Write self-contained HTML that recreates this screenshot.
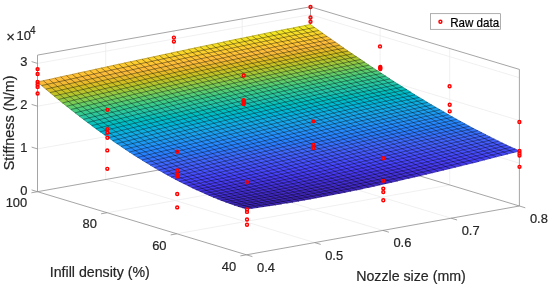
<!DOCTYPE html><html><head><meta charset="utf-8"><title>Stiffness surface</title><style>html,body{margin:0;padding:0;background:#fff}svg{display:block}text{font-family:"Liberation Sans",sans-serif;fill:#262626;stroke:#262626;stroke-width:0.2px}</style></head><body>
<svg width="550" height="287" viewBox="0 0 550 287">
<rect width="550" height="287" fill="#fff"/>
<path d="M107.2 212.7L380.1 163.9M176.8 233.8L449.7 185M105.7 179.5L314.7 242.6M173.9 167.3L382.9 230.4M242.2 155.1L451.2 218.2M105.7 179.5L105.7 42.9M173.9 167.3L173.9 30.7M242.2 155.1L242.2 18.5M37.5 148.9L310.4 100.1M37.5 106.2L310.4 57.4M37.5 63.4L310.4 14.6M380.1 163.9L380.1 27.3M449.7 185L449.7 48.4M310.4 100.1L519.4 163.2M310.4 57.4L519.4 120.5M310.4 14.6L519.4 77.7" fill="none" stroke="#ececec" stroke-width="0.8"/>
<path d="M37.5 191.7L310.4 142.9M310.4 142.9L519.4 206M310.4 142.9L310.5 6.8M37.5 55.1L310.5 6.8M310.5 6.8L519.4 69.4M519.4 206L519.4 69.4M37.5 191.7L37.5 55.1M37.5 191.7L246.5 254.8M246.5 254.8L519.4 206M37.5 191.7L31.6 189.9M37.5 148.9L31.6 147.1M37.5 106.2L31.6 104.4M37.5 63.4L31.6 61.6M37.5 191.7L31.4 192.8M107.2 212.7L101.1 213.8M176.8 233.8L170.7 234.9M246.5 254.8L240.4 255.9M246.5 254.8L252.4 256.6M314.7 242.6L320.7 244.4M382.9 230.4L388.9 232.2M451.2 218.2L457.1 220M519.4 206L525.3 207.8" fill="none" stroke="#8e8e8e" stroke-width="0.8"/>
<defs><g id="sf"><path d="M304.6 25.6l5.8 -1.1l4.2 3l-5.8 1.1z" color="#f5ea22"/><path d="M298.8 26.8l5.8 -1.1l4.2 3l-5.8 1.1z" color="#f5e923"/><path d="M293 27.9l5.8 -1.1l4.2 3l-5.8 1.1z" color="#f5e923"/><path d="M287.2 29.1l5.8 -1.1l4.2 3l-5.8 1.2z" color="#f5e823"/><path d="M281.4 30.2l5.8 -1.2l4.2 3l-5.8 1.2z" color="#f5e824"/><path d="M275.6 31.4l5.8 -1.2l4.2 3l-5.8 1.2z" color="#f5e724"/><path d="M269.8 32.5l5.8 -1.2l4.2 3l-5.8 1.2z" color="#f5e624"/><path d="M263.9 33.7l5.8 -1.2l4.2 3l-5.8 1.2z" color="#f5e624"/><path d="M258.1 34.9l5.8 -1.2l4.2 3l-5.8 1.2z" color="#f5e525"/><path d="M252.3 36.1l5.8 -1.2l4.2 3l-5.8 1.2z" color="#f5e425"/><path d="M246.5 37.3l5.8 -1.2l4.2 3l-5.8 1.2z" color="#f5e325"/><path d="M240.7 38.5l5.8 -1.2l4.2 3l-5.8 1.2z" color="#f5e226"/><path d="M234.9 39.6l5.8 -1.2l4.2 3l-5.8 1.2z" color="#f6e226"/><path d="M229.1 40.8l5.8 -1.2l4.2 3l-5.8 1.2z" color="#f6e126"/><path d="M223.3 42l5.8 -1.2l4.2 3.1l-5.8 1.2z" color="#f6e027"/><path d="M217.5 43.3l5.8 -1.2l4.2 3.1l-5.8 1.2z" color="#f6df27"/><path d="M211.7 44.5l5.8 -1.2l4.2 3.1l-5.8 1.2z" color="#f7de27"/><path d="M205.9 45.7l5.8 -1.2l4.2 3.1l-5.8 1.2z" color="#f7dd28"/><path d="M200.1 46.9l5.8 -1.2l4.2 3.1l-5.8 1.2z" color="#f7dc28"/><path d="M194.3 48.1l5.8 -1.2l4.2 3.1l-5.8 1.2z" color="#f8db29"/><path d="M188.5 49.3l5.8 -1.2l4.2 3.1l-5.8 1.2z" color="#f8da29"/><path d="M182.7 50.6l5.8 -1.2l4.2 3.1l-5.8 1.2z" color="#f9d82a"/><path d="M176.9 51.8l5.8 -1.2l4.2 3.1l-5.8 1.2z" color="#f9d72a"/><path d="M171 53l5.8 -1.2l4.2 3.2l-5.8 1.2z" color="#fad62b"/><path d="M165.2 54.3l5.8 -1.2l4.2 3.2l-5.8 1.3z" color="#fad52b"/><path d="M159.4 55.5l5.8 -1.2l4.2 3.2l-5.8 1.3z" color="#fbd42c"/><path d="M153.6 56.8l5.8 -1.2l4.2 3.2l-5.8 1.3z" color="#fcd32c"/><path d="M147.8 58l5.8 -1.2l4.2 3.2l-5.8 1.3z" color="#fcd22d"/><path d="M142 59.3l5.8 -1.2l4.2 3.2l-5.8 1.3z" color="#fdd02d"/><path d="M136.2 60.5l5.8 -1.3l4.2 3.2l-5.8 1.3z" color="#fdcf2e"/><path d="M130.4 61.8l5.8 -1.3l4.2 3.3l-5.8 1.3z" color="#fdce2e"/><path d="M124.6 63l5.8 -1.3l4.2 3.3l-5.8 1.3z" color="#fecd2f"/><path d="M118.8 64.3l5.8 -1.3l4.2 3.3l-5.8 1.3z" color="#fecc30"/><path d="M113 65.5l5.8 -1.3l4.2 3.3l-5.8 1.3z" color="#feca30"/><path d="M107.2 66.8l5.8 -1.3l4.2 3.3l-5.8 1.3z" color="#ffc931"/><path d="M101.4 68.1l5.8 -1.3l4.2 3.3l-5.8 1.3z" color="#ffc832"/><path d="M95.6 69.3l5.8 -1.3l4.2 3.3l-5.8 1.3z" color="#ffc733"/><path d="M89.8 70.6l5.8 -1.3l4.2 3.4l-5.8 1.3z" color="#ffc534"/><path d="M84 71.9l5.8 -1.3l4.2 3.4l-5.8 1.3z" color="#ffc434"/><path d="M78.1 73.1l5.8 -1.3l4.2 3.4l-5.8 1.3z" color="#ffc335"/><path d="M72.3 74.4l5.8 -1.3l4.2 3.4l-5.8 1.3z" color="#ffc236"/><path d="M66.5 75.7l5.8 -1.3l4.2 3.4l-5.8 1.3z" color="#ffc137"/><path d="M60.7 76.9l5.8 -1.3l4.2 3.5l-5.8 1.3z" color="#ffbf38"/><path d="M54.9 78.2l5.8 -1.3l4.2 3.5l-5.8 1.3z" color="#ffbe39"/><path d="M49.1 79.5l5.8 -1.3l4.2 3.5l-5.8 1.3z" color="#ffbd39"/><path d="M43.3 80.7l5.8 -1.3l4.2 3.5l-5.8 1.3z" color="#febc39"/><path d="M37.5 82l5.8 -1.3l4.2 3.5l-5.8 1.3z" color="#fcbc39"/><path d="M308.8 28.6l5.8 -1.1l4.2 3l-5.8 1.1z" color="#f6e126"/><path d="M303 29.8l5.8 -1.1l4.2 3l-5.8 1.1z" color="#f6e026"/><path d="M297.2 30.9l5.8 -1.1l4.2 3l-5.8 1.1z" color="#f6e027"/><path d="M291.4 32.1l5.8 -1.2l4.2 3l-5.8 1.2z" color="#f6df27"/><path d="M285.5 33.2l5.8 -1.2l4.2 3l-5.8 1.2z" color="#f7de27"/><path d="M279.7 34.4l5.8 -1.2l4.2 3l-5.8 1.2z" color="#f7de27"/><path d="M273.9 35.6l5.8 -1.2l4.2 3l-5.8 1.2z" color="#f7dd28"/><path d="M268.1 36.7l5.8 -1.2l4.2 3l-5.8 1.2z" color="#f7dc28"/><path d="M262.3 37.9l5.8 -1.2l4.2 3l-5.8 1.2z" color="#f8db28"/><path d="M256.5 39.1l5.8 -1.2l4.2 3l-5.8 1.2z" color="#f8db29"/><path d="M250.7 40.3l5.8 -1.2l4.2 3l-5.8 1.2z" color="#f8da29"/><path d="M244.9 41.5l5.8 -1.2l4.2 3l-5.8 1.2z" color="#f9d929"/><path d="M239.1 42.7l5.8 -1.2l4.2 3l-5.8 1.2z" color="#f9d82a"/><path d="M233.3 43.9l5.8 -1.2l4.2 3l-5.8 1.2z" color="#fad72a"/><path d="M227.5 45.1l5.8 -1.2l4.2 3l-5.8 1.2z" color="#fad62b"/><path d="M221.7 46.3l5.8 -1.2l4.2 3.1l-5.8 1.2z" color="#fbd52b"/><path d="M215.9 47.5l5.8 -1.2l4.2 3.1l-5.8 1.2z" color="#fbd42c"/><path d="M210.1 48.8l5.8 -1.2l4.2 3.1l-5.8 1.2z" color="#fbd32c"/><path d="M204.3 50l5.8 -1.2l4.2 3.1l-5.8 1.2z" color="#fcd22c"/><path d="M198.5 51.2l5.8 -1.2l4.2 3.1l-5.8 1.2z" color="#fcd12d"/><path d="M192.6 52.5l5.8 -1.2l4.2 3.1l-5.8 1.2z" color="#fdd02d"/><path d="M186.8 53.7l5.8 -1.2l4.2 3.1l-5.8 1.3z" color="#fdcf2e"/><path d="M181 55l5.8 -1.2l4.2 3.1l-5.8 1.3z" color="#fecd2f"/><path d="M175.2 56.2l5.8 -1.2l4.2 3.1l-5.8 1.3z" color="#fecc2f"/><path d="M169.4 57.5l5.8 -1.3l4.2 3.2l-5.8 1.3z" color="#fecb30"/><path d="M163.6 58.7l5.8 -1.3l4.2 3.2l-5.8 1.3z" color="#ffca31"/><path d="M157.8 60l5.8 -1.3l4.2 3.2l-5.8 1.3z" color="#ffc931"/><path d="M152 61.2l5.8 -1.3l4.2 3.2l-5.8 1.3z" color="#ffc732"/><path d="M146.2 62.5l5.8 -1.3l4.2 3.2l-5.8 1.3z" color="#ffc633"/><path d="M140.4 63.8l5.8 -1.3l4.2 3.2l-5.8 1.3z" color="#ffc534"/><path d="M134.6 65l5.8 -1.3l4.2 3.2l-5.8 1.3z" color="#ffc435"/><path d="M128.8 66.3l5.8 -1.3l4.2 3.2l-5.8 1.3z" color="#ffc336"/><path d="M123 67.6l5.8 -1.3l4.2 3.3l-5.8 1.3z" color="#ffc136"/><path d="M117.2 68.9l5.8 -1.3l4.2 3.3l-5.8 1.3z" color="#ffc037"/><path d="M111.4 70.1l5.8 -1.3l4.2 3.3l-5.8 1.3z" color="#ffbf38"/><path d="M105.6 71.4l5.8 -1.3l4.2 3.3l-5.8 1.3z" color="#ffbe39"/><path d="M99.7 72.7l5.8 -1.3l4.2 3.3l-5.8 1.3z" color="#febd39"/><path d="M93.9 74l5.8 -1.3l4.2 3.3l-5.8 1.3z" color="#fdbc39"/><path d="M88.1 75.3l5.8 -1.3l4.2 3.4l-5.8 1.3z" color="#fcbb3a"/><path d="M82.3 76.5l5.8 -1.3l4.2 3.4l-5.8 1.3z" color="#fbbb3a"/><path d="M76.5 77.8l5.8 -1.3l4.2 3.4l-5.8 1.3z" color="#f9ba39"/><path d="M70.7 79.1l5.8 -1.3l4.2 3.4l-5.8 1.3z" color="#f7ba37"/><path d="M64.9 80.4l5.8 -1.3l4.2 3.4l-5.8 1.3z" color="#f5ba36"/><path d="M59.1 81.7l5.8 -1.3l4.2 3.5l-5.8 1.3z" color="#f3ba34"/><path d="M53.3 83l5.8 -1.3l4.2 3.5l-5.8 1.3z" color="#f1ba32"/><path d="M47.5 84.3l5.8 -1.3l4.2 3.5l-5.8 1.3z" color="#efba30"/><path d="M41.7 85.6l5.8 -1.3l4.2 3.5l-5.8 1.3z" color="#edba2e"/><path d="M313 31.6l5.8 -1.1l4.2 3l-5.8 1.1z" color="#f9d82a"/><path d="M307.1 32.8l5.8 -1.1l4.2 3l-5.8 1.1z" color="#fad72a"/><path d="M301.3 33.9l5.8 -1.1l4.2 3l-5.8 1.1z" color="#fad72a"/><path d="M295.5 35.1l5.8 -1.2l4.2 3l-5.8 1.2z" color="#fad62b"/><path d="M289.7 36.2l5.8 -1.2l4.2 3l-5.8 1.2z" color="#fad52b"/><path d="M283.9 37.4l5.8 -1.2l4.2 3l-5.8 1.2z" color="#fbd42b"/><path d="M278.1 38.6l5.8 -1.2l4.2 3l-5.8 1.2z" color="#fbd42c"/><path d="M272.3 39.7l5.8 -1.2l4.2 3l-5.8 1.2z" color="#fbd32c"/><path d="M266.5 40.9l5.8 -1.2l4.2 3l-5.8 1.2z" color="#fcd22c"/><path d="M260.7 42.1l5.8 -1.2l4.2 3l-5.8 1.2z" color="#fcd12d"/><path d="M254.9 43.3l5.8 -1.2l4.2 3l-5.8 1.2z" color="#fdd02d"/><path d="M249.1 44.5l5.8 -1.2l4.2 3l-5.8 1.2z" color="#fdcf2d"/><path d="M243.3 45.7l5.8 -1.2l4.2 3l-5.8 1.2z" color="#fdcf2e"/><path d="M237.5 46.9l5.8 -1.2l4.2 3l-5.8 1.2z" color="#fece2e"/><path d="M231.7 48.2l5.8 -1.2l4.2 3l-5.8 1.2z" color="#fecd2f"/><path d="M225.9 49.4l5.8 -1.2l4.2 3l-5.8 1.2z" color="#fecc30"/><path d="M220.1 50.6l5.8 -1.2l4.2 3.1l-5.8 1.2z" color="#fecb30"/><path d="M214.2 51.9l5.8 -1.2l4.2 3.1l-5.8 1.2z" color="#ffc931"/><path d="M208.4 53.1l5.8 -1.2l4.2 3.1l-5.8 1.2z" color="#ffc831"/><path d="M202.6 54.3l5.8 -1.2l4.2 3.1l-5.8 1.3z" color="#ffc732"/><path d="M196.8 55.6l5.8 -1.2l4.2 3.1l-5.8 1.3z" color="#ffc633"/><path d="M191 56.8l5.8 -1.3l4.2 3.1l-5.8 1.3z" color="#ffc534"/><path d="M185.2 58.1l5.8 -1.3l4.2 3.1l-5.8 1.3z" color="#ffc435"/><path d="M179.4 59.4l5.8 -1.3l4.2 3.1l-5.8 1.3z" color="#ffc335"/><path d="M173.6 60.6l5.8 -1.3l4.2 3.1l-5.8 1.3z" color="#ffc236"/><path d="M167.8 61.9l5.8 -1.3l4.2 3.1l-5.8 1.3z" color="#ffc037"/><path d="M162 63.2l5.8 -1.3l4.2 3.2l-5.8 1.3z" color="#ffbf38"/><path d="M156.2 64.4l5.8 -1.3l4.2 3.2l-5.8 1.3z" color="#ffbe39"/><path d="M150.4 65.7l5.8 -1.3l4.2 3.2l-5.8 1.3z" color="#ffbd39"/><path d="M144.6 67l5.8 -1.3l4.2 3.2l-5.8 1.3z" color="#fdbc39"/><path d="M138.8 68.3l5.8 -1.3l4.2 3.2l-5.8 1.3z" color="#fcbc39"/><path d="M133 69.6l5.8 -1.3l4.2 3.2l-5.8 1.3z" color="#fbbb3a"/><path d="M127.1 70.9l5.8 -1.3l4.2 3.2l-5.8 1.3z" color="#faba3a"/><path d="M121.3 72.1l5.8 -1.3l4.2 3.3l-5.8 1.3z" color="#f8ba38"/><path d="M115.5 73.4l5.8 -1.3l4.2 3.3l-5.8 1.3z" color="#f6ba36"/><path d="M109.7 74.7l5.8 -1.3l4.2 3.3l-5.8 1.3z" color="#f4ba34"/><path d="M103.9 76l5.8 -1.3l4.2 3.3l-5.8 1.3z" color="#f2ba33"/><path d="M98.1 77.3l5.8 -1.3l4.2 3.3l-5.8 1.3z" color="#f0ba31"/><path d="M92.3 78.6l5.8 -1.3l4.2 3.3l-5.8 1.3z" color="#eeba2f"/><path d="M86.5 79.9l5.8 -1.3l4.2 3.4l-5.8 1.3z" color="#ecba2c"/><path d="M80.7 81.2l5.8 -1.3l4.2 3.4l-5.8 1.3z" color="#e9bb2a"/><path d="M74.9 82.5l5.8 -1.3l4.2 3.4l-5.8 1.3z" color="#e7bb29"/><path d="M69.1 83.9l5.8 -1.3l4.2 3.4l-5.8 1.3z" color="#e5bc27"/><path d="M63.3 85.2l5.8 -1.3l4.2 3.4l-5.8 1.3z" color="#e2bc26"/><path d="M57.5 86.5l5.8 -1.3l4.2 3.4l-5.8 1.3z" color="#e0bd25"/><path d="M51.7 87.8l5.8 -1.3l4.2 3.5l-5.8 1.3z" color="#ddbd24"/><path d="M45.9 89.1l5.8 -1.3l4.2 3.5l-5.8 1.3z" color="#dabe23"/><path d="M317.1 34.6l5.8 -1.1l4.2 3l-5.8 1.1z" color="#fdcf2e"/><path d="M311.3 35.7l5.8 -1.1l4.2 3l-5.8 1.1z" color="#fdce2e"/><path d="M305.5 36.9l5.8 -1.1l4.2 3l-5.8 1.2z" color="#fecd2f"/><path d="M299.7 38l5.8 -1.2l4.2 3l-5.8 1.2z" color="#fecd2f"/><path d="M293.9 39.2l5.8 -1.2l4.2 3l-5.8 1.2z" color="#fecc2f"/><path d="M288.1 40.4l5.8 -1.2l4.2 3l-5.8 1.2z" color="#fecb30"/><path d="M282.3 41.6l5.8 -1.2l4.2 3l-5.8 1.2z" color="#fecb30"/><path d="M276.5 42.7l5.8 -1.2l4.2 3l-5.8 1.2z" color="#ffca31"/><path d="M270.7 43.9l5.8 -1.2l4.2 3l-5.8 1.2z" color="#ffc931"/><path d="M264.9 45.1l5.8 -1.2l4.2 3l-5.8 1.2z" color="#ffc832"/><path d="M259.1 46.3l5.8 -1.2l4.2 3l-5.8 1.2z" color="#ffc732"/><path d="M253.3 47.5l5.8 -1.2l4.2 3l-5.8 1.2z" color="#ffc633"/><path d="M247.5 48.8l5.8 -1.2l4.2 3l-5.8 1.2z" color="#ffc633"/><path d="M241.7 50l5.8 -1.2l4.2 3l-5.8 1.2z" color="#ffc534"/><path d="M235.8 51.2l5.8 -1.2l4.2 3l-5.8 1.2z" color="#ffc435"/><path d="M230 52.4l5.8 -1.2l4.2 3l-5.8 1.2z" color="#ffc336"/><path d="M224.2 53.7l5.8 -1.2l4.2 3l-5.8 1.2z" color="#ffc236"/><path d="M218.4 54.9l5.8 -1.2l4.2 3l-5.8 1.3z" color="#ffc137"/><path d="M212.6 56.2l5.8 -1.2l4.2 3.1l-5.8 1.3z" color="#ffbf38"/><path d="M206.8 57.4l5.8 -1.3l4.2 3.1l-5.8 1.3z" color="#ffbe39"/><path d="M201 58.7l5.8 -1.3l4.2 3.1l-5.8 1.3z" color="#ffbd39"/><path d="M195.2 60l5.8 -1.3l4.2 3.1l-5.8 1.3z" color="#febd39"/><path d="M189.4 61.2l5.8 -1.3l4.2 3.1l-5.8 1.3z" color="#fdbc39"/><path d="M183.6 62.5l5.8 -1.3l4.2 3.1l-5.8 1.3z" color="#fcbb3a"/><path d="M177.8 63.8l5.8 -1.3l4.2 3.1l-5.8 1.3z" color="#fabb3a"/><path d="M172 65.1l5.8 -1.3l4.2 3.1l-5.8 1.3z" color="#f9ba39"/><path d="M166.2 66.3l5.8 -1.3l4.2 3.1l-5.8 1.3z" color="#f7ba37"/><path d="M160.4 67.6l5.8 -1.3l4.2 3.2l-5.8 1.3z" color="#f5ba36"/><path d="M154.6 68.9l5.8 -1.3l4.2 3.2l-5.8 1.3z" color="#f3ba34"/><path d="M148.7 70.2l5.8 -1.3l4.2 3.2l-5.8 1.3z" color="#f1ba32"/><path d="M142.9 71.5l5.8 -1.3l4.2 3.2l-5.8 1.3z" color="#efba30"/><path d="M137.1 72.8l5.8 -1.3l4.2 3.2l-5.8 1.3z" color="#edba2e"/><path d="M131.3 74.1l5.8 -1.3l4.2 3.2l-5.8 1.3z" color="#ebbb2c"/><path d="M125.5 75.4l5.8 -1.3l4.2 3.2l-5.8 1.3z" color="#e9bb2a"/><path d="M119.7 76.7l5.8 -1.3l4.2 3.3l-5.8 1.3z" color="#e7bb28"/><path d="M113.9 78l5.8 -1.3l4.2 3.3l-5.8 1.3z" color="#e4bc27"/><path d="M108.1 79.4l5.8 -1.3l4.2 3.3l-5.8 1.3z" color="#e2bc26"/><path d="M102.3 80.7l5.8 -1.3l4.2 3.3l-5.8 1.3z" color="#dfbd25"/><path d="M96.5 82l5.8 -1.3l4.2 3.3l-5.8 1.3z" color="#dcbd24"/><path d="M90.7 83.3l5.8 -1.3l4.2 3.3l-5.8 1.3z" color="#dabe23"/><path d="M84.9 84.6l5.8 -1.3l4.2 3.3l-5.8 1.3z" color="#d7be23"/><path d="M79.1 86l5.8 -1.3l4.2 3.4l-5.8 1.3z" color="#d4bf22"/><path d="M73.3 87.3l5.8 -1.3l4.2 3.4l-5.8 1.3z" color="#d1c022"/><path d="M67.5 88.6l5.8 -1.3l4.2 3.4l-5.8 1.3z" color="#cec023"/><path d="M61.7 89.9l5.8 -1.3l4.2 3.4l-5.8 1.3z" color="#cbc123"/><path d="M55.8 91.2l5.8 -1.3l4.2 3.4l-5.8 1.3z" color="#c8c224"/><path d="M50 92.6l5.8 -1.3l4.2 3.4l-5.8 1.3z" color="#c5c225"/><path d="M321.3 37.5l5.8 -1.1l4.2 2.9l-5.8 1.1z" color="#ffc633"/><path d="M315.5 38.7l5.8 -1.1l4.2 2.9l-5.8 1.1z" color="#ffc534"/><path d="M309.7 39.8l5.8 -1.2l4.2 3l-5.8 1.2z" color="#ffc534"/><path d="M303.9 41l5.8 -1.2l4.2 3l-5.8 1.2z" color="#ffc434"/><path d="M298.1 42.2l5.8 -1.2l4.2 3l-5.8 1.2z" color="#ffc435"/><path d="M292.3 43.3l5.8 -1.2l4.2 3l-5.8 1.2z" color="#ffc335"/><path d="M286.5 44.5l5.8 -1.2l4.2 3l-5.8 1.2z" color="#ffc236"/><path d="M280.7 45.7l5.8 -1.2l4.2 3l-5.8 1.2z" color="#ffc136"/><path d="M274.9 46.9l5.8 -1.2l4.2 3l-5.8 1.2z" color="#ffc137"/><path d="M269.1 48.1l5.8 -1.2l4.2 3l-5.8 1.2z" color="#ffc038"/><path d="M263.2 49.3l5.8 -1.2l4.2 3l-5.8 1.2z" color="#ffbf38"/><path d="M257.4 50.6l5.8 -1.2l4.2 3l-5.8 1.2z" color="#ffbe39"/><path d="M251.6 51.8l5.8 -1.2l4.2 3l-5.8 1.2z" color="#ffbd39"/><path d="M245.8 53l5.8 -1.2l4.2 3l-5.8 1.2z" color="#febd39"/><path d="M240 54.2l5.8 -1.2l4.2 3l-5.8 1.2z" color="#fdbc39"/><path d="M234.2 55.5l5.8 -1.2l4.2 3l-5.8 1.3z" color="#fcbb3a"/><path d="M228.4 56.7l5.8 -1.2l4.2 3l-5.8 1.3z" color="#fbbb3a"/><path d="M222.6 58l5.8 -1.3l4.2 3l-5.8 1.3z" color="#faba3a"/><path d="M216.8 59.2l5.8 -1.3l4.2 3l-5.8 1.3z" color="#f8ba38"/><path d="M211 60.5l5.8 -1.3l4.2 3.1l-5.8 1.3z" color="#f7ba37"/><path d="M205.2 61.8l5.8 -1.3l4.2 3.1l-5.8 1.3z" color="#f5ba35"/><path d="M199.4 63.1l5.8 -1.3l4.2 3.1l-5.8 1.3z" color="#f3ba34"/><path d="M193.6 64.3l5.8 -1.3l4.2 3.1l-5.8 1.3z" color="#f1ba32"/><path d="M187.8 65.6l5.8 -1.3l4.2 3.1l-5.8 1.3z" color="#efba30"/><path d="M182 66.9l5.8 -1.3l4.2 3.1l-5.8 1.3z" color="#edba2e"/><path d="M176.2 68.2l5.8 -1.3l4.2 3.1l-5.8 1.3z" color="#ebbb2c"/><path d="M170.3 69.5l5.8 -1.3l4.2 3.1l-5.8 1.3z" color="#e9bb2a"/><path d="M164.5 70.8l5.8 -1.3l4.2 3.1l-5.8 1.3z" color="#e7bb28"/><path d="M158.7 72.1l5.8 -1.3l4.2 3.2l-5.8 1.3z" color="#e5bc27"/><path d="M152.9 73.4l5.8 -1.3l4.2 3.2l-5.8 1.3z" color="#e2bc26"/><path d="M147.1 74.7l5.8 -1.3l4.2 3.2l-5.8 1.3z" color="#e0bd25"/><path d="M141.3 76l5.8 -1.3l4.2 3.2l-5.8 1.3z" color="#ddbd24"/><path d="M135.5 77.4l5.8 -1.3l4.2 3.2l-5.8 1.3z" color="#dabe23"/><path d="M129.7 78.7l5.8 -1.3l4.2 3.2l-5.8 1.3z" color="#d7be23"/><path d="M123.9 80l5.8 -1.3l4.2 3.2l-5.8 1.3z" color="#d5bf22"/><path d="M118.1 81.3l5.8 -1.3l4.2 3.2l-5.8 1.3z" color="#d2c022"/><path d="M112.3 82.7l5.8 -1.3l4.2 3.3l-5.8 1.3z" color="#cfc023"/><path d="M106.5 84l5.8 -1.3l4.2 3.3l-5.8 1.3z" color="#ccc123"/><path d="M100.7 85.3l5.8 -1.3l4.2 3.3l-5.8 1.3z" color="#c8c224"/><path d="M94.9 86.7l5.8 -1.3l4.2 3.3l-5.8 1.3z" color="#c5c225"/><path d="M89.1 88l5.8 -1.3l4.2 3.3l-5.8 1.4z" color="#c2c327"/><path d="M83.3 89.3l5.8 -1.3l4.2 3.3l-5.8 1.4z" color="#bec428"/><path d="M77.4 90.7l5.8 -1.3l4.2 3.3l-5.8 1.4z" color="#bbc42a"/><path d="M71.6 92l5.8 -1.3l4.2 3.4l-5.8 1.4z" color="#b7c52c"/><path d="M65.8 93.4l5.8 -1.3l4.2 3.4l-5.8 1.4z" color="#b4c62e"/><path d="M60 94.7l5.8 -1.3l4.2 3.4l-5.8 1.4z" color="#b0c630"/><path d="M54.2 96l5.8 -1.3l4.2 3.4l-5.8 1.4z" color="#acc733"/><path d="M325.5 40.5l5.8 -1.1l4.2 2.9l-5.8 1.1z" color="#ffbe39"/><path d="M319.7 41.6l5.8 -1.1l4.2 2.9l-5.8 1.1z" color="#ffbd39"/><path d="M313.9 42.8l5.8 -1.2l4.2 2.9l-5.8 1.2z" color="#ffbd39"/><path d="M308.1 44l5.8 -1.2l4.2 2.9l-5.8 1.2z" color="#febd39"/><path d="M302.3 45.1l5.8 -1.2l4.2 2.9l-5.8 1.2z" color="#fdbc39"/><path d="M296.5 46.3l5.8 -1.2l4.2 2.9l-5.8 1.2z" color="#fdbc39"/><path d="M290.7 47.5l5.8 -1.2l4.2 3l-5.8 1.2z" color="#fcbb3a"/><path d="M284.8 48.7l5.8 -1.2l4.2 3l-5.8 1.2z" color="#fbbb3a"/><path d="M279 49.9l5.8 -1.2l4.2 3l-5.8 1.2z" color="#faba3a"/><path d="M273.2 51.1l5.8 -1.2l4.2 3l-5.8 1.2z" color="#f9ba39"/><path d="M267.4 52.3l5.8 -1.2l4.2 3l-5.8 1.2z" color="#f8ba38"/><path d="M261.6 53.5l5.8 -1.2l4.2 3l-5.8 1.2z" color="#f7ba37"/><path d="M255.8 54.8l5.8 -1.2l4.2 3l-5.8 1.2z" color="#f5ba36"/><path d="M250 56l5.8 -1.2l4.2 3l-5.8 1.2z" color="#f4ba34"/><path d="M244.2 57.3l5.8 -1.2l4.2 3l-5.8 1.3z" color="#f2ba33"/><path d="M238.4 58.5l5.8 -1.3l4.2 3l-5.8 1.3z" color="#f1ba31"/><path d="M232.6 59.8l5.8 -1.3l4.2 3l-5.8 1.3z" color="#efba30"/><path d="M226.8 61l5.8 -1.3l4.2 3l-5.8 1.3z" color="#edba2e"/><path d="M221 62.3l5.8 -1.3l4.2 3l-5.8 1.3z" color="#ebbb2c"/><path d="M215.2 63.6l5.8 -1.3l4.2 3l-5.8 1.3z" color="#e9bb2a"/><path d="M209.4 64.9l5.8 -1.3l4.2 3.1l-5.8 1.3z" color="#e7bb29"/><path d="M203.6 66.1l5.8 -1.3l4.2 3.1l-5.8 1.3z" color="#e5bb28"/><path d="M197.8 67.4l5.8 -1.3l4.2 3.1l-5.8 1.3z" color="#e3bc26"/><path d="M191.9 68.7l5.8 -1.3l4.2 3.1l-5.8 1.3z" color="#e0bc25"/><path d="M186.1 70l5.8 -1.3l4.2 3.1l-5.8 1.3z" color="#debd24"/><path d="M180.3 71.3l5.8 -1.3l4.2 3.1l-5.8 1.3z" color="#dbbd24"/><path d="M174.5 72.6l5.8 -1.3l4.2 3.1l-5.8 1.3z" color="#d9be23"/><path d="M168.7 74l5.8 -1.3l4.2 3.1l-5.8 1.3z" color="#d6bf23"/><path d="M162.9 75.3l5.8 -1.3l4.2 3.1l-5.8 1.3z" color="#d3bf22"/><path d="M157.1 76.6l5.8 -1.3l4.2 3.2l-5.8 1.3z" color="#d0c022"/><path d="M151.3 77.9l5.8 -1.3l4.2 3.2l-5.8 1.3z" color="#cdc023"/><path d="M145.5 79.2l5.8 -1.3l4.2 3.2l-5.8 1.3z" color="#cac124"/><path d="M139.7 80.6l5.8 -1.3l4.2 3.2l-5.8 1.3z" color="#c7c224"/><path d="M133.9 81.9l5.8 -1.3l4.2 3.2l-5.8 1.3z" color="#c4c326"/><path d="M128.1 83.3l5.8 -1.3l4.2 3.2l-5.8 1.4z" color="#c0c327"/><path d="M122.3 84.6l5.8 -1.3l4.2 3.2l-5.8 1.4z" color="#bdc429"/><path d="M116.5 85.9l5.8 -1.3l4.2 3.2l-5.8 1.4z" color="#bac52b"/><path d="M110.7 87.3l5.8 -1.3l4.2 3.3l-5.8 1.4z" color="#b6c52d"/><path d="M104.9 88.6l5.8 -1.3l4.2 3.3l-5.8 1.4z" color="#b2c62f"/><path d="M99 90l5.8 -1.3l4.2 3.3l-5.8 1.4z" color="#aec731"/><path d="M93.2 91.3l5.8 -1.4l4.2 3.3l-5.8 1.4z" color="#abc734"/><path d="M87.4 92.7l5.8 -1.4l4.2 3.3l-5.8 1.4z" color="#a7c836"/><path d="M81.6 94l5.8 -1.4l4.2 3.3l-5.8 1.4z" color="#a3c939"/><path d="M75.8 95.4l5.8 -1.4l4.2 3.3l-5.8 1.4z" color="#9fc93c"/><path d="M70 96.7l5.8 -1.4l4.2 3.3l-5.8 1.4z" color="#9bca3f"/><path d="M64.2 98.1l5.8 -1.4l4.2 3.4l-5.8 1.4z" color="#96ca42"/><path d="M58.4 99.5l5.8 -1.4l4.2 3.4l-5.8 1.4z" color="#92cb45"/><path d="M329.7 43.4l5.8 -1.1l4.2 2.9l-5.8 1.1z" color="#f7ba37"/><path d="M323.9 44.6l5.8 -1.1l4.2 2.9l-5.8 1.2z" color="#f6ba36"/><path d="M318.1 45.7l5.8 -1.2l4.2 2.9l-5.8 1.2z" color="#f5ba35"/><path d="M312.3 46.9l5.8 -1.2l4.2 2.9l-5.8 1.2z" color="#f4ba35"/><path d="M306.4 48.1l5.8 -1.2l4.2 2.9l-5.8 1.2z" color="#f3ba34"/><path d="M300.6 49.3l5.8 -1.2l4.2 2.9l-5.8 1.2z" color="#f2ba33"/><path d="M294.8 50.5l5.8 -1.2l4.2 2.9l-5.8 1.2z" color="#f1ba32"/><path d="M289 51.7l5.8 -1.2l4.2 2.9l-5.8 1.2z" color="#f0ba30"/><path d="M283.2 52.9l5.8 -1.2l4.2 2.9l-5.8 1.2z" color="#eeba2f"/><path d="M277.4 54.1l5.8 -1.2l4.2 3l-5.8 1.2z" color="#edba2e"/><path d="M271.6 55.3l5.8 -1.2l4.2 3l-5.8 1.2z" color="#ebba2c"/><path d="M265.8 56.5l5.8 -1.2l4.2 3l-5.8 1.2z" color="#eabb2b"/><path d="M260 57.8l5.8 -1.2l4.2 3l-5.8 1.2z" color="#e8bb29"/><path d="M254.2 59l5.8 -1.2l4.2 3l-5.8 1.3z" color="#e6bb28"/><path d="M248.4 60.3l5.8 -1.3l4.2 3l-5.8 1.3z" color="#e5bc27"/><path d="M242.6 61.5l5.8 -1.3l4.2 3l-5.8 1.3z" color="#e3bc26"/><path d="M236.8 62.8l5.8 -1.3l4.2 3l-5.8 1.3z" color="#e0bc25"/><path d="M231 64.1l5.8 -1.3l4.2 3l-5.8 1.3z" color="#debd24"/><path d="M225.2 65.3l5.8 -1.3l4.2 3l-5.8 1.3z" color="#dcbd24"/><path d="M219.4 66.6l5.8 -1.3l4.2 3l-5.8 1.3z" color="#dabe23"/><path d="M213.5 67.9l5.8 -1.3l4.2 3l-5.8 1.3z" color="#d7be23"/><path d="M207.7 69.2l5.8 -1.3l4.2 3l-5.8 1.3z" color="#d5bf22"/><path d="M201.9 70.5l5.8 -1.3l4.2 3.1l-5.8 1.3z" color="#d2bf22"/><path d="M196.1 71.8l5.8 -1.3l4.2 3.1l-5.8 1.3z" color="#cfc023"/><path d="M190.3 73.1l5.8 -1.3l4.2 3.1l-5.8 1.3z" color="#ccc123"/><path d="M184.5 74.5l5.8 -1.3l4.2 3.1l-5.8 1.3z" color="#c9c124"/><path d="M178.7 75.8l5.8 -1.3l4.2 3.1l-5.8 1.3z" color="#c6c224"/><path d="M172.9 77.1l5.8 -1.3l4.2 3.1l-5.8 1.3z" color="#c3c326"/><path d="M167.1 78.4l5.8 -1.3l4.2 3.1l-5.8 1.3z" color="#c0c328"/><path d="M161.3 79.8l5.8 -1.3l4.2 3.1l-5.8 1.3z" color="#bdc429"/><path d="M155.5 81.1l5.8 -1.3l4.2 3.1l-5.8 1.3z" color="#b9c52b"/><path d="M149.7 82.4l5.8 -1.3l4.2 3.2l-5.8 1.4z" color="#b6c52d"/><path d="M143.9 83.8l5.8 -1.3l4.2 3.2l-5.8 1.4z" color="#b2c62f"/><path d="M138.1 85.1l5.8 -1.3l4.2 3.2l-5.8 1.4z" color="#aec731"/><path d="M132.3 86.5l5.8 -1.4l4.2 3.2l-5.8 1.4z" color="#aac734"/><path d="M126.5 87.8l5.8 -1.4l4.2 3.2l-5.8 1.4z" color="#a7c836"/><path d="M120.6 89.2l5.8 -1.4l4.2 3.2l-5.8 1.4z" color="#a2c939"/><path d="M114.8 90.5l5.8 -1.4l4.2 3.2l-5.8 1.4z" color="#9ec93c"/><path d="M109 91.9l5.8 -1.4l4.2 3.2l-5.8 1.4z" color="#9aca3f"/><path d="M103.2 93.3l5.8 -1.4l4.2 3.3l-5.8 1.4z" color="#96ca42"/><path d="M97.4 94.6l5.8 -1.4l4.2 3.3l-5.8 1.4z" color="#92cb45"/><path d="M91.6 96l5.8 -1.4l4.2 3.3l-5.8 1.4z" color="#8ecc49"/><path d="M85.8 97.4l5.8 -1.4l4.2 3.3l-5.8 1.4z" color="#89cc4c"/><path d="M80 98.7l5.8 -1.4l4.2 3.3l-5.8 1.4z" color="#85cc4f"/><path d="M74.2 100.1l5.8 -1.4l4.2 3.3l-5.8 1.4z" color="#80cd52"/><path d="M68.4 101.5l5.8 -1.4l4.2 3.3l-5.8 1.4z" color="#7ccd56"/><path d="M62.6 102.9l5.8 -1.4l4.2 3.3l-5.8 1.4z" color="#77cd59"/><path d="M333.9 46.4l5.8 -1.1l4.2 2.9l-5.8 1.1z" color="#ebbb2c"/><path d="M328 47.5l5.8 -1.2l4.2 2.9l-5.8 1.2z" color="#eabb2b"/><path d="M322.2 48.7l5.8 -1.2l4.2 2.9l-5.8 1.2z" color="#e9bb2a"/><path d="M316.4 49.8l5.8 -1.2l4.2 2.9l-5.8 1.2z" color="#e8bb29"/><path d="M310.6 51l5.8 -1.2l4.2 2.9l-5.8 1.2z" color="#e6bb28"/><path d="M304.8 52.2l5.8 -1.2l4.2 2.9l-5.8 1.2z" color="#e5bb28"/><path d="M299 53.4l5.8 -1.2l4.2 2.9l-5.8 1.2z" color="#e4bc27"/><path d="M293.2 54.6l5.8 -1.2l4.2 2.9l-5.8 1.2z" color="#e2bc26"/><path d="M287.4 55.8l5.8 -1.2l4.2 2.9l-5.8 1.2z" color="#e1bc25"/><path d="M281.6 57l5.8 -1.2l4.2 2.9l-5.8 1.2z" color="#dfbd25"/><path d="M275.8 58.3l5.8 -1.2l4.2 2.9l-5.8 1.2z" color="#ddbd24"/><path d="M270 59.5l5.8 -1.2l4.2 3l-5.8 1.2z" color="#dbbd24"/><path d="M264.2 60.8l5.8 -1.2l4.2 3l-5.8 1.3z" color="#d9be23"/><path d="M258.4 62l5.8 -1.3l4.2 3l-5.8 1.3z" color="#d7be23"/><path d="M252.6 63.3l5.8 -1.3l4.2 3l-5.8 1.3z" color="#d5bf22"/><path d="M246.8 64.5l5.8 -1.3l4.2 3l-5.8 1.3z" color="#d3bf22"/><path d="M241 65.8l5.8 -1.3l4.2 3l-5.8 1.3z" color="#d0c022"/><path d="M235.1 67.1l5.8 -1.3l4.2 3l-5.8 1.3z" color="#cec023"/><path d="M229.3 68.4l5.8 -1.3l4.2 3l-5.8 1.3z" color="#cbc123"/><path d="M223.5 69.7l5.8 -1.3l4.2 3l-5.8 1.3z" color="#c8c224"/><path d="M217.7 71l5.8 -1.3l4.2 3l-5.8 1.3z" color="#c6c225"/><path d="M211.9 72.3l5.8 -1.3l4.2 3l-5.8 1.3z" color="#c3c326"/><path d="M206.1 73.6l5.8 -1.3l4.2 3l-5.8 1.3z" color="#bfc328"/><path d="M200.3 74.9l5.8 -1.3l4.2 3.1l-5.8 1.3z" color="#bcc429"/><path d="M194.5 76.2l5.8 -1.3l4.2 3.1l-5.8 1.3z" color="#b9c52b"/><path d="M188.7 77.5l5.8 -1.3l4.2 3.1l-5.8 1.3z" color="#b6c52d"/><path d="M182.9 78.9l5.8 -1.3l4.2 3.1l-5.8 1.3z" color="#b2c62f"/><path d="M177.1 80.2l5.8 -1.3l4.2 3.1l-5.8 1.3z" color="#afc731"/><path d="M171.3 81.6l5.8 -1.3l4.2 3.1l-5.8 1.4z" color="#abc733"/><path d="M165.5 82.9l5.8 -1.3l4.2 3.1l-5.8 1.4z" color="#a7c836"/><path d="M159.7 84.3l5.8 -1.3l4.2 3.1l-5.8 1.4z" color="#a3c939"/><path d="M153.9 85.6l5.8 -1.4l4.2 3.1l-5.8 1.4z" color="#9fc93b"/><path d="M148 87l5.8 -1.4l4.2 3.1l-5.8 1.4z" color="#9bca3e"/><path d="M142.2 88.3l5.8 -1.4l4.2 3.2l-5.8 1.4z" color="#97ca41"/><path d="M136.4 89.7l5.8 -1.4l4.2 3.2l-5.8 1.4z" color="#93cb45"/><path d="M130.6 91l5.8 -1.4l4.2 3.2l-5.8 1.4z" color="#8fcb48"/><path d="M124.8 92.4l5.8 -1.4l4.2 3.2l-5.8 1.4z" color="#8acc4b"/><path d="M119 93.8l5.8 -1.4l4.2 3.2l-5.8 1.4z" color="#86cc4e"/><path d="M113.2 95.2l5.8 -1.4l4.2 3.2l-5.8 1.4z" color="#82cd52"/><path d="M107.4 96.5l5.8 -1.4l4.2 3.2l-5.8 1.4z" color="#7dcd55"/><path d="M101.6 97.9l5.8 -1.4l4.2 3.2l-5.8 1.4z" color="#78cd58"/><path d="M95.8 99.3l5.8 -1.4l4.2 3.3l-5.8 1.4z" color="#74ce5c"/><path d="M90 100.7l5.8 -1.4l4.2 3.3l-5.8 1.4z" color="#6fce5f"/><path d="M84.2 102.1l5.8 -1.4l4.2 3.3l-5.8 1.4z" color="#6bce62"/><path d="M78.4 103.4l5.8 -1.4l4.2 3.3l-5.8 1.4z" color="#66ce66"/><path d="M72.6 104.8l5.8 -1.4l4.2 3.3l-5.8 1.4z" color="#62ce6a"/><path d="M66.8 106.2l5.8 -1.4l4.2 3.3l-5.8 1.4z" color="#5ece6d"/><path d="M338 49.3l5.8 -1.1l4.2 2.9l-5.8 1.1z" color="#ddbd24"/><path d="M332.2 50.4l5.8 -1.2l4.2 2.9l-5.8 1.2z" color="#dcbd24"/><path d="M326.4 51.6l5.8 -1.2l4.2 2.9l-5.8 1.2z" color="#dabe23"/><path d="M320.6 52.8l5.8 -1.2l4.2 2.9l-5.8 1.2z" color="#d9be23"/><path d="M314.8 53.9l5.8 -1.2l4.2 2.9l-5.8 1.2z" color="#d8be23"/><path d="M309 55.1l5.8 -1.2l4.2 2.9l-5.8 1.2z" color="#d6bf23"/><path d="M303.2 56.3l5.8 -1.2l4.2 2.9l-5.8 1.2z" color="#d5bf22"/><path d="M297.4 57.5l5.8 -1.2l4.2 2.9l-5.8 1.2z" color="#d3bf22"/><path d="M291.6 58.8l5.8 -1.2l4.2 2.9l-5.8 1.2z" color="#d1c022"/><path d="M285.8 60l5.8 -1.2l4.2 2.9l-5.8 1.2z" color="#cfc023"/><path d="M280 61.2l5.8 -1.2l4.2 2.9l-5.8 1.2z" color="#cdc123"/><path d="M274.2 62.5l5.8 -1.2l4.2 2.9l-5.8 1.3z" color="#cbc124"/><path d="M268.4 63.7l5.8 -1.3l4.2 2.9l-5.8 1.3z" color="#c9c224"/><path d="M262.6 65l5.8 -1.3l4.2 3l-5.8 1.3z" color="#c6c225"/><path d="M256.7 66.2l5.8 -1.3l4.2 3l-5.8 1.3z" color="#c4c326"/><path d="M250.9 67.5l5.8 -1.3l4.2 3l-5.8 1.3z" color="#c1c327"/><path d="M245.1 68.8l5.8 -1.3l4.2 3l-5.8 1.3z" color="#bec428"/><path d="M239.3 70.1l5.8 -1.3l4.2 3l-5.8 1.3z" color="#bbc42a"/><path d="M233.5 71.4l5.8 -1.3l4.2 3l-5.8 1.3z" color="#b8c52b"/><path d="M227.7 72.7l5.8 -1.3l4.2 3l-5.8 1.3z" color="#b5c52d"/><path d="M221.9 74l5.8 -1.3l4.2 3l-5.8 1.3z" color="#b2c62f"/><path d="M216.1 75.3l5.8 -1.3l4.2 3l-5.8 1.3z" color="#afc731"/><path d="M210.3 76.6l5.8 -1.3l4.2 3l-5.8 1.3z" color="#abc733"/><path d="M204.5 78l5.8 -1.3l4.2 3l-5.8 1.3z" color="#a8c836"/><path d="M198.7 79.3l5.8 -1.3l4.2 3l-5.8 1.3z" color="#a4c838"/><path d="M192.9 80.6l5.8 -1.3l4.2 3.1l-5.8 1.3z" color="#a0c93b"/><path d="M187.1 82l5.8 -1.3l4.2 3.1l-5.8 1.4z" color="#9dca3d"/><path d="M181.3 83.3l5.8 -1.3l4.2 3.1l-5.8 1.4z" color="#99ca40"/><path d="M175.5 84.7l5.8 -1.4l4.2 3.1l-5.8 1.4z" color="#95cb43"/><path d="M169.6 86l5.8 -1.4l4.2 3.1l-5.8 1.4z" color="#91cb46"/><path d="M163.8 87.4l5.8 -1.4l4.2 3.1l-5.8 1.4z" color="#8ccc4a"/><path d="M158 88.7l5.8 -1.4l4.2 3.1l-5.8 1.4z" color="#88cc4d"/><path d="M152.2 90.1l5.8 -1.4l4.2 3.1l-5.8 1.4z" color="#84cc50"/><path d="M146.4 91.5l5.8 -1.4l4.2 3.1l-5.8 1.4z" color="#7fcd53"/><path d="M140.6 92.9l5.8 -1.4l4.2 3.1l-5.8 1.4z" color="#7bcd57"/><path d="M134.8 94.2l5.8 -1.4l4.2 3.2l-5.8 1.4z" color="#76ce5a"/><path d="M129 95.6l5.8 -1.4l4.2 3.2l-5.8 1.4z" color="#72ce5d"/><path d="M123.2 97l5.8 -1.4l4.2 3.2l-5.8 1.4z" color="#6dce61"/><path d="M117.4 98.4l5.8 -1.4l4.2 3.2l-5.8 1.4z" color="#69ce64"/><path d="M111.6 99.8l5.8 -1.4l4.2 3.2l-5.8 1.4z" color="#64ce68"/><path d="M105.8 101.2l5.8 -1.4l4.2 3.2l-5.8 1.4z" color="#60ce6b"/><path d="M100 102.6l5.8 -1.4l4.2 3.2l-5.8 1.4z" color="#5cce6f"/><path d="M94.2 103.9l5.8 -1.4l4.2 3.2l-5.8 1.4z" color="#57ce72"/><path d="M88.4 105.3l5.8 -1.4l4.2 3.2l-5.8 1.4z" color="#53ce76"/><path d="M82.6 106.7l5.8 -1.4l4.2 3.3l-5.8 1.4z" color="#4fce79"/><path d="M76.7 108.1l5.8 -1.4l4.2 3.3l-5.8 1.4z" color="#4bce7d"/><path d="M70.9 109.5l5.8 -1.4l4.2 3.3l-5.8 1.4z" color="#47cd80"/><path d="M342.2 52.2l5.8 -1.1l4.2 2.9l-5.8 1.1z" color="#cdc123"/><path d="M336.4 53.3l5.8 -1.2l4.2 2.9l-5.8 1.2z" color="#ccc123"/><path d="M330.6 54.5l5.8 -1.2l4.2 2.9l-5.8 1.2z" color="#cac124"/><path d="M324.8 55.7l5.8 -1.2l4.2 2.9l-5.8 1.2z" color="#c9c124"/><path d="M319 56.8l5.8 -1.2l4.2 2.9l-5.8 1.2z" color="#c7c224"/><path d="M313.2 58l5.8 -1.2l4.2 2.9l-5.8 1.2z" color="#c6c225"/><path d="M307.4 59.2l5.8 -1.2l4.2 2.9l-5.8 1.2z" color="#c4c326"/><path d="M301.6 60.5l5.8 -1.2l4.2 2.9l-5.8 1.2z" color="#c2c327"/><path d="M295.8 61.7l5.8 -1.2l4.2 2.9l-5.8 1.2z" color="#c0c328"/><path d="M290 62.9l5.8 -1.2l4.2 2.9l-5.8 1.2z" color="#bec429"/><path d="M284.1 64.2l5.8 -1.2l4.2 2.9l-5.8 1.2z" color="#bbc42a"/><path d="M278.3 65.4l5.8 -1.3l4.2 2.9l-5.8 1.3z" color="#b9c52b"/><path d="M272.5 66.7l5.8 -1.3l4.2 2.9l-5.8 1.3z" color="#b6c52d"/><path d="M266.7 67.9l5.8 -1.3l4.2 2.9l-5.8 1.3z" color="#b3c62e"/><path d="M260.9 69.2l5.8 -1.3l4.2 2.9l-5.8 1.3z" color="#b1c630"/><path d="M255.1 70.5l5.8 -1.3l4.2 3l-5.8 1.3z" color="#aec732"/><path d="M249.3 71.8l5.8 -1.3l4.2 3l-5.8 1.3z" color="#abc733"/><path d="M243.5 73.1l5.8 -1.3l4.2 3l-5.8 1.3z" color="#a8c836"/><path d="M237.7 74.4l5.8 -1.3l4.2 3l-5.8 1.3z" color="#a4c838"/><path d="M231.9 75.7l5.8 -1.3l4.2 3l-5.8 1.3z" color="#a1c93a"/><path d="M226.1 77l5.8 -1.3l4.2 3l-5.8 1.3z" color="#9dca3d"/><path d="M220.3 78.3l5.8 -1.3l4.2 3l-5.8 1.3z" color="#9aca3f"/><path d="M214.5 79.7l5.8 -1.3l4.2 3l-5.8 1.3z" color="#96ca42"/><path d="M208.7 81l5.8 -1.3l4.2 3l-5.8 1.3z" color="#92cb45"/><path d="M202.9 82.3l5.8 -1.3l4.2 3l-5.8 1.4z" color="#8ecb48"/><path d="M197.1 83.7l5.8 -1.3l4.2 3l-5.8 1.4z" color="#8acc4b"/><path d="M191.2 85l5.8 -1.4l4.2 3l-5.8 1.4z" color="#86cc4e"/><path d="M185.4 86.4l5.8 -1.4l4.2 3.1l-5.8 1.4z" color="#82cd51"/><path d="M179.6 87.8l5.8 -1.4l4.2 3.1l-5.8 1.4z" color="#7ecd55"/><path d="M173.8 89.1l5.8 -1.4l4.2 3.1l-5.8 1.4z" color="#79cd58"/><path d="M168 90.5l5.8 -1.4l4.2 3.1l-5.8 1.4z" color="#75ce5b"/><path d="M162.2 91.9l5.8 -1.4l4.2 3.1l-5.8 1.4z" color="#70ce5e"/><path d="M156.4 93.3l5.8 -1.4l4.2 3.1l-5.8 1.4z" color="#6cce62"/><path d="M150.6 94.6l5.8 -1.4l4.2 3.1l-5.8 1.4z" color="#67ce65"/><path d="M144.8 96l5.8 -1.4l4.2 3.1l-5.8 1.4z" color="#63ce69"/><path d="M139 97.4l5.8 -1.4l4.2 3.1l-5.8 1.4z" color="#5fce6c"/><path d="M133.2 98.8l5.8 -1.4l4.2 3.1l-5.8 1.4z" color="#5ace70"/><path d="M127.4 100.2l5.8 -1.4l4.2 3.2l-5.8 1.4z" color="#56ce73"/><path d="M121.6 101.6l5.8 -1.4l4.2 3.2l-5.8 1.4z" color="#52ce77"/><path d="M115.8 103l5.8 -1.4l4.2 3.2l-5.8 1.4z" color="#4ece7a"/><path d="M110 104.4l5.8 -1.4l4.2 3.2l-5.8 1.4z" color="#4ace7e"/><path d="M104.2 105.8l5.8 -1.4l4.2 3.2l-5.8 1.4z" color="#46cd81"/><path d="M98.3 107.2l5.8 -1.4l4.2 3.2l-5.8 1.4z" color="#42cd84"/><path d="M92.5 108.6l5.8 -1.4l4.2 3.2l-5.8 1.4z" color="#3ecd88"/><path d="M86.7 110l5.8 -1.4l4.2 3.2l-5.8 1.4z" color="#3acc8b"/><path d="M80.9 111.4l5.8 -1.4l4.2 3.2l-5.8 1.4z" color="#37cc8e"/><path d="M75.1 112.8l5.8 -1.4l4.2 3.2l-5.8 1.4z" color="#34cb91"/><path d="M346.4 55l5.8 -1.1l4.2 2.9l-5.8 1.2z" color="#bcc42a"/><path d="M340.6 56.2l5.8 -1.2l4.2 2.9l-5.8 1.2z" color="#bbc42a"/><path d="M334.8 57.4l5.8 -1.2l4.2 2.9l-5.8 1.2z" color="#b9c52b"/><path d="M329 58.5l5.8 -1.2l4.2 2.9l-5.8 1.2z" color="#b8c52c"/><path d="M323.2 59.7l5.8 -1.2l4.2 2.9l-5.8 1.2z" color="#b6c52d"/><path d="M317.4 60.9l5.8 -1.2l4.2 2.9l-5.8 1.2z" color="#b4c62e"/><path d="M311.6 62.1l5.8 -1.2l4.2 2.9l-5.8 1.2z" color="#b2c62f"/><path d="M305.7 63.4l5.8 -1.2l4.2 2.9l-5.8 1.2z" color="#b0c731"/><path d="M299.9 64.6l5.8 -1.2l4.2 2.9l-5.8 1.2z" color="#adc732"/><path d="M294.1 65.8l5.8 -1.2l4.2 2.9l-5.8 1.2z" color="#abc733"/><path d="M288.3 67.1l5.8 -1.2l4.2 2.9l-5.8 1.3z" color="#a8c835"/><path d="M282.5 68.3l5.8 -1.3l4.2 2.9l-5.8 1.3z" color="#a5c837"/><path d="M276.7 69.6l5.8 -1.3l4.2 2.9l-5.8 1.3z" color="#a3c939"/><path d="M270.9 70.9l5.8 -1.3l4.2 2.9l-5.8 1.3z" color="#a0c93b"/><path d="M265.1 72.2l5.8 -1.3l4.2 2.9l-5.8 1.3z" color="#9dca3d"/><path d="M259.3 73.5l5.8 -1.3l4.2 2.9l-5.8 1.3z" color="#99ca40"/><path d="M253.5 74.8l5.8 -1.3l4.2 2.9l-5.8 1.3z" color="#96ca42"/><path d="M247.7 76.1l5.8 -1.3l4.2 3l-5.8 1.3z" color="#93cb45"/><path d="M241.9 77.4l5.8 -1.3l4.2 3l-5.8 1.3z" color="#8fcb47"/><path d="M236.1 78.7l5.8 -1.3l4.2 3l-5.8 1.3z" color="#8bcc4a"/><path d="M230.3 80l5.8 -1.3l4.2 3l-5.8 1.3z" color="#88cc4d"/><path d="M224.5 81.4l5.8 -1.3l4.2 3l-5.8 1.3z" color="#84cc50"/><path d="M218.7 82.7l5.8 -1.3l4.2 3l-5.8 1.3z" color="#80cd53"/><path d="M212.8 84l5.8 -1.3l4.2 3l-5.8 1.4z" color="#7ccd56"/><path d="M207 85.4l5.8 -1.4l4.2 3l-5.8 1.4z" color="#78cd59"/><path d="M201.2 86.7l5.8 -1.4l4.2 3l-5.8 1.4z" color="#73ce5c"/><path d="M195.4 88.1l5.8 -1.4l4.2 3l-5.8 1.4z" color="#6fce5f"/><path d="M189.6 89.5l5.8 -1.4l4.2 3l-5.8 1.4z" color="#6bce62"/><path d="M183.8 90.8l5.8 -1.4l4.2 3l-5.8 1.4z" color="#67ce66"/><path d="M178 92.2l5.8 -1.4l4.2 3.1l-5.8 1.4z" color="#62ce69"/><path d="M172.2 93.6l5.8 -1.4l4.2 3.1l-5.8 1.4z" color="#5ece6d"/><path d="M166.4 95l5.8 -1.4l4.2 3.1l-5.8 1.4z" color="#5ace70"/><path d="M160.6 96.4l5.8 -1.4l4.2 3.1l-5.8 1.4z" color="#56ce74"/><path d="M154.8 97.8l5.8 -1.4l4.2 3.1l-5.8 1.4z" color="#52ce77"/><path d="M149 99.1l5.8 -1.4l4.2 3.1l-5.8 1.4z" color="#4ece7b"/><path d="M143.2 100.5l5.8 -1.4l4.2 3.1l-5.8 1.4z" color="#4ace7e"/><path d="M137.4 101.9l5.8 -1.4l4.2 3.1l-5.8 1.4z" color="#45cd81"/><path d="M131.6 103.4l5.8 -1.4l4.2 3.1l-5.8 1.4z" color="#42cd84"/><path d="M125.8 104.8l5.8 -1.4l4.2 3.1l-5.8 1.4z" color="#3ecd88"/><path d="M119.9 106.2l5.8 -1.4l4.2 3.1l-5.8 1.4z" color="#3acc8b"/><path d="M114.1 107.6l5.8 -1.4l4.2 3.2l-5.8 1.4z" color="#37cc8e"/><path d="M108.3 109l5.8 -1.4l4.2 3.2l-5.8 1.4z" color="#34cb91"/><path d="M102.5 110.4l5.8 -1.4l4.2 3.2l-5.8 1.4z" color="#32cb94"/><path d="M96.7 111.8l5.8 -1.4l4.2 3.2l-5.8 1.4z" color="#2fca97"/><path d="M90.9 113.2l5.8 -1.4l4.2 3.2l-5.8 1.4z" color="#2dc99a"/><path d="M85.1 114.6l5.8 -1.4l4.2 3.2l-5.8 1.4z" color="#2bc99d"/><path d="M79.3 116.1l5.8 -1.4l4.2 3.2l-5.8 1.4z" color="#29c8a0"/><path d="M350.6 57.9l5.8 -1.2l4.2 2.8l-5.8 1.2z" color="#aac834"/><path d="M344.8 59.1l5.8 -1.2l4.2 2.8l-5.8 1.2z" color="#a8c835"/><path d="M339 60.2l5.8 -1.2l4.2 2.8l-5.8 1.2z" color="#a7c836"/><path d="M333.2 61.4l5.8 -1.2l4.2 2.9l-5.8 1.2z" color="#a5c838"/><path d="M327.3 62.6l5.8 -1.2l4.2 2.9l-5.8 1.2z" color="#a3c939"/><path d="M321.5 63.8l5.8 -1.2l4.2 2.9l-5.8 1.2z" color="#a1c93a"/><path d="M315.7 65l5.8 -1.2l4.2 2.9l-5.8 1.2z" color="#9ec93c"/><path d="M309.9 66.3l5.8 -1.2l4.2 2.9l-5.8 1.2z" color="#9cca3e"/><path d="M304.1 67.5l5.8 -1.2l4.2 2.9l-5.8 1.2z" color="#9aca3f"/><path d="M298.3 68.7l5.8 -1.2l4.2 2.9l-5.8 1.3z" color="#97ca41"/><path d="M292.5 70l5.8 -1.3l4.2 2.9l-5.8 1.3z" color="#94cb44"/><path d="M286.7 71.3l5.8 -1.3l4.2 2.9l-5.8 1.3z" color="#91cb46"/><path d="M280.9 72.5l5.8 -1.3l4.2 2.9l-5.8 1.3z" color="#8ecb48"/><path d="M275.1 73.8l5.8 -1.3l4.2 2.9l-5.8 1.3z" color="#8bcc4a"/><path d="M269.3 75.1l5.8 -1.3l4.2 2.9l-5.8 1.3z" color="#88cc4d"/><path d="M263.5 76.4l5.8 -1.3l4.2 2.9l-5.8 1.3z" color="#84cc4f"/><path d="M257.7 77.7l5.8 -1.3l4.2 2.9l-5.8 1.3z" color="#81cd52"/><path d="M251.9 79l5.8 -1.3l4.2 2.9l-5.8 1.3z" color="#7dcd55"/><path d="M246.1 80.3l5.8 -1.3l4.2 2.9l-5.8 1.3z" color="#79cd58"/><path d="M240.3 81.7l5.8 -1.3l4.2 3l-5.8 1.3z" color="#76ce5a"/><path d="M234.4 83l5.8 -1.3l4.2 3l-5.8 1.3z" color="#72ce5d"/><path d="M228.6 84.3l5.8 -1.3l4.2 3l-5.8 1.3z" color="#6dce60"/><path d="M222.8 85.7l5.8 -1.3l4.2 3l-5.8 1.4z" color="#6ace63"/><path d="M217 87l5.8 -1.4l4.2 3l-5.8 1.4z" color="#66ce67"/><path d="M211.2 88.4l5.8 -1.4l4.2 3l-5.8 1.4z" color="#62ce6a"/><path d="M205.4 89.8l5.8 -1.4l4.2 3l-5.8 1.4z" color="#5ece6d"/><path d="M199.6 91.1l5.8 -1.4l4.2 3l-5.8 1.4z" color="#5ace70"/><path d="M193.8 92.5l5.8 -1.4l4.2 3l-5.8 1.4z" color="#56ce74"/><path d="M188 93.9l5.8 -1.4l4.2 3l-5.8 1.4z" color="#52ce77"/><path d="M182.2 95.3l5.8 -1.4l4.2 3l-5.8 1.4z" color="#4ece7a"/><path d="M176.4 96.7l5.8 -1.4l4.2 3l-5.8 1.4z" color="#4ace7e"/><path d="M170.6 98.1l5.8 -1.4l4.2 3l-5.8 1.4z" color="#46cd81"/><path d="M164.8 99.5l5.8 -1.4l4.2 3.1l-5.8 1.4z" color="#42cd84"/><path d="M159 100.9l5.8 -1.4l4.2 3.1l-5.8 1.4z" color="#3ecd87"/><path d="M153.2 102.3l5.8 -1.4l4.2 3.1l-5.8 1.4z" color="#3bcc8b"/><path d="M147.4 103.7l5.8 -1.4l4.2 3.1l-5.8 1.4z" color="#37cc8e"/><path d="M141.5 105.1l5.8 -1.4l4.2 3.1l-5.8 1.4z" color="#35cb91"/><path d="M135.7 106.5l5.8 -1.4l4.2 3.1l-5.8 1.4z" color="#32cb94"/><path d="M129.9 107.9l5.8 -1.4l4.2 3.1l-5.8 1.4z" color="#2fca97"/><path d="M124.1 109.3l5.8 -1.4l4.2 3.1l-5.8 1.4z" color="#2dc99a"/><path d="M118.3 110.7l5.8 -1.4l4.2 3.1l-5.8 1.4z" color="#2bc99d"/><path d="M112.5 112.2l5.8 -1.4l4.2 3.1l-5.8 1.4z" color="#29c8a0"/><path d="M106.7 113.6l5.8 -1.4l4.2 3.1l-5.8 1.4z" color="#27c7a2"/><path d="M100.9 115l5.8 -1.4l4.2 3.1l-5.8 1.4z" color="#25c7a5"/><path d="M95.1 116.4l5.8 -1.4l4.2 3.2l-5.8 1.4z" color="#23c6a8"/><path d="M89.3 117.8l5.8 -1.4l4.2 3.2l-5.8 1.4z" color="#20c5ab"/><path d="M83.5 119.3l5.8 -1.4l4.2 3.2l-5.8 1.4z" color="#1ec4ad"/><path d="M354.8 60.7l5.8 -1.2l4.2 2.8l-5.8 1.2z" color="#97ca42"/><path d="M348.9 61.9l5.8 -1.2l4.2 2.8l-5.8 1.2z" color="#95cb43"/><path d="M343.1 63.1l5.8 -1.2l4.2 2.8l-5.8 1.2z" color="#93cb44"/><path d="M337.3 64.3l5.8 -1.2l4.2 2.8l-5.8 1.2z" color="#91cb46"/><path d="M331.5 65.5l5.8 -1.2l4.2 2.8l-5.8 1.2z" color="#8fcb47"/><path d="M325.7 66.7l5.8 -1.2l4.2 2.8l-5.8 1.2z" color="#8dcc49"/><path d="M319.9 67.9l5.8 -1.2l4.2 2.9l-5.8 1.2z" color="#8bcc4b"/><path d="M314.1 69.1l5.8 -1.2l4.2 2.9l-5.8 1.2z" color="#88cc4d"/><path d="M308.3 70.4l5.8 -1.2l4.2 2.9l-5.8 1.2z" color="#85cc4f"/><path d="M302.5 71.6l5.8 -1.3l4.2 2.9l-5.8 1.3z" color="#83cd51"/><path d="M296.7 72.9l5.8 -1.3l4.2 2.9l-5.8 1.3z" color="#80cd53"/><path d="M290.9 74.2l5.8 -1.3l4.2 2.9l-5.8 1.3z" color="#7dcd55"/><path d="M285.1 75.4l5.8 -1.3l4.2 2.9l-5.8 1.3z" color="#79cd58"/><path d="M279.3 76.7l5.8 -1.3l4.2 2.9l-5.8 1.3z" color="#76ce5a"/><path d="M273.5 78l5.8 -1.3l4.2 2.9l-5.8 1.3z" color="#72ce5d"/><path d="M267.7 79.3l5.8 -1.3l4.2 2.9l-5.8 1.3z" color="#6fce5f"/><path d="M261.9 80.6l5.8 -1.3l4.2 2.9l-5.8 1.3z" color="#6bce62"/><path d="M256 82l5.8 -1.3l4.2 2.9l-5.8 1.3z" color="#68ce65"/><path d="M250.2 83.3l5.8 -1.3l4.2 2.9l-5.8 1.3z" color="#64ce68"/><path d="M244.4 84.6l5.8 -1.3l4.2 2.9l-5.8 1.3z" color="#60ce6b"/><path d="M238.6 86l5.8 -1.3l4.2 2.9l-5.8 1.3z" color="#5dce6e"/><path d="M232.8 87.3l5.8 -1.3l4.2 2.9l-5.8 1.4z" color="#59ce71"/><path d="M227 88.7l5.8 -1.4l4.2 3l-5.8 1.4z" color="#55ce74"/><path d="M221.2 90l5.8 -1.4l4.2 3l-5.8 1.4z" color="#52ce77"/><path d="M215.4 91.4l5.8 -1.4l4.2 3l-5.8 1.4z" color="#4ece7a"/><path d="M209.6 92.8l5.8 -1.4l4.2 3l-5.8 1.4z" color="#4ace7d"/><path d="M203.8 94.2l5.8 -1.4l4.2 3l-5.8 1.4z" color="#46cd81"/><path d="M198 95.5l5.8 -1.4l4.2 3l-5.8 1.4z" color="#42cd84"/><path d="M192.2 96.9l5.8 -1.4l4.2 3l-5.8 1.4z" color="#3fcd87"/><path d="M186.4 98.3l5.8 -1.4l4.2 3l-5.8 1.4z" color="#3bcc8a"/><path d="M180.6 99.7l5.8 -1.4l4.2 3l-5.8 1.4z" color="#38cc8d"/><path d="M174.8 101.1l5.8 -1.4l4.2 3l-5.8 1.4z" color="#35cb90"/><path d="M168.9 102.5l5.8 -1.4l4.2 3l-5.8 1.4z" color="#33cb93"/><path d="M163.1 103.9l5.8 -1.4l4.2 3l-5.8 1.4z" color="#30ca96"/><path d="M157.3 105.3l5.8 -1.4l4.2 3l-5.8 1.4z" color="#2eca99"/><path d="M151.5 106.8l5.8 -1.4l4.2 3.1l-5.8 1.4z" color="#2cc99c"/><path d="M145.7 108.2l5.8 -1.4l4.2 3.1l-5.8 1.4z" color="#2ac89f"/><path d="M139.9 109.6l5.8 -1.4l4.2 3.1l-5.8 1.4z" color="#28c7a2"/><path d="M134.1 111l5.8 -1.4l4.2 3.1l-5.8 1.4z" color="#26c7a4"/><path d="M128.3 112.4l5.8 -1.4l4.2 3.1l-5.8 1.4z" color="#24c6a7"/><path d="M122.5 113.9l5.8 -1.4l4.2 3.1l-5.8 1.4z" color="#21c5aa"/><path d="M116.7 115.3l5.8 -1.4l4.2 3.1l-5.8 1.4z" color="#1fc5ac"/><path d="M110.9 116.7l5.8 -1.4l4.2 3.1l-5.8 1.4z" color="#1cc4af"/><path d="M105.1 118.2l5.8 -1.4l4.2 3.1l-5.8 1.4z" color="#18c3b2"/><path d="M99.3 119.6l5.8 -1.4l4.2 3.1l-5.8 1.4z" color="#14c3b4"/><path d="M93.5 121l5.8 -1.4l4.2 3.1l-5.8 1.4z" color="#10c2b7"/><path d="M87.7 122.4l5.8 -1.4l4.2 3.1l-5.8 1.4z" color="#0bc1ba"/><path d="M358.9 63.6l5.8 -1.2l4.2 2.8l-5.8 1.2z" color="#83cd50"/><path d="M353.1 64.7l5.8 -1.2l4.2 2.8l-5.8 1.2z" color="#81cd52"/><path d="M347.3 65.9l5.8 -1.2l4.2 2.8l-5.8 1.2z" color="#80cd53"/><path d="M341.5 67.1l5.8 -1.2l4.2 2.8l-5.8 1.2z" color="#7dcd55"/><path d="M335.7 68.3l5.8 -1.2l4.2 2.8l-5.8 1.2z" color="#7bcd56"/><path d="M329.9 69.5l5.8 -1.2l4.2 2.8l-5.8 1.2z" color="#79cd58"/><path d="M324.1 70.8l5.8 -1.2l4.2 2.8l-5.8 1.2z" color="#76ce5a"/><path d="M318.3 72l5.8 -1.2l4.2 2.8l-5.8 1.2z" color="#73ce5c"/><path d="M312.5 73.2l5.8 -1.2l4.2 2.8l-5.8 1.3z" color="#71ce5e"/><path d="M306.7 74.5l5.8 -1.3l4.2 2.9l-5.8 1.3z" color="#6ece60"/><path d="M300.9 75.8l5.8 -1.3l4.2 2.9l-5.8 1.3z" color="#6bce62"/><path d="M295.1 77.1l5.8 -1.3l4.2 2.9l-5.8 1.3z" color="#68ce65"/><path d="M289.3 78.3l5.8 -1.3l4.2 2.9l-5.8 1.3z" color="#65ce67"/><path d="M283.5 79.6l5.8 -1.3l4.2 2.9l-5.8 1.3z" color="#61ce6a"/><path d="M277.6 80.9l5.8 -1.3l4.2 2.9l-5.8 1.3z" color="#5ece6d"/><path d="M271.8 82.2l5.8 -1.3l4.2 2.9l-5.8 1.3z" color="#5bce6f"/><path d="M266 83.6l5.8 -1.3l4.2 2.9l-5.8 1.3z" color="#58ce72"/><path d="M260.2 84.9l5.8 -1.3l4.2 2.9l-5.8 1.3z" color="#54ce75"/><path d="M254.4 86.2l5.8 -1.3l4.2 2.9l-5.8 1.3z" color="#51ce78"/><path d="M248.6 87.6l5.8 -1.3l4.2 2.9l-5.8 1.3z" color="#4dce7b"/><path d="M242.8 88.9l5.8 -1.3l4.2 2.9l-5.8 1.4z" color="#4ace7e"/><path d="M237 90.3l5.8 -1.4l4.2 2.9l-5.8 1.4z" color="#46cd81"/><path d="M231.2 91.6l5.8 -1.4l4.2 2.9l-5.8 1.4z" color="#43cd83"/><path d="M225.4 93l5.8 -1.4l4.2 2.9l-5.8 1.4z" color="#3fcd86"/><path d="M219.6 94.4l5.8 -1.4l4.2 3l-5.8 1.4z" color="#3ccc89"/><path d="M213.8 95.8l5.8 -1.4l4.2 3l-5.8 1.4z" color="#38cc8c"/><path d="M208 97.1l5.8 -1.4l4.2 3l-5.8 1.4z" color="#36cb8f"/><path d="M202.2 98.5l5.8 -1.4l4.2 3l-5.8 1.4z" color="#33cb92"/><path d="M196.4 99.9l5.8 -1.4l4.2 3l-5.8 1.4z" color="#31ca95"/><path d="M190.5 101.3l5.8 -1.4l4.2 3l-5.8 1.4z" color="#2fca98"/><path d="M184.7 102.7l5.8 -1.4l4.2 3l-5.8 1.4z" color="#2dc99b"/><path d="M178.9 104.1l5.8 -1.4l4.2 3l-5.8 1.4z" color="#2bc89e"/><path d="M173.1 105.6l5.8 -1.4l4.2 3l-5.8 1.4z" color="#29c8a0"/><path d="M167.3 107l5.8 -1.4l4.2 3l-5.8 1.4z" color="#27c7a3"/><path d="M161.5 108.4l5.8 -1.4l4.2 3l-5.8 1.4z" color="#25c6a6"/><path d="M155.7 109.8l5.8 -1.4l4.2 3l-5.8 1.4z" color="#23c6a8"/><path d="M149.9 111.2l5.8 -1.4l4.2 3l-5.8 1.4z" color="#20c5ab"/><path d="M144.1 112.7l5.8 -1.4l4.2 3l-5.8 1.4z" color="#1dc4ae"/><path d="M138.3 114.1l5.8 -1.4l4.2 3l-5.8 1.4z" color="#1ac4b0"/><path d="M132.5 115.5l5.8 -1.4l4.2 3.1l-5.8 1.4z" color="#16c3b3"/><path d="M126.7 117l5.8 -1.4l4.2 3.1l-5.8 1.4z" color="#12c2b6"/><path d="M120.9 118.4l5.8 -1.4l4.2 3.1l-5.8 1.4z" color="#0dc2b8"/><path d="M115.1 119.8l5.8 -1.4l4.2 3.1l-5.8 1.4z" color="#08c1bb"/><path d="M109.3 121.3l5.8 -1.4l4.2 3.1l-5.8 1.4z" color="#04c0be"/><path d="M103.5 122.7l5.8 -1.4l4.2 3.1l-5.8 1.4z" color="#00c0c0"/><path d="M97.6 124.1l5.8 -1.4l4.2 3.1l-5.8 1.4z" color="#00bfc3"/><path d="M91.8 125.6l5.8 -1.4l4.2 3.1l-5.8 1.4z" color="#00bec5"/><path d="M363.1 66.4l5.8 -1.2l4.2 2.8l-5.8 1.2z" color="#6fce5f"/><path d="M357.3 67.6l5.8 -1.2l4.2 2.8l-5.8 1.2z" color="#6dce60"/><path d="M351.5 68.7l5.8 -1.2l4.2 2.8l-5.8 1.2z" color="#6bce62"/><path d="M345.7 69.9l5.8 -1.2l4.2 2.8l-5.8 1.2z" color="#69ce64"/><path d="M339.9 71.2l5.8 -1.2l4.2 2.8l-5.8 1.2z" color="#67ce65"/><path d="M334.1 72.4l5.8 -1.2l4.2 2.8l-5.8 1.2z" color="#65ce67"/><path d="M328.3 73.6l5.8 -1.2l4.2 2.8l-5.8 1.2z" color="#62ce69"/><path d="M322.5 74.8l5.8 -1.2l4.2 2.8l-5.8 1.2z" color="#60ce6b"/><path d="M316.7 76.1l5.8 -1.3l4.2 2.8l-5.8 1.3z" color="#5dce6d"/><path d="M310.9 77.4l5.8 -1.3l4.2 2.8l-5.8 1.3z" color="#5bce70"/><path d="M305 78.6l5.8 -1.3l4.2 2.8l-5.8 1.3z" color="#58ce72"/><path d="M299.2 79.9l5.8 -1.3l4.2 2.8l-5.8 1.3z" color="#55ce74"/><path d="M293.4 81.2l5.8 -1.3l4.2 2.9l-5.8 1.3z" color="#52ce77"/><path d="M287.6 82.5l5.8 -1.3l4.2 2.9l-5.8 1.3z" color="#4fce79"/><path d="M281.8 83.8l5.8 -1.3l4.2 2.9l-5.8 1.3z" color="#4cce7c"/><path d="M276 85.1l5.8 -1.3l4.2 2.9l-5.8 1.3z" color="#49cd7f"/><path d="M270.2 86.5l5.8 -1.3l4.2 2.9l-5.8 1.3z" color="#45cd81"/><path d="M264.4 87.8l5.8 -1.3l4.2 2.9l-5.8 1.3z" color="#42cd84"/><path d="M258.6 89.1l5.8 -1.3l4.2 2.9l-5.8 1.3z" color="#3fcd87"/><path d="M252.8 90.5l5.8 -1.3l4.2 2.9l-5.8 1.4z" color="#3ccc89"/><path d="M247 91.8l5.8 -1.4l4.2 2.9l-5.8 1.4z" color="#39cc8c"/><path d="M241.2 93.2l5.8 -1.4l4.2 2.9l-5.8 1.4z" color="#36cc8f"/><path d="M235.4 94.6l5.8 -1.4l4.2 2.9l-5.8 1.4z" color="#34cb92"/><path d="M229.6 96l5.8 -1.4l4.2 2.9l-5.8 1.4z" color="#32cb94"/><path d="M223.8 97.3l5.8 -1.4l4.2 2.9l-5.8 1.4z" color="#2fca97"/><path d="M218 98.7l5.8 -1.4l4.2 2.9l-5.8 1.4z" color="#2dc99a"/><path d="M212.1 100.1l5.8 -1.4l4.2 2.9l-5.8 1.4z" color="#2cc99c"/><path d="M206.3 101.5l5.8 -1.4l4.2 3l-5.8 1.4z" color="#2ac89f"/><path d="M200.5 102.9l5.8 -1.4l4.2 3l-5.8 1.4z" color="#28c7a2"/><path d="M194.7 104.3l5.8 -1.4l4.2 3l-5.8 1.4z" color="#26c7a4"/><path d="M188.9 105.7l5.8 -1.4l4.2 3l-5.8 1.4z" color="#24c6a7"/><path d="M183.1 107.2l5.8 -1.4l4.2 3l-5.8 1.4z" color="#21c5aa"/><path d="M177.3 108.6l5.8 -1.4l4.2 3l-5.8 1.4z" color="#1fc5ac"/><path d="M171.5 110l5.8 -1.4l4.2 3l-5.8 1.4z" color="#1cc4af"/><path d="M165.7 111.4l5.8 -1.4l4.2 3l-5.8 1.4z" color="#18c3b2"/><path d="M159.9 112.8l5.8 -1.4l4.2 3l-5.8 1.4z" color="#14c3b4"/><path d="M154.1 114.3l5.8 -1.4l4.2 3l-5.8 1.4z" color="#10c2b7"/><path d="M148.3 115.7l5.8 -1.4l4.2 3l-5.8 1.4z" color="#0bc1b9"/><path d="M142.5 117.1l5.8 -1.4l4.2 3l-5.8 1.4z" color="#07c1bc"/><path d="M136.7 118.6l5.8 -1.4l4.2 3l-5.8 1.4z" color="#02c0bf"/><path d="M130.9 120l5.8 -1.4l4.2 3l-5.8 1.4z" color="#00bfc1"/><path d="M125.1 121.5l5.8 -1.4l4.2 3l-5.8 1.4z" color="#00bec4"/><path d="M119.2 122.9l5.8 -1.4l4.2 3l-5.8 1.4z" color="#00bec7"/><path d="M113.4 124.3l5.8 -1.4l4.2 3l-5.8 1.4z" color="#00bdc9"/><path d="M107.6 125.8l5.8 -1.4l4.2 3l-5.8 1.4z" color="#00bccc"/><path d="M101.8 127.2l5.8 -1.4l4.2 3l-5.8 1.4z" color="#00bbce"/><path d="M96 128.7l5.8 -1.4l4.2 3.1l-5.8 1.4z" color="#00bad0"/><path d="M367.3 69.2l5.8 -1.2l4.2 2.8l-5.8 1.2z" color="#5dce6e"/><path d="M361.5 70.4l5.8 -1.2l4.2 2.8l-5.8 1.2z" color="#5bce6f"/><path d="M355.7 71.5l5.8 -1.2l4.2 2.8l-5.8 1.2z" color="#59ce71"/><path d="M349.9 72.7l5.8 -1.2l4.2 2.8l-5.8 1.2z" color="#57ce73"/><path d="M344.1 74l5.8 -1.2l4.2 2.8l-5.8 1.2z" color="#55ce74"/><path d="M338.3 75.2l5.8 -1.2l4.2 2.8l-5.8 1.2z" color="#53ce76"/><path d="M332.5 76.4l5.8 -1.2l4.2 2.8l-5.8 1.2z" color="#51ce78"/><path d="M326.6 77.7l5.8 -1.2l4.2 2.8l-5.8 1.3z" color="#4ece7a"/><path d="M320.8 78.9l5.8 -1.3l4.2 2.8l-5.8 1.3z" color="#4cce7c"/><path d="M315 80.2l5.8 -1.3l4.2 2.8l-5.8 1.3z" color="#49cd7e"/><path d="M309.2 81.5l5.8 -1.3l4.2 2.8l-5.8 1.3z" color="#46cd81"/><path d="M303.4 82.8l5.8 -1.3l4.2 2.8l-5.8 1.3z" color="#43cd83"/><path d="M297.6 84.1l5.8 -1.3l4.2 2.8l-5.8 1.3z" color="#41cd85"/><path d="M291.8 85.4l5.8 -1.3l4.2 2.8l-5.8 1.3z" color="#3ecd88"/><path d="M286 86.7l5.8 -1.3l4.2 2.8l-5.8 1.3z" color="#3bcc8a"/><path d="M280.2 88l5.8 -1.3l4.2 2.9l-5.8 1.3z" color="#38cc8c"/><path d="M274.4 89.4l5.8 -1.3l4.2 2.9l-5.8 1.3z" color="#36cc8f"/><path d="M268.6 90.7l5.8 -1.3l4.2 2.9l-5.8 1.3z" color="#34cb91"/><path d="M262.8 92l5.8 -1.3l4.2 2.9l-5.8 1.4z" color="#32cb94"/><path d="M257 93.4l5.8 -1.4l4.2 2.9l-5.8 1.4z" color="#30ca97"/><path d="M251.2 94.8l5.8 -1.4l4.2 2.9l-5.8 1.4z" color="#2eca99"/><path d="M245.4 96.1l5.8 -1.4l4.2 2.9l-5.8 1.4z" color="#2cc99c"/><path d="M239.6 97.5l5.8 -1.4l4.2 2.9l-5.8 1.4z" color="#2ac89e"/><path d="M233.7 98.9l5.8 -1.4l4.2 2.9l-5.8 1.4z" color="#29c8a1"/><path d="M227.9 100.3l5.8 -1.4l4.2 2.9l-5.8 1.4z" color="#27c7a3"/><path d="M222.1 101.7l5.8 -1.4l4.2 2.9l-5.8 1.4z" color="#25c6a6"/><path d="M216.3 103.1l5.8 -1.4l4.2 2.9l-5.8 1.4z" color="#23c6a8"/><path d="M210.5 104.5l5.8 -1.4l4.2 2.9l-5.8 1.4z" color="#20c5ab"/><path d="M204.7 105.9l5.8 -1.4l4.2 2.9l-5.8 1.4z" color="#1ec4ad"/><path d="M198.9 107.3l5.8 -1.4l4.2 2.9l-5.8 1.4z" color="#1bc4b0"/><path d="M193.1 108.7l5.8 -1.4l4.2 2.9l-5.8 1.4z" color="#17c3b2"/><path d="M187.3 110.1l5.8 -1.4l4.2 3l-5.8 1.4z" color="#13c3b5"/><path d="M181.5 111.6l5.8 -1.4l4.2 3l-5.8 1.4z" color="#0fc2b8"/><path d="M175.7 113l5.8 -1.4l4.2 3l-5.8 1.4z" color="#0ac1ba"/><path d="M169.9 114.4l5.8 -1.4l4.2 3l-5.8 1.4z" color="#05c1bd"/><path d="M164.1 115.9l5.8 -1.4l4.2 3l-5.8 1.4z" color="#00c0bf"/><path d="M158.3 117.3l5.8 -1.4l4.2 3l-5.8 1.4z" color="#00bfc2"/><path d="M152.5 118.7l5.8 -1.4l4.2 3l-5.8 1.4z" color="#00bec5"/><path d="M146.7 120.2l5.8 -1.4l4.2 3l-5.8 1.4z" color="#00bdc7"/><path d="M140.8 121.6l5.8 -1.4l4.2 3l-5.8 1.4z" color="#00bcca"/><path d="M135 123.1l5.8 -1.4l4.2 3l-5.8 1.4z" color="#00bccc"/><path d="M129.2 124.5l5.8 -1.4l4.2 3l-5.8 1.4z" color="#00bbcf"/><path d="M123.4 125.9l5.8 -1.4l4.2 3l-5.8 1.4z" color="#00b9d1"/><path d="M117.6 127.4l5.8 -1.4l4.2 3l-5.8 1.4z" color="#00b8d3"/><path d="M111.8 128.8l5.8 -1.4l4.2 3l-5.8 1.4z" color="#00b7d6"/><path d="M106 130.3l5.8 -1.4l4.2 3l-5.8 1.4z" color="#00b6d8"/><path d="M100.2 131.7l5.8 -1.4l4.2 3l-5.8 1.4z" color="#04b5da"/><path d="M371.5 71.9l5.8 -1.2l4.2 2.8l-5.8 1.2z" color="#4cce7c"/><path d="M365.7 73.1l5.8 -1.2l4.2 2.8l-5.8 1.2z" color="#4ace7e"/><path d="M359.9 74.3l5.8 -1.2l4.2 2.8l-5.8 1.2z" color="#48cd7f"/><path d="M354.1 75.5l5.8 -1.2l4.2 2.8l-5.8 1.2z" color="#46cd81"/><path d="M348.2 76.8l5.8 -1.2l4.2 2.8l-5.8 1.2z" color="#44cd82"/><path d="M342.4 78l5.8 -1.2l4.2 2.8l-5.8 1.2z" color="#42cd84"/><path d="M336.6 79.2l5.8 -1.2l4.2 2.8l-5.8 1.2z" color="#40cd86"/><path d="M330.8 80.5l5.8 -1.3l4.2 2.8l-5.8 1.3z" color="#3ecd88"/><path d="M325 81.8l5.8 -1.3l4.2 2.8l-5.8 1.3z" color="#3bcc8a"/><path d="M319.2 83l5.8 -1.3l4.2 2.8l-5.8 1.3z" color="#39cc8c"/><path d="M313.4 84.3l5.8 -1.3l4.2 2.8l-5.8 1.3z" color="#37cc8e"/><path d="M307.6 85.6l5.8 -1.3l4.2 2.8l-5.8 1.3z" color="#35cb90"/><path d="M301.8 86.9l5.8 -1.3l4.2 2.8l-5.8 1.3z" color="#33cb92"/><path d="M296 88.2l5.8 -1.3l4.2 2.8l-5.8 1.3z" color="#31ca95"/><path d="M290.2 89.6l5.8 -1.3l4.2 2.8l-5.8 1.3z" color="#2fca97"/><path d="M284.4 90.9l5.8 -1.3l4.2 2.8l-5.8 1.3z" color="#2eca99"/><path d="M278.6 92.2l5.8 -1.3l4.2 2.8l-5.8 1.3z" color="#2cc99b"/><path d="M272.8 93.6l5.8 -1.3l4.2 2.8l-5.8 1.4z" color="#2bc89e"/><path d="M267 94.9l5.8 -1.4l4.2 2.9l-5.8 1.4z" color="#29c8a0"/><path d="M261.2 96.3l5.8 -1.4l4.2 2.9l-5.8 1.4z" color="#27c7a2"/><path d="M255.3 97.7l5.8 -1.4l4.2 2.9l-5.8 1.4z" color="#26c7a5"/><path d="M249.5 99l5.8 -1.4l4.2 2.9l-5.8 1.4z" color="#24c6a7"/><path d="M243.7 100.4l5.8 -1.4l4.2 2.9l-5.8 1.4z" color="#22c5aa"/><path d="M237.9 101.8l5.8 -1.4l4.2 2.9l-5.8 1.4z" color="#1fc5ac"/><path d="M232.1 103.2l5.8 -1.4l4.2 2.9l-5.8 1.4z" color="#1cc4ae"/><path d="M226.3 104.6l5.8 -1.4l4.2 2.9l-5.8 1.4z" color="#19c4b1"/><path d="M220.5 106l5.8 -1.4l4.2 2.9l-5.8 1.4z" color="#15c3b3"/><path d="M214.7 107.4l5.8 -1.4l4.2 2.9l-5.8 1.4z" color="#12c2b6"/><path d="M208.9 108.8l5.8 -1.4l4.2 2.9l-5.8 1.4z" color="#0dc2b8"/><path d="M203.1 110.2l5.8 -1.4l4.2 2.9l-5.8 1.4z" color="#09c1bb"/><path d="M197.3 111.7l5.8 -1.4l4.2 2.9l-5.8 1.4z" color="#04c0bd"/><path d="M191.5 113.1l5.8 -1.4l4.2 2.9l-5.8 1.4z" color="#00c0c0"/><path d="M185.7 114.5l5.8 -1.4l4.2 2.9l-5.8 1.4z" color="#00bfc3"/><path d="M179.9 116l5.8 -1.4l4.2 2.9l-5.8 1.4z" color="#00bec5"/><path d="M174.1 117.4l5.8 -1.4l4.2 2.9l-5.8 1.4z" color="#00bdc8"/><path d="M168.3 118.8l5.8 -1.4l4.2 2.9l-5.8 1.4z" color="#00bcca"/><path d="M162.4 120.3l5.8 -1.4l4.2 2.9l-5.8 1.4z" color="#00bbcd"/><path d="M156.6 121.7l5.8 -1.4l4.2 3l-5.8 1.4z" color="#00bacf"/><path d="M150.8 123.2l5.8 -1.4l4.2 3l-5.8 1.4z" color="#00b9d1"/><path d="M145 124.6l5.8 -1.4l4.2 3l-5.8 1.4z" color="#00b8d4"/><path d="M139.2 126.1l5.8 -1.4l4.2 3l-5.8 1.5z" color="#00b7d6"/><path d="M133.4 127.5l5.8 -1.4l4.2 3l-5.8 1.5z" color="#01b6d8"/><path d="M127.6 129l5.8 -1.4l4.2 3l-5.8 1.5z" color="#05b5db"/><path d="M121.8 130.4l5.8 -1.4l4.2 3l-5.8 1.5z" color="#08b3dd"/><path d="M116 131.8l5.8 -1.4l4.2 3l-5.8 1.5z" color="#0ab2df"/><path d="M110.2 133.3l5.8 -1.4l4.2 3l-5.8 1.4z" color="#0db0e1"/><path d="M104.4 134.7l5.8 -1.4l4.2 3l-5.8 1.4z" color="#0eafe3"/><path d="M375.7 74.7l5.8 -1.2l4.2 2.7l-5.8 1.2z" color="#3ccc89"/><path d="M369.8 75.9l5.8 -1.2l4.2 2.7l-5.8 1.2z" color="#3bcc8b"/><path d="M364 77.1l5.8 -1.2l4.2 2.7l-5.8 1.2z" color="#39cc8c"/><path d="M358.2 78.3l5.8 -1.2l4.2 2.8l-5.8 1.2z" color="#37cc8d"/><path d="M352.4 79.5l5.8 -1.2l4.2 2.8l-5.8 1.2z" color="#36cc8f"/><path d="M346.6 80.8l5.8 -1.2l4.2 2.8l-5.8 1.2z" color="#35cb91"/><path d="M340.8 82l5.8 -1.2l4.2 2.8l-5.8 1.3z" color="#33cb92"/><path d="M335 83.3l5.8 -1.3l4.2 2.8l-5.8 1.3z" color="#32cb94"/><path d="M329.2 84.6l5.8 -1.3l4.2 2.8l-5.8 1.3z" color="#30ca96"/><path d="M323.4 85.8l5.8 -1.3l4.2 2.8l-5.8 1.3z" color="#2fca98"/><path d="M317.6 87.1l5.8 -1.3l4.2 2.8l-5.8 1.3z" color="#2dc99a"/><path d="M311.8 88.4l5.8 -1.3l4.2 2.8l-5.8 1.3z" color="#2cc99c"/><path d="M306 89.7l5.8 -1.3l4.2 2.8l-5.8 1.3z" color="#2ac89e"/><path d="M300.2 91.1l5.8 -1.3l4.2 2.8l-5.8 1.3z" color="#29c8a0"/><path d="M294.4 92.4l5.8 -1.3l4.2 2.8l-5.8 1.3z" color="#27c7a2"/><path d="M288.6 93.7l5.8 -1.3l4.2 2.8l-5.8 1.3z" color="#26c7a4"/><path d="M282.8 95.1l5.8 -1.3l4.2 2.8l-5.8 1.4z" color="#24c6a7"/><path d="M276.9 96.4l5.8 -1.4l4.2 2.8l-5.8 1.4z" color="#22c6a9"/><path d="M271.1 97.8l5.8 -1.4l4.2 2.8l-5.8 1.4z" color="#20c5ab"/><path d="M265.3 99.2l5.8 -1.4l4.2 2.8l-5.8 1.4z" color="#1ec4ad"/><path d="M259.5 100.5l5.8 -1.4l4.2 2.8l-5.8 1.4z" color="#1bc4b0"/><path d="M253.7 101.9l5.8 -1.4l4.2 2.9l-5.8 1.4z" color="#18c3b2"/><path d="M247.9 103.3l5.8 -1.4l4.2 2.9l-5.8 1.4z" color="#14c3b4"/><path d="M242.1 104.7l5.8 -1.4l4.2 2.9l-5.8 1.4z" color="#10c2b7"/><path d="M236.3 106.1l5.8 -1.4l4.2 2.9l-5.8 1.4z" color="#0cc2b9"/><path d="M230.5 107.5l5.8 -1.4l4.2 2.9l-5.8 1.4z" color="#08c1bc"/><path d="M224.7 108.9l5.8 -1.4l4.2 2.9l-5.8 1.4z" color="#03c0be"/><path d="M218.9 110.3l5.8 -1.4l4.2 2.9l-5.8 1.4z" color="#00c0c0"/><path d="M213.1 111.7l5.8 -1.4l4.2 2.9l-5.8 1.4z" color="#00bfc3"/><path d="M207.3 113.2l5.8 -1.4l4.2 2.9l-5.8 1.4z" color="#00bec5"/><path d="M201.5 114.6l5.8 -1.4l4.2 2.9l-5.8 1.4z" color="#00bdc8"/><path d="M195.7 116l5.8 -1.4l4.2 2.9l-5.8 1.4z" color="#00bcca"/><path d="M189.8 117.5l5.8 -1.4l4.2 2.9l-5.8 1.4z" color="#00bbcd"/><path d="M184 118.9l5.8 -1.4l4.2 2.9l-5.8 1.4z" color="#00bacf"/><path d="M178.2 120.3l5.8 -1.4l4.2 2.9l-5.8 1.4z" color="#00b9d2"/><path d="M172.4 121.8l5.8 -1.4l4.2 2.9l-5.8 1.4z" color="#00b8d4"/><path d="M166.6 123.2l5.8 -1.4l4.2 2.9l-5.8 1.4z" color="#00b7d6"/><path d="M160.8 124.7l5.8 -1.4l4.2 2.9l-5.8 1.4z" color="#01b6d8"/><path d="M155 126.1l5.8 -1.4l4.2 2.9l-5.8 1.5z" color="#05b5db"/><path d="M149.2 127.6l5.8 -1.4l4.2 2.9l-5.8 1.5z" color="#08b3dd"/><path d="M143.4 129l5.8 -1.5l4.2 2.9l-5.8 1.5z" color="#0ab2df"/><path d="M137.6 130.5l5.8 -1.5l4.2 2.9l-5.8 1.5z" color="#0db0e1"/><path d="M131.8 131.9l5.8 -1.5l4.2 2.9l-5.8 1.5z" color="#0fafe3"/><path d="M126 133.4l5.8 -1.5l4.2 2.9l-5.8 1.5z" color="#10aee4"/><path d="M120.2 134.8l5.8 -1.5l4.2 2.9l-5.8 1.5z" color="#12ace6"/><path d="M114.4 136.3l5.8 -1.4l4.2 2.9l-5.8 1.4z" color="#13aae8"/><path d="M108.6 137.7l5.8 -1.4l4.2 2.9l-5.8 1.4z" color="#14a9e9"/><path d="M379.8 77.4l5.8 -1.2l4.2 2.7l-5.8 1.2z" color="#31ca95"/><path d="M374 78.6l5.8 -1.2l4.2 2.7l-5.8 1.2z" color="#30ca96"/><path d="M368.2 79.9l5.8 -1.2l4.2 2.7l-5.8 1.2z" color="#2fca98"/><path d="M362.4 81.1l5.8 -1.2l4.2 2.7l-5.8 1.2z" color="#2ec999"/><path d="M356.6 82.3l5.8 -1.2l4.2 2.7l-5.8 1.2z" color="#2dc99b"/><path d="M350.8 83.5l5.8 -1.2l4.2 2.7l-5.8 1.2z" color="#2cc99c"/><path d="M345 84.8l5.8 -1.3l4.2 2.7l-5.8 1.3z" color="#2bc89e"/><path d="M339.2 86.1l5.8 -1.3l4.2 2.8l-5.8 1.3z" color="#29c8a0"/><path d="M333.4 87.3l5.8 -1.3l4.2 2.8l-5.8 1.3z" color="#28c8a1"/><path d="M327.6 88.6l5.8 -1.3l4.2 2.8l-5.8 1.3z" color="#27c7a3"/><path d="M321.8 89.9l5.8 -1.3l4.2 2.8l-5.8 1.3z" color="#25c7a5"/><path d="M316 91.2l5.8 -1.3l4.2 2.8l-5.8 1.3z" color="#24c6a7"/><path d="M310.2 92.6l5.8 -1.3l4.2 2.8l-5.8 1.3z" color="#22c6a9"/><path d="M304.4 93.9l5.8 -1.3l4.2 2.8l-5.8 1.3z" color="#20c5ab"/><path d="M298.5 95.2l5.8 -1.3l4.2 2.8l-5.8 1.3z" color="#1ec5ad"/><path d="M292.7 96.6l5.8 -1.3l4.2 2.8l-5.8 1.3z" color="#1cc4af"/><path d="M286.9 97.9l5.8 -1.4l4.2 2.8l-5.8 1.4z" color="#19c4b1"/><path d="M281.1 99.3l5.8 -1.4l4.2 2.8l-5.8 1.4z" color="#15c3b3"/><path d="M275.3 100.6l5.8 -1.4l4.2 2.8l-5.8 1.4z" color="#12c2b5"/><path d="M269.5 102l5.8 -1.4l4.2 2.8l-5.8 1.4z" color="#0fc2b8"/><path d="M263.7 103.4l5.8 -1.4l4.2 2.8l-5.8 1.4z" color="#0ac1ba"/><path d="M257.9 104.8l5.8 -1.4l4.2 2.8l-5.8 1.4z" color="#06c1bc"/><path d="M252.1 106.2l5.8 -1.4l4.2 2.8l-5.8 1.4z" color="#02c0bf"/><path d="M246.3 107.6l5.8 -1.4l4.2 2.8l-5.8 1.4z" color="#00bfc1"/><path d="M240.5 109l5.8 -1.4l4.2 2.8l-5.8 1.4z" color="#00bfc3"/><path d="M234.7 110.4l5.8 -1.4l4.2 2.9l-5.8 1.4z" color="#00bec6"/><path d="M228.9 111.8l5.8 -1.4l4.2 2.9l-5.8 1.4z" color="#00bdc8"/><path d="M223.1 113.2l5.8 -1.4l4.2 2.9l-5.8 1.4z" color="#00bccb"/><path d="M217.3 114.6l5.8 -1.4l4.2 2.9l-5.8 1.4z" color="#00bbcd"/><path d="M211.4 116.1l5.8 -1.4l4.2 2.9l-5.8 1.4z" color="#00bacf"/><path d="M205.6 117.5l5.8 -1.4l4.2 2.9l-5.8 1.4z" color="#00b9d2"/><path d="M199.8 118.9l5.8 -1.4l4.2 2.9l-5.8 1.4z" color="#00b8d4"/><path d="M194 120.4l5.8 -1.4l4.2 2.9l-5.8 1.4z" color="#00b7d6"/><path d="M188.2 121.8l5.8 -1.4l4.2 2.9l-5.8 1.4z" color="#01b6d8"/><path d="M182.4 123.3l5.8 -1.4l4.2 2.9l-5.8 1.4z" color="#05b5db"/><path d="M176.6 124.7l5.8 -1.4l4.2 2.9l-5.8 1.4z" color="#08b3dd"/><path d="M170.8 126.1l5.8 -1.4l4.2 2.9l-5.8 1.4z" color="#0ab2df"/><path d="M165 127.6l5.8 -1.4l4.2 2.9l-5.8 1.5z" color="#0cb1e1"/><path d="M159.2 129l5.8 -1.5l4.2 2.9l-5.8 1.5z" color="#0eafe3"/><path d="M153.4 130.5l5.8 -1.5l4.2 2.9l-5.8 1.5z" color="#10aee4"/><path d="M147.6 131.9l5.8 -1.5l4.2 2.9l-5.8 1.5z" color="#11ace6"/><path d="M141.8 133.4l5.8 -1.5l4.2 2.9l-5.8 1.5z" color="#13abe8"/><path d="M136 134.9l5.8 -1.5l4.2 2.9l-5.8 1.5z" color="#14a9e9"/><path d="M130.2 136.3l5.8 -1.5l4.2 2.9l-5.8 1.5z" color="#15a7ea"/><path d="M124.4 137.8l5.8 -1.5l4.2 2.9l-5.8 1.5z" color="#17a6eb"/><path d="M118.5 139.2l5.8 -1.4l4.2 2.9l-5.8 1.4z" color="#18a4ec"/><path d="M112.7 140.7l5.8 -1.4l4.2 2.9l-5.8 1.4z" color="#19a2ed"/><path d="M384 80.2l5.8 -1.2l4.2 2.7l-5.8 1.2z" color="#29c8a0"/><path d="M378.2 81.4l5.8 -1.2l4.2 2.7l-5.8 1.2z" color="#28c8a1"/><path d="M372.4 82.6l5.8 -1.2l4.2 2.7l-5.8 1.2z" color="#27c7a2"/><path d="M366.6 83.8l5.8 -1.2l4.2 2.7l-5.8 1.2z" color="#26c7a4"/><path d="M360.8 85l5.8 -1.2l4.2 2.7l-5.8 1.2z" color="#25c7a5"/><path d="M355 86.3l5.8 -1.2l4.2 2.7l-5.8 1.3z" color="#24c6a7"/><path d="M349.2 87.6l5.8 -1.3l4.2 2.7l-5.8 1.3z" color="#23c6a8"/><path d="M343.4 88.8l5.8 -1.3l4.2 2.7l-5.8 1.3z" color="#21c5aa"/><path d="M337.6 90.1l5.8 -1.3l4.2 2.7l-5.8 1.3z" color="#1fc5ac"/><path d="M331.8 91.4l5.8 -1.3l4.2 2.7l-5.8 1.3z" color="#1dc4ad"/><path d="M325.9 92.7l5.8 -1.3l4.2 2.8l-5.8 1.3z" color="#1cc4af"/><path d="M320.1 94l5.8 -1.3l4.2 2.8l-5.8 1.3z" color="#19c4b1"/><path d="M314.3 95.3l5.8 -1.3l4.2 2.8l-5.8 1.3z" color="#16c3b3"/><path d="M308.5 96.7l5.8 -1.3l4.2 2.8l-5.8 1.3z" color="#13c3b5"/><path d="M302.7 98l5.8 -1.3l4.2 2.8l-5.8 1.3z" color="#10c2b7"/><path d="M296.9 99.4l5.8 -1.3l4.2 2.8l-5.8 1.4z" color="#0cc2b9"/><path d="M291.1 100.7l5.8 -1.4l4.2 2.8l-5.8 1.4z" color="#08c1bb"/><path d="M285.3 102.1l5.8 -1.4l4.2 2.8l-5.8 1.4z" color="#04c0bd"/><path d="M279.5 103.5l5.8 -1.4l4.2 2.8l-5.8 1.4z" color="#00c0c0"/><path d="M273.7 104.8l5.8 -1.4l4.2 2.8l-5.8 1.4z" color="#00bfc2"/><path d="M267.9 106.2l5.8 -1.4l4.2 2.8l-5.8 1.4z" color="#00bec4"/><path d="M262.1 107.6l5.8 -1.4l4.2 2.8l-5.8 1.4z" color="#00bec6"/><path d="M256.3 109l5.8 -1.4l4.2 2.8l-5.8 1.4z" color="#00bdc9"/><path d="M250.5 110.4l5.8 -1.4l4.2 2.8l-5.8 1.4z" color="#00bccb"/><path d="M244.7 111.8l5.8 -1.4l4.2 2.8l-5.8 1.4z" color="#00bbcd"/><path d="M238.9 113.2l5.8 -1.4l4.2 2.8l-5.8 1.4z" color="#00bacf"/><path d="M233 114.6l5.8 -1.4l4.2 2.8l-5.8 1.4z" color="#00b9d2"/><path d="M227.2 116.1l5.8 -1.4l4.2 2.8l-5.8 1.4z" color="#00b8d4"/><path d="M221.4 117.5l5.8 -1.4l4.2 2.8l-5.8 1.4z" color="#00b7d6"/><path d="M215.6 118.9l5.8 -1.4l4.2 2.8l-5.8 1.4z" color="#01b6d8"/><path d="M209.8 120.4l5.8 -1.4l4.2 2.8l-5.8 1.4z" color="#04b5da"/><path d="M204 121.8l5.8 -1.4l4.2 2.8l-5.8 1.4z" color="#07b3dd"/><path d="M198.2 123.2l5.8 -1.4l4.2 2.8l-5.8 1.4z" color="#0ab2df"/><path d="M192.4 124.7l5.8 -1.4l4.2 2.9l-5.8 1.4z" color="#0cb1e1"/><path d="M186.6 126.1l5.8 -1.4l4.2 2.9l-5.8 1.4z" color="#0eafe2"/><path d="M180.8 127.6l5.8 -1.4l4.2 2.9l-5.8 1.4z" color="#10aee4"/><path d="M175 129l5.8 -1.4l4.2 2.9l-5.8 1.5z" color="#11ace6"/><path d="M169.2 130.5l5.8 -1.5l4.2 2.9l-5.8 1.5z" color="#13abe7"/><path d="M163.4 131.9l5.8 -1.5l4.2 2.9l-5.8 1.5z" color="#14a9e9"/><path d="M157.6 133.4l5.8 -1.5l4.2 2.9l-5.8 1.5z" color="#15a8ea"/><path d="M151.8 134.8l5.8 -1.5l4.2 2.9l-5.8 1.5z" color="#16a6eb"/><path d="M146 136.3l5.8 -1.5l4.2 2.9l-5.8 1.5z" color="#18a4ec"/><path d="M140.1 137.7l5.8 -1.5l4.2 2.9l-5.8 1.5z" color="#19a3ed"/><path d="M134.3 139.2l5.8 -1.5l4.2 2.9l-5.8 1.4z" color="#1aa1ee"/><path d="M128.5 140.6l5.8 -1.5l4.2 2.9l-5.8 1.4z" color="#1b9fef"/><path d="M122.7 142.1l5.8 -1.4l4.2 2.9l-5.8 1.4z" color="#1b9ef1"/><path d="M116.9 143.5l5.8 -1.4l4.2 2.8l-5.8 1.4z" color="#1c9cf2"/><path d="M388.2 82.9l5.8 -1.2l4.2 2.7l-5.8 1.2z" color="#21c5aa"/><path d="M382.4 84.1l5.8 -1.2l4.2 2.7l-5.8 1.2z" color="#20c5ab"/><path d="M376.6 85.3l5.8 -1.2l4.2 2.7l-5.8 1.2z" color="#1fc5ac"/><path d="M370.8 86.5l5.8 -1.2l4.2 2.7l-5.8 1.2z" color="#1dc4ae"/><path d="M365 87.8l5.8 -1.2l4.2 2.7l-5.8 1.2z" color="#1cc4af"/><path d="M359.2 89l5.8 -1.3l4.2 2.7l-5.8 1.3z" color="#1ac4b1"/><path d="M353.4 90.3l5.8 -1.3l4.2 2.7l-5.8 1.3z" color="#17c3b2"/><path d="M347.5 91.6l5.8 -1.3l4.2 2.7l-5.8 1.3z" color="#15c3b4"/><path d="M341.7 92.9l5.8 -1.3l4.2 2.7l-5.8 1.3z" color="#12c2b5"/><path d="M335.9 94.2l5.8 -1.3l4.2 2.7l-5.8 1.3z" color="#0fc2b7"/><path d="M330.1 95.5l5.8 -1.3l4.2 2.7l-5.8 1.3z" color="#0cc2b9"/><path d="M324.3 96.8l5.8 -1.3l4.2 2.7l-5.8 1.3z" color="#09c1bb"/><path d="M318.5 98.1l5.8 -1.3l4.2 2.7l-5.8 1.3z" color="#05c1bd"/><path d="M312.7 99.4l5.8 -1.3l4.2 2.8l-5.8 1.3z" color="#01c0bf"/><path d="M306.9 100.8l5.8 -1.3l4.2 2.8l-5.8 1.4z" color="#00bfc1"/><path d="M301.1 102.1l5.8 -1.4l4.2 2.8l-5.8 1.4z" color="#00bfc3"/><path d="M295.3 103.5l5.8 -1.4l4.2 2.8l-5.8 1.4z" color="#00bec5"/><path d="M289.5 104.9l5.8 -1.4l4.2 2.8l-5.8 1.4z" color="#00bdc7"/><path d="M283.7 106.3l5.8 -1.4l4.2 2.8l-5.8 1.4z" color="#00bdc9"/><path d="M277.9 107.6l5.8 -1.4l4.2 2.8l-5.8 1.4z" color="#00bccb"/><path d="M272.1 109l5.8 -1.4l4.2 2.8l-5.8 1.4z" color="#00bbce"/><path d="M266.3 110.4l5.8 -1.4l4.2 2.8l-5.8 1.4z" color="#00bad0"/><path d="M260.5 111.8l5.8 -1.4l4.2 2.8l-5.8 1.4z" color="#00b9d2"/><path d="M254.6 113.2l5.8 -1.4l4.2 2.8l-5.8 1.4z" color="#00b8d4"/><path d="M248.8 114.6l5.8 -1.4l4.2 2.8l-5.8 1.4z" color="#00b7d6"/><path d="M243 116.1l5.8 -1.4l4.2 2.8l-5.8 1.4z" color="#01b6d8"/><path d="M237.2 117.5l5.8 -1.4l4.2 2.8l-5.8 1.4z" color="#04b5da"/><path d="M231.4 118.9l5.8 -1.4l4.2 2.8l-5.8 1.4z" color="#07b4dc"/><path d="M225.6 120.3l5.8 -1.4l4.2 2.8l-5.8 1.4z" color="#0ab2de"/><path d="M219.8 121.8l5.8 -1.4l4.2 2.8l-5.8 1.4z" color="#0cb1e0"/><path d="M214 123.2l5.8 -1.4l4.2 2.8l-5.8 1.4z" color="#0eafe2"/><path d="M208.2 124.7l5.8 -1.4l4.2 2.8l-5.8 1.4z" color="#0faee4"/><path d="M202.4 126.1l5.8 -1.4l4.2 2.8l-5.8 1.4z" color="#11ade6"/><path d="M196.6 127.5l5.8 -1.4l4.2 2.8l-5.8 1.4z" color="#12abe7"/><path d="M190.8 129l5.8 -1.4l4.2 2.8l-5.8 1.4z" color="#14aae8"/><path d="M185 130.4l5.8 -1.4l4.2 2.8l-5.8 1.4z" color="#15a8ea"/><path d="M179.2 131.9l5.8 -1.5l4.2 2.8l-5.8 1.5z" color="#16a6eb"/><path d="M173.4 133.3l5.8 -1.5l4.2 2.8l-5.8 1.5z" color="#17a5ec"/><path d="M167.6 134.8l5.8 -1.5l4.2 2.8l-5.8 1.5z" color="#19a3ed"/><path d="M161.7 136.2l5.8 -1.5l4.2 2.8l-5.8 1.5z" color="#1aa1ee"/><path d="M155.9 137.7l5.8 -1.5l4.2 2.8l-5.8 1.5z" color="#1aa0ef"/><path d="M150.1 139.1l5.8 -1.5l4.2 2.8l-5.8 1.4z" color="#1b9ef0"/><path d="M144.3 140.6l5.8 -1.5l4.2 2.8l-5.8 1.4z" color="#1c9cf2"/><path d="M138.5 142l5.8 -1.4l4.2 2.8l-5.8 1.4z" color="#1d9bf3"/><path d="M132.7 143.5l5.8 -1.4l4.2 2.8l-5.8 1.4z" color="#1e99f5"/><path d="M126.9 144.9l5.8 -1.4l4.2 2.8l-5.8 1.4z" color="#1f97f6"/><path d="M121.1 146.4l5.8 -1.4l4.2 2.8l-5.8 1.4z" color="#2095f8"/><path d="M392.4 85.5l5.8 -1.2l4.2 2.7l-5.8 1.2z" color="#16c3b3"/><path d="M386.6 86.8l5.8 -1.2l4.2 2.7l-5.8 1.2z" color="#14c3b4"/><path d="M380.8 88l5.8 -1.2l4.2 2.7l-5.8 1.2z" color="#12c2b6"/><path d="M375 89.2l5.8 -1.2l4.2 2.7l-5.8 1.2z" color="#10c2b7"/><path d="M369.1 90.5l5.8 -1.2l4.2 2.7l-5.8 1.3z" color="#0dc2b8"/><path d="M363.3 91.7l5.8 -1.3l4.2 2.7l-5.8 1.3z" color="#0ac1ba"/><path d="M357.5 93l5.8 -1.3l4.2 2.7l-5.8 1.3z" color="#07c1bc"/><path d="M351.7 94.3l5.8 -1.3l4.2 2.7l-5.8 1.3z" color="#04c0bd"/><path d="M345.9 95.6l5.8 -1.3l4.2 2.7l-5.8 1.3z" color="#01c0bf"/><path d="M340.1 96.9l5.8 -1.3l4.2 2.7l-5.8 1.3z" color="#00bfc1"/><path d="M334.3 98.2l5.8 -1.3l4.2 2.7l-5.8 1.3z" color="#00bfc2"/><path d="M328.5 99.5l5.8 -1.3l4.2 2.7l-5.8 1.3z" color="#00bec4"/><path d="M322.7 100.9l5.8 -1.3l4.2 2.7l-5.8 1.3z" color="#00bec6"/><path d="M316.9 102.2l5.8 -1.3l4.2 2.7l-5.8 1.3z" color="#00bdc8"/><path d="M311.1 103.6l5.8 -1.4l4.2 2.7l-5.8 1.4z" color="#00bcca"/><path d="M305.3 104.9l5.8 -1.4l4.2 2.7l-5.8 1.4z" color="#00bccc"/><path d="M299.5 106.3l5.8 -1.4l4.2 2.7l-5.8 1.4z" color="#00bbce"/><path d="M293.7 107.7l5.8 -1.4l4.2 2.8l-5.8 1.4z" color="#00bad0"/><path d="M287.9 109l5.8 -1.4l4.2 2.8l-5.8 1.4z" color="#00b9d2"/><path d="M282.1 110.4l5.8 -1.4l4.2 2.8l-5.8 1.4z" color="#00b8d4"/><path d="M276.2 111.8l5.8 -1.4l4.2 2.8l-5.8 1.4z" color="#00b7d6"/><path d="M270.4 113.2l5.8 -1.4l4.2 2.8l-5.8 1.4z" color="#01b6d8"/><path d="M264.6 114.6l5.8 -1.4l4.2 2.8l-5.8 1.4z" color="#04b5da"/><path d="M258.8 116l5.8 -1.4l4.2 2.8l-5.8 1.4z" color="#07b4dc"/><path d="M253 117.4l5.8 -1.4l4.2 2.8l-5.8 1.4z" color="#09b2de"/><path d="M247.2 118.9l5.8 -1.4l4.2 2.8l-5.8 1.4z" color="#0cb1e0"/><path d="M241.4 120.3l5.8 -1.4l4.2 2.8l-5.8 1.4z" color="#0eb0e2"/><path d="M235.6 121.7l5.8 -1.4l4.2 2.8l-5.8 1.4z" color="#0faee4"/><path d="M229.8 123.2l5.8 -1.4l4.2 2.8l-5.8 1.4z" color="#11ade5"/><path d="M224 124.6l5.8 -1.4l4.2 2.8l-5.8 1.4z" color="#12abe7"/><path d="M218.2 126l5.8 -1.4l4.2 2.8l-5.8 1.4z" color="#13aae8"/><path d="M212.4 127.5l5.8 -1.4l4.2 2.8l-5.8 1.4z" color="#15a8e9"/><path d="M206.6 128.9l5.8 -1.4l4.2 2.8l-5.8 1.4z" color="#16a7eb"/><path d="M200.8 130.4l5.8 -1.4l4.2 2.8l-5.8 1.4z" color="#17a5ec"/><path d="M195 131.8l5.8 -1.4l4.2 2.8l-5.8 1.4z" color="#18a3ed"/><path d="M189.2 133.3l5.8 -1.4l4.2 2.8l-5.8 1.4z" color="#19a2ee"/><path d="M183.3 134.7l5.8 -1.5l4.2 2.8l-5.8 1.4z" color="#1aa0ef"/><path d="M177.5 136.2l5.8 -1.5l4.2 2.8l-5.8 1.4z" color="#1b9ef0"/><path d="M171.7 137.6l5.8 -1.5l4.2 2.8l-5.8 1.4z" color="#1c9df1"/><path d="M165.9 139.1l5.8 -1.5l4.2 2.8l-5.8 1.4z" color="#1d9bf3"/><path d="M160.1 140.5l5.8 -1.5l4.2 2.8l-5.8 1.4z" color="#1d99f4"/><path d="M154.3 142l5.8 -1.4l4.2 2.8l-5.8 1.4z" color="#1e98f6"/><path d="M148.5 143.4l5.8 -1.4l4.2 2.8l-5.8 1.4z" color="#2096f7"/><path d="M142.7 144.9l5.8 -1.4l4.2 2.8l-5.8 1.4z" color="#2194f9"/><path d="M136.9 146.3l5.8 -1.4l4.2 2.8l-5.8 1.4z" color="#2292fa"/><path d="M131.1 147.8l5.8 -1.4l4.2 2.8l-5.8 1.4z" color="#2390fc"/><path d="M125.3 149.2l5.8 -1.4l4.2 2.8l-5.8 1.4z" color="#248ffe"/><path d="M396.6 88.2l5.8 -1.2l4.2 2.6l-5.8 1.2z" color="#06c1bc"/><path d="M390.7 89.4l5.8 -1.2l4.2 2.6l-5.8 1.2z" color="#04c0be"/><path d="M384.9 90.7l5.8 -1.2l4.2 2.6l-5.8 1.2z" color="#01c0bf"/><path d="M379.1 91.9l5.8 -1.2l4.2 2.7l-5.8 1.3z" color="#00c0c0"/><path d="M373.3 93.2l5.8 -1.3l4.2 2.7l-5.8 1.3z" color="#00bfc2"/><path d="M367.5 94.4l5.8 -1.3l4.2 2.7l-5.8 1.3z" color="#00bfc3"/><path d="M361.7 95.7l5.8 -1.3l4.2 2.7l-5.8 1.3z" color="#00bec5"/><path d="M355.9 97l5.8 -1.3l4.2 2.7l-5.8 1.3z" color="#00bec6"/><path d="M350.1 98.3l5.8 -1.3l4.2 2.7l-5.8 1.3z" color="#00bdc8"/><path d="M344.3 99.6l5.8 -1.3l4.2 2.7l-5.8 1.3z" color="#00bcca"/><path d="M338.5 100.9l5.8 -1.3l4.2 2.7l-5.8 1.3z" color="#00bccb"/><path d="M332.7 102.3l5.8 -1.3l4.2 2.7l-5.8 1.3z" color="#00bbcd"/><path d="M326.9 103.6l5.8 -1.3l4.2 2.7l-5.8 1.3z" color="#00bacf"/><path d="M321.1 104.9l5.8 -1.3l4.2 2.7l-5.8 1.4z" color="#00bad1"/><path d="M315.3 106.3l5.8 -1.4l4.2 2.7l-5.8 1.4z" color="#00b9d3"/><path d="M309.5 107.7l5.8 -1.4l4.2 2.7l-5.8 1.4z" color="#00b8d5"/><path d="M303.7 109l5.8 -1.4l4.2 2.7l-5.8 1.4z" color="#00b7d7"/><path d="M297.8 110.4l5.8 -1.4l4.2 2.7l-5.8 1.4z" color="#01b6d8"/><path d="M292 111.8l5.8 -1.4l4.2 2.7l-5.8 1.4z" color="#04b5da"/><path d="M286.2 113.2l5.8 -1.4l4.2 2.7l-5.8 1.4z" color="#07b4dc"/><path d="M280.4 114.6l5.8 -1.4l4.2 2.7l-5.8 1.4z" color="#09b2de"/><path d="M274.6 116l5.8 -1.4l4.2 2.7l-5.8 1.4z" color="#0bb1e0"/><path d="M268.8 117.4l5.8 -1.4l4.2 2.7l-5.8 1.4z" color="#0eb0e2"/><path d="M263 118.8l5.8 -1.4l4.2 2.8l-5.8 1.4z" color="#0fafe3"/><path d="M257.2 120.2l5.8 -1.4l4.2 2.8l-5.8 1.4z" color="#10ade5"/><path d="M251.4 121.7l5.8 -1.4l4.2 2.8l-5.8 1.4z" color="#12ace6"/><path d="M245.6 123.1l5.8 -1.4l4.2 2.8l-5.8 1.4z" color="#13aae8"/><path d="M239.8 124.5l5.8 -1.4l4.2 2.8l-5.8 1.4z" color="#14a9e9"/><path d="M234 125.9l5.8 -1.4l4.2 2.8l-5.8 1.4z" color="#15a7ea"/><path d="M228.2 127.4l5.8 -1.4l4.2 2.8l-5.8 1.4z" color="#17a6eb"/><path d="M222.4 128.8l5.8 -1.4l4.2 2.8l-5.8 1.4z" color="#18a4ec"/><path d="M216.6 130.3l5.8 -1.4l4.2 2.8l-5.8 1.4z" color="#19a2ed"/><path d="M210.7 131.7l5.8 -1.4l4.2 2.8l-5.8 1.4z" color="#1aa1ee"/><path d="M204.9 133.2l5.8 -1.4l4.2 2.8l-5.8 1.4z" color="#1b9ff0"/><path d="M199.1 134.6l5.8 -1.4l4.2 2.8l-5.8 1.4z" color="#1c9df1"/><path d="M193.3 136.1l5.8 -1.4l4.2 2.8l-5.8 1.4z" color="#1c9cf2"/><path d="M187.5 137.5l5.8 -1.4l4.2 2.8l-5.8 1.4z" color="#1d9af4"/><path d="M181.7 139l5.8 -1.4l4.2 2.8l-5.8 1.4z" color="#1e98f5"/><path d="M175.9 140.4l5.8 -1.4l4.2 2.8l-5.8 1.4z" color="#1f96f7"/><path d="M170.1 141.9l5.8 -1.4l4.2 2.8l-5.8 1.4z" color="#2195f8"/><path d="M164.3 143.3l5.8 -1.4l4.2 2.8l-5.8 1.4z" color="#2293fa"/><path d="M158.5 144.7l5.8 -1.4l4.2 2.7l-5.8 1.4z" color="#2391fc"/><path d="M152.7 146.2l5.8 -1.4l4.2 2.7l-5.8 1.4z" color="#248ffd"/><path d="M146.9 147.6l5.8 -1.4l4.2 2.7l-5.8 1.4z" color="#248dff"/><path d="M141.1 149.1l5.8 -1.4l4.2 2.7l-5.8 1.4z" color="#258cff"/><path d="M135.3 150.5l5.8 -1.4l4.2 2.7l-5.8 1.4z" color="#258aff"/><path d="M129.5 152l5.8 -1.4l4.2 2.7l-5.8 1.4z" color="#2588ff"/><path d="M400.7 90.8l5.8 -1.2l4.2 2.6l-5.8 1.2z" color="#00bec5"/><path d="M394.9 92.1l5.8 -1.2l4.2 2.6l-5.8 1.2z" color="#00bec6"/><path d="M389.1 93.3l5.8 -1.2l4.2 2.6l-5.8 1.2z" color="#00bdc8"/><path d="M383.3 94.6l5.8 -1.3l4.2 2.6l-5.8 1.3z" color="#00bdc9"/><path d="M377.5 95.8l5.8 -1.3l4.2 2.6l-5.8 1.3z" color="#00bcca"/><path d="M371.7 97.1l5.8 -1.3l4.2 2.6l-5.8 1.3z" color="#00bccc"/><path d="M365.9 98.4l5.8 -1.3l4.2 2.6l-5.8 1.3z" color="#00bbcd"/><path d="M360.1 99.7l5.8 -1.3l4.2 2.7l-5.8 1.3z" color="#00bacf"/><path d="M354.3 101l5.8 -1.3l4.2 2.7l-5.8 1.3z" color="#00bad1"/><path d="M348.5 102.3l5.8 -1.3l4.2 2.7l-5.8 1.3z" color="#00b9d2"/><path d="M342.7 103.6l5.8 -1.3l4.2 2.7l-5.8 1.3z" color="#00b8d4"/><path d="M336.9 105l5.8 -1.3l4.2 2.7l-5.8 1.3z" color="#00b7d6"/><path d="M331.1 106.3l5.8 -1.3l4.2 2.7l-5.8 1.3z" color="#00b6d7"/><path d="M325.3 107.7l5.8 -1.4l4.2 2.7l-5.8 1.4z" color="#02b5d9"/><path d="M319.4 109l5.8 -1.4l4.2 2.7l-5.8 1.4z" color="#05b4db"/><path d="M313.6 110.4l5.8 -1.4l4.2 2.7l-5.8 1.4z" color="#07b3dd"/><path d="M307.8 111.8l5.8 -1.4l4.2 2.7l-5.8 1.4z" color="#09b2de"/><path d="M302 113.1l5.8 -1.4l4.2 2.7l-5.8 1.4z" color="#0bb1e0"/><path d="M296.2 114.5l5.8 -1.4l4.2 2.7l-5.8 1.4z" color="#0eb0e2"/><path d="M290.4 115.9l5.8 -1.4l4.2 2.7l-5.8 1.4z" color="#0fafe3"/><path d="M284.6 117.3l5.8 -1.4l4.2 2.7l-5.8 1.4z" color="#10ade5"/><path d="M278.8 118.7l5.8 -1.4l4.2 2.7l-5.8 1.4z" color="#12ace6"/><path d="M273 120.1l5.8 -1.4l4.2 2.7l-5.8 1.4z" color="#13abe8"/><path d="M267.2 121.6l5.8 -1.4l4.2 2.7l-5.8 1.4z" color="#14a9e9"/><path d="M261.4 123l5.8 -1.4l4.2 2.7l-5.8 1.4z" color="#15a8ea"/><path d="M255.6 124.4l5.8 -1.4l4.2 2.7l-5.8 1.4z" color="#16a6eb"/><path d="M249.8 125.8l5.8 -1.4l4.2 2.7l-5.8 1.4z" color="#18a4ec"/><path d="M244 127.3l5.8 -1.4l4.2 2.7l-5.8 1.4z" color="#19a3ed"/><path d="M238.2 128.7l5.8 -1.4l4.2 2.7l-5.8 1.4z" color="#1aa1ee"/><path d="M232.3 130.1l5.8 -1.4l4.2 2.7l-5.8 1.4z" color="#1aa0ef"/><path d="M226.5 131.6l5.8 -1.4l4.2 2.7l-5.8 1.4z" color="#1b9ef0"/><path d="M220.7 133l5.8 -1.4l4.2 2.7l-5.8 1.4z" color="#1c9cf2"/><path d="M214.9 134.5l5.8 -1.4l4.2 2.7l-5.8 1.4z" color="#1d9bf3"/><path d="M209.1 135.9l5.8 -1.4l4.2 2.7l-5.8 1.4z" color="#1e99f5"/><path d="M203.3 137.4l5.8 -1.4l4.2 2.7l-5.8 1.4z" color="#1f97f6"/><path d="M197.5 138.8l5.8 -1.4l4.2 2.7l-5.8 1.4z" color="#2095f8"/><path d="M191.7 140.3l5.8 -1.4l4.2 2.7l-5.8 1.4z" color="#2294f9"/><path d="M185.9 141.7l5.8 -1.4l4.2 2.7l-5.8 1.4z" color="#2392fb"/><path d="M180.1 143.2l5.8 -1.4l4.2 2.7l-5.8 1.4z" color="#2390fd"/><path d="M174.3 144.6l5.8 -1.4l4.2 2.7l-5.8 1.4z" color="#248efe"/><path d="M168.5 146l5.8 -1.4l4.2 2.7l-5.8 1.4z" color="#258cff"/><path d="M162.7 147.5l5.8 -1.4l4.2 2.7l-5.8 1.4z" color="#258bff"/><path d="M156.9 148.9l5.8 -1.4l4.2 2.7l-5.8 1.4z" color="#2589ff"/><path d="M151.1 150.4l5.8 -1.4l4.2 2.7l-5.8 1.4z" color="#2587ff"/><path d="M145.3 151.8l5.8 -1.4l4.2 2.7l-5.8 1.4z" color="#2685ff"/><path d="M139.4 153.2l5.8 -1.4l4.2 2.7l-5.8 1.4z" color="#2683ff"/><path d="M133.6 154.7l5.8 -1.4l4.2 2.7l-5.8 1.4z" color="#2781ff"/><path d="M404.9 93.5l5.8 -1.2l4.2 2.6l-5.8 1.2z" color="#00bbcd"/><path d="M399.1 94.7l5.8 -1.2l4.2 2.6l-5.8 1.2z" color="#00bbcf"/><path d="M393.3 95.9l5.8 -1.2l4.2 2.6l-5.8 1.3z" color="#00bad0"/><path d="M387.5 97.2l5.8 -1.3l4.2 2.6l-5.8 1.3z" color="#00b9d1"/><path d="M381.7 98.5l5.8 -1.3l4.2 2.6l-5.8 1.3z" color="#00b9d2"/><path d="M375.9 99.7l5.8 -1.3l4.2 2.6l-5.8 1.3z" color="#00b8d4"/><path d="M370.1 101l5.8 -1.3l4.2 2.6l-5.8 1.3z" color="#00b7d5"/><path d="M364.3 102.3l5.8 -1.3l4.2 2.6l-5.8 1.3z" color="#00b7d7"/><path d="M358.5 103.6l5.8 -1.3l4.2 2.6l-5.8 1.3z" color="#01b6d8"/><path d="M352.7 105l5.8 -1.3l4.2 2.6l-5.8 1.3z" color="#03b5da"/><path d="M346.8 106.3l5.8 -1.3l4.2 2.7l-5.8 1.3z" color="#06b4dc"/><path d="M341 107.6l5.8 -1.3l4.2 2.7l-5.8 1.3z" color="#08b3dd"/><path d="M335.2 109l5.8 -1.3l4.2 2.7l-5.8 1.4z" color="#0ab2df"/><path d="M329.4 110.3l5.8 -1.4l4.2 2.7l-5.8 1.4z" color="#0cb1e0"/><path d="M323.6 111.7l5.8 -1.4l4.2 2.7l-5.8 1.4z" color="#0eb0e2"/><path d="M317.8 113.1l5.8 -1.4l4.2 2.7l-5.8 1.4z" color="#0fafe3"/><path d="M312 114.5l5.8 -1.4l4.2 2.7l-5.8 1.4z" color="#10ade5"/><path d="M306.2 115.8l5.8 -1.4l4.2 2.7l-5.8 1.4z" color="#11ace6"/><path d="M300.4 117.2l5.8 -1.4l4.2 2.7l-5.8 1.4z" color="#13abe7"/><path d="M294.6 118.6l5.8 -1.4l4.2 2.7l-5.8 1.4z" color="#14a9e9"/><path d="M288.8 120l5.8 -1.4l4.2 2.7l-5.8 1.4z" color="#15a8ea"/><path d="M283 121.5l5.8 -1.4l4.2 2.7l-5.8 1.4z" color="#16a6eb"/><path d="M277.2 122.9l5.8 -1.4l4.2 2.7l-5.8 1.4z" color="#17a5ec"/><path d="M271.4 124.3l5.8 -1.4l4.2 2.7l-5.8 1.4z" color="#18a3ed"/><path d="M265.6 125.7l5.8 -1.4l4.2 2.7l-5.8 1.4z" color="#19a2ee"/><path d="M259.8 127.1l5.8 -1.4l4.2 2.7l-5.8 1.4z" color="#1aa0ef"/><path d="M253.9 128.6l5.8 -1.4l4.2 2.7l-5.8 1.4z" color="#1b9ff0"/><path d="M248.1 130l5.8 -1.4l4.2 2.7l-5.8 1.4z" color="#1c9df1"/><path d="M242.3 131.4l5.8 -1.4l4.2 2.7l-5.8 1.4z" color="#1c9bf3"/><path d="M236.5 132.9l5.8 -1.4l4.2 2.7l-5.8 1.4z" color="#1d9af4"/><path d="M230.7 134.3l5.8 -1.4l4.2 2.7l-5.8 1.4z" color="#1e98f5"/><path d="M224.9 135.8l5.8 -1.4l4.2 2.7l-5.8 1.4z" color="#1f96f7"/><path d="M219.1 137.2l5.8 -1.4l4.2 2.7l-5.8 1.4z" color="#2194f8"/><path d="M213.3 138.7l5.8 -1.4l4.2 2.7l-5.8 1.4z" color="#2293fa"/><path d="M207.5 140.1l5.8 -1.4l4.2 2.7l-5.8 1.4z" color="#2391fc"/><path d="M201.7 141.5l5.8 -1.4l4.2 2.7l-5.8 1.4z" color="#248ffd"/><path d="M195.9 143l5.8 -1.4l4.2 2.7l-5.8 1.4z" color="#248dff"/><path d="M190.1 144.4l5.8 -1.4l4.2 2.7l-5.8 1.4z" color="#258bff"/><path d="M184.3 145.9l5.8 -1.4l4.2 2.7l-5.8 1.4z" color="#258aff"/><path d="M178.5 147.3l5.8 -1.4l4.2 2.7l-5.8 1.4z" color="#2588ff"/><path d="M172.7 148.8l5.8 -1.4l4.2 2.7l-5.8 1.4z" color="#2686ff"/><path d="M166.9 150.2l5.8 -1.4l4.2 2.7l-5.8 1.4z" color="#2684ff"/><path d="M161 151.6l5.8 -1.4l4.2 2.7l-5.8 1.4z" color="#2782ff"/><path d="M155.2 153.1l5.8 -1.4l4.2 2.7l-5.8 1.4z" color="#2880ff"/><path d="M149.4 154.5l5.8 -1.4l4.2 2.6l-5.8 1.4z" color="#297eff"/><path d="M143.6 155.9l5.8 -1.4l4.2 2.6l-5.8 1.4z" color="#2b7cff"/><path d="M137.8 157.3l5.8 -1.4l4.2 2.6l-5.8 1.4z" color="#2d7aff"/><path d="M409.1 96.1l5.8 -1.2l4.2 2.6l-5.8 1.2z" color="#00b8d5"/><path d="M403.3 97.3l5.8 -1.2l4.2 2.6l-5.8 1.2z" color="#00b7d6"/><path d="M397.5 98.5l5.8 -1.3l4.2 2.6l-5.8 1.3z" color="#00b6d7"/><path d="M391.7 99.8l5.8 -1.3l4.2 2.6l-5.8 1.3z" color="#01b6d9"/><path d="M385.9 101.1l5.8 -1.3l4.2 2.6l-5.8 1.3z" color="#03b5da"/><path d="M380.1 102.4l5.8 -1.3l4.2 2.6l-5.8 1.3z" color="#06b4db"/><path d="M374.3 103.7l5.8 -1.3l4.2 2.6l-5.8 1.3z" color="#07b3dd"/><path d="M368.4 105l5.8 -1.3l4.2 2.6l-5.8 1.3z" color="#09b2de"/><path d="M362.6 106.3l5.8 -1.3l4.2 2.6l-5.8 1.3z" color="#0bb1df"/><path d="M356.8 107.6l5.8 -1.3l4.2 2.6l-5.8 1.3z" color="#0db0e1"/><path d="M351 109l5.8 -1.3l4.2 2.6l-5.8 1.3z" color="#0eafe2"/><path d="M345.2 110.3l5.8 -1.3l4.2 2.6l-5.8 1.3z" color="#0faee4"/><path d="M339.4 111.7l5.8 -1.4l4.2 2.6l-5.8 1.4z" color="#10ade5"/><path d="M333.6 113l5.8 -1.4l4.2 2.6l-5.8 1.4z" color="#12ace6"/><path d="M327.8 114.4l5.8 -1.4l4.2 2.6l-5.8 1.4z" color="#13abe7"/><path d="M322 115.8l5.8 -1.4l4.2 2.7l-5.8 1.4z" color="#14a9e8"/><path d="M316.2 117.1l5.8 -1.4l4.2 2.7l-5.8 1.4z" color="#15a8ea"/><path d="M310.4 118.5l5.8 -1.4l4.2 2.7l-5.8 1.4z" color="#16a7eb"/><path d="M304.6 119.9l5.8 -1.4l4.2 2.7l-5.8 1.4z" color="#17a5eb"/><path d="M298.8 121.3l5.8 -1.4l4.2 2.7l-5.8 1.4z" color="#18a4ec"/><path d="M293 122.7l5.8 -1.4l4.2 2.7l-5.8 1.4z" color="#19a2ed"/><path d="M287.2 124.2l5.8 -1.4l4.2 2.7l-5.8 1.4z" color="#1aa1ee"/><path d="M281.4 125.6l5.8 -1.4l4.2 2.7l-5.8 1.4z" color="#1b9fef"/><path d="M275.5 127l5.8 -1.4l4.2 2.7l-5.8 1.4z" color="#1b9ef1"/><path d="M269.7 128.4l5.8 -1.4l4.2 2.7l-5.8 1.4z" color="#1c9cf2"/><path d="M263.9 129.8l5.8 -1.4l4.2 2.7l-5.8 1.4z" color="#1d9af3"/><path d="M258.1 131.3l5.8 -1.4l4.2 2.7l-5.8 1.4z" color="#1e99f5"/><path d="M252.3 132.7l5.8 -1.4l4.2 2.7l-5.8 1.4z" color="#1f97f6"/><path d="M246.5 134.1l5.8 -1.4l4.2 2.7l-5.8 1.4z" color="#2095f8"/><path d="M240.7 135.6l5.8 -1.4l4.2 2.7l-5.8 1.4z" color="#2294f9"/><path d="M234.9 137l5.8 -1.4l4.2 2.7l-5.8 1.4z" color="#2392fb"/><path d="M229.1 138.5l5.8 -1.4l4.2 2.7l-5.8 1.4z" color="#2390fd"/><path d="M223.3 139.9l5.8 -1.4l4.2 2.7l-5.8 1.4z" color="#248efe"/><path d="M217.5 141.4l5.8 -1.4l4.2 2.7l-5.8 1.4z" color="#258cff"/><path d="M211.7 142.8l5.8 -1.4l4.2 2.7l-5.8 1.4z" color="#258aff"/><path d="M205.9 144.2l5.8 -1.4l4.2 2.7l-5.8 1.4z" color="#2589ff"/><path d="M200.1 145.7l5.8 -1.4l4.2 2.7l-5.8 1.4z" color="#2587ff"/><path d="M194.3 147.1l5.8 -1.4l4.2 2.7l-5.8 1.4z" color="#2685ff"/><path d="M188.5 148.6l5.8 -1.4l4.2 2.6l-5.8 1.4z" color="#2783ff"/><path d="M182.6 150l5.8 -1.4l4.2 2.6l-5.8 1.4z" color="#2781ff"/><path d="M176.8 151.4l5.8 -1.4l4.2 2.6l-5.8 1.4z" color="#297fff"/><path d="M171 152.9l5.8 -1.4l4.2 2.6l-5.8 1.4z" color="#2a7dff"/><path d="M165.2 154.3l5.8 -1.4l4.2 2.6l-5.8 1.4z" color="#2c7bff"/><path d="M159.4 155.7l5.8 -1.4l4.2 2.6l-5.8 1.4z" color="#2e79ff"/><path d="M153.6 157.1l5.8 -1.4l4.2 2.6l-5.8 1.4z" color="#3077ff"/><path d="M147.8 158.5l5.8 -1.4l4.2 2.6l-5.8 1.4z" color="#3275ff"/><path d="M142 160l5.8 -1.4l4.2 2.6l-5.8 1.4z" color="#3473ff"/><path d="M413.3 98.6l5.8 -1.2l4.2 2.5l-5.8 1.2z" color="#07b4dc"/><path d="M407.5 99.9l5.8 -1.2l4.2 2.6l-5.8 1.3z" color="#08b3dd"/><path d="M401.7 101.1l5.8 -1.3l4.2 2.6l-5.8 1.3z" color="#09b2de"/><path d="M395.9 102.4l5.8 -1.3l4.2 2.6l-5.8 1.3z" color="#0bb2df"/><path d="M390 103.7l5.8 -1.3l4.2 2.6l-5.8 1.3z" color="#0cb1e1"/><path d="M384.2 105l5.8 -1.3l4.2 2.6l-5.8 1.3z" color="#0eb0e2"/><path d="M378.4 106.3l5.8 -1.3l4.2 2.6l-5.8 1.3z" color="#0fafe3"/><path d="M372.6 107.6l5.8 -1.3l4.2 2.6l-5.8 1.3z" color="#10aee4"/><path d="M366.8 108.9l5.8 -1.3l4.2 2.6l-5.8 1.3z" color="#11ade5"/><path d="M361 110.3l5.8 -1.3l4.2 2.6l-5.8 1.3z" color="#12ace7"/><path d="M355.2 111.6l5.8 -1.3l4.2 2.6l-5.8 1.3z" color="#13abe8"/><path d="M349.4 112.9l5.8 -1.3l4.2 2.6l-5.8 1.4z" color="#14a9e9"/><path d="M343.6 114.3l5.8 -1.4l4.2 2.6l-5.8 1.4z" color="#15a8ea"/><path d="M337.8 115.7l5.8 -1.4l4.2 2.6l-5.8 1.4z" color="#16a7eb"/><path d="M332 117l5.8 -1.4l4.2 2.6l-5.8 1.4z" color="#17a5eb"/><path d="M326.2 118.4l5.8 -1.4l4.2 2.6l-5.8 1.4z" color="#18a4ec"/><path d="M320.4 119.8l5.8 -1.4l4.2 2.6l-5.8 1.4z" color="#19a3ed"/><path d="M314.6 121.2l5.8 -1.4l4.2 2.6l-5.8 1.4z" color="#1aa1ee"/><path d="M308.8 122.6l5.8 -1.4l4.2 2.6l-5.8 1.4z" color="#1aa0ef"/><path d="M303 124l5.8 -1.4l4.2 2.6l-5.8 1.4z" color="#1b9ef0"/><path d="M297.1 125.4l5.8 -1.4l4.2 2.6l-5.8 1.4z" color="#1c9df1"/><path d="M291.3 126.8l5.8 -1.4l4.2 2.6l-5.8 1.4z" color="#1d9bf3"/><path d="M285.5 128.2l5.8 -1.4l4.2 2.6l-5.8 1.4z" color="#1d99f4"/><path d="M279.7 129.7l5.8 -1.4l4.2 2.6l-5.8 1.4z" color="#1e98f6"/><path d="M273.9 131.1l5.8 -1.4l4.2 2.7l-5.8 1.4z" color="#2096f7"/><path d="M268.1 132.5l5.8 -1.4l4.2 2.7l-5.8 1.4z" color="#2194f9"/><path d="M262.3 134l5.8 -1.4l4.2 2.7l-5.8 1.4z" color="#2293fa"/><path d="M256.5 135.4l5.8 -1.4l4.2 2.7l-5.8 1.4z" color="#2391fc"/><path d="M250.7 136.8l5.8 -1.4l4.2 2.6l-5.8 1.4z" color="#248ffd"/><path d="M244.9 138.3l5.8 -1.4l4.2 2.6l-5.8 1.4z" color="#248dff"/><path d="M239.1 139.7l5.8 -1.4l4.2 2.6l-5.8 1.4z" color="#258cff"/><path d="M233.3 141.1l5.8 -1.4l4.2 2.6l-5.8 1.4z" color="#258aff"/><path d="M227.5 142.6l5.8 -1.4l4.2 2.6l-5.8 1.4z" color="#2588ff"/><path d="M221.7 144l5.8 -1.4l4.2 2.6l-5.8 1.4z" color="#2686ff"/><path d="M215.9 145.5l5.8 -1.4l4.2 2.6l-5.8 1.4z" color="#2684ff"/><path d="M210.1 146.9l5.8 -1.4l4.2 2.6l-5.8 1.4z" color="#2782ff"/><path d="M204.2 148.3l5.8 -1.4l4.2 2.6l-5.8 1.4z" color="#2880ff"/><path d="M198.4 149.8l5.8 -1.4l4.2 2.6l-5.8 1.4z" color="#297eff"/><path d="M192.6 151.2l5.8 -1.4l4.2 2.6l-5.8 1.4z" color="#2b7cff"/><path d="M186.8 152.6l5.8 -1.4l4.2 2.6l-5.8 1.4z" color="#2d7aff"/><path d="M181 154.1l5.8 -1.4l4.2 2.6l-5.8 1.4z" color="#2f78ff"/><path d="M175.2 155.5l5.8 -1.4l4.2 2.6l-5.8 1.4z" color="#3176ff"/><path d="M169.4 156.9l5.8 -1.4l4.2 2.6l-5.8 1.4z" color="#3374ff"/><path d="M163.6 158.3l5.8 -1.4l4.2 2.6l-5.8 1.4z" color="#3672ff"/><path d="M157.8 159.7l5.8 -1.4l4.2 2.6l-5.8 1.4z" color="#3870ff"/><path d="M152 161.1l5.8 -1.4l4.2 2.6l-5.8 1.4z" color="#396eff"/><path d="M146.2 162.5l5.8 -1.4l4.2 2.5l-5.8 1.4z" color="#3b6cff"/><path d="M417.5 101.2l5.8 -1.2l4.2 2.5l-5.8 1.2z" color="#0eb0e2"/><path d="M411.6 102.4l5.8 -1.3l4.2 2.5l-5.8 1.3z" color="#0fafe3"/><path d="M405.8 103.7l5.8 -1.3l4.2 2.5l-5.8 1.3z" color="#10aee4"/><path d="M400 105l5.8 -1.3l4.2 2.5l-5.8 1.3z" color="#11ade5"/><path d="M394.2 106.3l5.8 -1.3l4.2 2.5l-5.8 1.3z" color="#11ace6"/><path d="M388.4 107.6l5.8 -1.3l4.2 2.6l-5.8 1.3z" color="#12abe7"/><path d="M382.6 108.9l5.8 -1.3l4.2 2.6l-5.8 1.3z" color="#13aae8"/><path d="M376.8 110.2l5.8 -1.3l4.2 2.6l-5.8 1.3z" color="#14a9e9"/><path d="M371 111.5l5.8 -1.3l4.2 2.6l-5.8 1.3z" color="#15a8ea"/><path d="M365.2 112.9l5.8 -1.3l4.2 2.6l-5.8 1.3z" color="#16a7eb"/><path d="M359.4 114.2l5.8 -1.3l4.2 2.6l-5.8 1.4z" color="#17a5eb"/><path d="M353.6 115.6l5.8 -1.4l4.2 2.6l-5.8 1.4z" color="#18a4ec"/><path d="M347.8 116.9l5.8 -1.4l4.2 2.6l-5.8 1.4z" color="#19a3ed"/><path d="M342 118.3l5.8 -1.4l4.2 2.6l-5.8 1.4z" color="#1aa1ee"/><path d="M336.2 119.7l5.8 -1.4l4.2 2.6l-5.8 1.4z" color="#1aa0ef"/><path d="M330.4 121.1l5.8 -1.4l4.2 2.6l-5.8 1.4z" color="#1b9ff0"/><path d="M324.6 122.4l5.8 -1.4l4.2 2.6l-5.8 1.4z" color="#1c9df1"/><path d="M318.7 123.8l5.8 -1.4l4.2 2.6l-5.8 1.4z" color="#1c9cf2"/><path d="M312.9 125.2l5.8 -1.4l4.2 2.6l-5.8 1.4z" color="#1d9af4"/><path d="M307.1 126.7l5.8 -1.4l4.2 2.6l-5.8 1.4z" color="#1e99f5"/><path d="M301.3 128.1l5.8 -1.4l4.2 2.6l-5.8 1.4z" color="#1f97f6"/><path d="M295.5 129.5l5.8 -1.4l4.2 2.6l-5.8 1.4z" color="#2095f8"/><path d="M289.7 130.9l5.8 -1.4l4.2 2.6l-5.8 1.4z" color="#2294f9"/><path d="M283.9 132.3l5.8 -1.4l4.2 2.6l-5.8 1.4z" color="#2392fb"/><path d="M278.1 133.7l5.8 -1.4l4.2 2.6l-5.8 1.4z" color="#2390fc"/><path d="M272.3 135.2l5.8 -1.4l4.2 2.6l-5.8 1.4z" color="#248efe"/><path d="M266.5 136.6l5.8 -1.4l4.2 2.6l-5.8 1.4z" color="#248dff"/><path d="M260.7 138l5.8 -1.4l4.2 2.6l-5.8 1.4z" color="#258bff"/><path d="M254.9 139.5l5.8 -1.4l4.2 2.6l-5.8 1.4z" color="#2589ff"/><path d="M249.1 140.9l5.8 -1.4l4.2 2.6l-5.8 1.4z" color="#2587ff"/><path d="M243.3 142.3l5.8 -1.4l4.2 2.6l-5.8 1.4z" color="#2685ff"/><path d="M237.5 143.8l5.8 -1.4l4.2 2.6l-5.8 1.4z" color="#2683ff"/><path d="M231.6 145.2l5.8 -1.4l4.2 2.6l-5.8 1.4z" color="#2781ff"/><path d="M225.8 146.7l5.8 -1.4l4.2 2.6l-5.8 1.4z" color="#297fff"/><path d="M220 148.1l5.8 -1.4l4.2 2.6l-5.8 1.4z" color="#2a7dff"/><path d="M214.2 149.5l5.8 -1.4l4.2 2.6l-5.8 1.4z" color="#2b7bff"/><path d="M208.4 150.9l5.8 -1.4l4.2 2.6l-5.8 1.4z" color="#2e79ff"/><path d="M202.6 152.4l5.8 -1.4l4.2 2.6l-5.8 1.4z" color="#3077ff"/><path d="M196.8 153.8l5.8 -1.4l4.2 2.6l-5.8 1.4z" color="#3275ff"/><path d="M191 155.2l5.8 -1.4l4.2 2.6l-5.8 1.4z" color="#3473ff"/><path d="M185.2 156.6l5.8 -1.4l4.2 2.6l-5.8 1.4z" color="#3771ff"/><path d="M179.4 158.1l5.8 -1.4l4.2 2.5l-5.8 1.4z" color="#396fff"/><path d="M173.6 159.5l5.8 -1.4l4.2 2.5l-5.8 1.4z" color="#3a6dff"/><path d="M167.8 160.9l5.8 -1.4l4.2 2.5l-5.8 1.4z" color="#3c6bff"/><path d="M162 162.3l5.8 -1.4l4.2 2.5l-5.8 1.4z" color="#3d69ff"/><path d="M156.2 163.7l5.8 -1.4l4.2 2.5l-5.8 1.4z" color="#3e68ff"/><path d="M150.4 165.1l5.8 -1.4l4.2 2.5l-5.8 1.4z" color="#3f66ff"/><path d="M421.6 103.7l5.8 -1.2l4.2 2.5l-5.8 1.3z" color="#12abe7"/><path d="M415.8 105l5.8 -1.3l4.2 2.5l-5.8 1.3z" color="#13aae8"/><path d="M410 106.2l5.8 -1.3l4.2 2.5l-5.8 1.3z" color="#14a9e9"/><path d="M404.2 107.5l5.8 -1.3l4.2 2.5l-5.8 1.3z" color="#15a8e9"/><path d="M398.4 108.8l5.8 -1.3l4.2 2.5l-5.8 1.3z" color="#15a7ea"/><path d="M392.6 110.1l5.8 -1.3l4.2 2.5l-5.8 1.3z" color="#16a6eb"/><path d="M386.8 111.4l5.8 -1.3l4.2 2.5l-5.8 1.3z" color="#17a5ec"/><path d="M381 112.8l5.8 -1.3l4.2 2.5l-5.8 1.3z" color="#18a4ec"/><path d="M375.2 114.1l5.8 -1.3l4.2 2.6l-5.8 1.3z" color="#19a3ed"/><path d="M369.4 115.4l5.8 -1.3l4.2 2.6l-5.8 1.3z" color="#1aa1ee"/><path d="M363.6 116.8l5.8 -1.4l4.2 2.6l-5.8 1.4z" color="#1aa0ef"/><path d="M357.8 118.2l5.8 -1.4l4.2 2.6l-5.8 1.4z" color="#1b9ff0"/><path d="M352 119.5l5.8 -1.4l4.2 2.6l-5.8 1.4z" color="#1c9df1"/><path d="M346.2 120.9l5.8 -1.4l4.2 2.6l-5.8 1.4z" color="#1c9cf2"/><path d="M340.3 122.3l5.8 -1.4l4.2 2.6l-5.8 1.4z" color="#1d9bf3"/><path d="M334.5 123.7l5.8 -1.4l4.2 2.6l-5.8 1.4z" color="#1e99f5"/><path d="M328.7 125.1l5.8 -1.4l4.2 2.6l-5.8 1.4z" color="#1e98f6"/><path d="M322.9 126.5l5.8 -1.4l4.2 2.6l-5.8 1.4z" color="#2096f7"/><path d="M317.1 127.9l5.8 -1.4l4.2 2.6l-5.8 1.4z" color="#2194f9"/><path d="M311.3 129.3l5.8 -1.4l4.2 2.6l-5.8 1.4z" color="#2293fa"/><path d="M305.5 130.7l5.8 -1.4l4.2 2.6l-5.8 1.4z" color="#2391fc"/><path d="M299.7 132.1l5.8 -1.4l4.2 2.6l-5.8 1.4z" color="#248ffd"/><path d="M293.9 133.5l5.8 -1.4l4.2 2.6l-5.8 1.4z" color="#248eff"/><path d="M288.1 134.9l5.8 -1.4l4.2 2.6l-5.8 1.4z" color="#258cff"/><path d="M282.3 136.4l5.8 -1.4l4.2 2.6l-5.8 1.4z" color="#258aff"/><path d="M276.5 137.8l5.8 -1.4l4.2 2.6l-5.8 1.4z" color="#2588ff"/><path d="M270.7 139.2l5.8 -1.4l4.2 2.6l-5.8 1.4z" color="#2686ff"/><path d="M264.9 140.7l5.8 -1.4l4.2 2.6l-5.8 1.4z" color="#2685ff"/><path d="M259.1 142.1l5.8 -1.4l4.2 2.6l-5.8 1.4z" color="#2783ff"/><path d="M253.2 143.5l5.8 -1.4l4.2 2.6l-5.8 1.4z" color="#2881ff"/><path d="M247.4 145l5.8 -1.4l4.2 2.6l-5.8 1.4z" color="#297fff"/><path d="M241.6 146.4l5.8 -1.4l4.2 2.6l-5.8 1.4z" color="#2a7dff"/><path d="M235.8 147.8l5.8 -1.4l4.2 2.6l-5.8 1.4z" color="#2c7bff"/><path d="M230 149.3l5.8 -1.4l4.2 2.6l-5.8 1.4z" color="#2f79ff"/><path d="M224.2 150.7l5.8 -1.4l4.2 2.6l-5.8 1.4z" color="#3176ff"/><path d="M218.4 152.1l5.8 -1.4l4.2 2.6l-5.8 1.4z" color="#3374ff"/><path d="M212.6 153.5l5.8 -1.4l4.2 2.6l-5.8 1.4z" color="#3572ff"/><path d="M206.8 155l5.8 -1.4l4.2 2.5l-5.8 1.4z" color="#3770ff"/><path d="M201 156.4l5.8 -1.4l4.2 2.5l-5.8 1.4z" color="#396eff"/><path d="M195.2 157.8l5.8 -1.4l4.2 2.5l-5.8 1.4z" color="#3b6cff"/><path d="M189.4 159.2l5.8 -1.4l4.2 2.5l-5.8 1.4z" color="#3c6aff"/><path d="M183.6 160.6l5.8 -1.4l4.2 2.5l-5.8 1.4z" color="#3e68ff"/><path d="M177.8 162l5.8 -1.4l4.2 2.5l-5.8 1.4z" color="#3f67ff"/><path d="M172 163.4l5.8 -1.4l4.2 2.5l-5.8 1.4z" color="#3f65ff"/><path d="M166.2 164.8l5.8 -1.4l4.2 2.5l-5.8 1.4z" color="#4063ff"/><path d="M160.3 166.2l5.8 -1.4l4.2 2.5l-5.8 1.4z" color="#4162ff"/><path d="M154.5 167.6l5.8 -1.4l4.2 2.4l-5.8 1.4z" color="#4260ff"/><path d="M425.8 106.2l5.8 -1.3l4.2 2.5l-5.8 1.3z" color="#16a6eb"/><path d="M420 107.5l5.8 -1.3l4.2 2.5l-5.8 1.3z" color="#17a5eb"/><path d="M414.2 108.8l5.8 -1.3l4.2 2.5l-5.8 1.3z" color="#18a4ec"/><path d="M408.4 110.1l5.8 -1.3l4.2 2.5l-5.8 1.3z" color="#18a3ed"/><path d="M402.6 111.4l5.8 -1.3l4.2 2.5l-5.8 1.3z" color="#19a2ed"/><path d="M396.8 112.7l5.8 -1.3l4.2 2.5l-5.8 1.3z" color="#1aa1ee"/><path d="M391 114l5.8 -1.3l4.2 2.5l-5.8 1.3z" color="#1aa0ef"/><path d="M385.2 115.3l5.8 -1.3l4.2 2.5l-5.8 1.3z" color="#1b9ff0"/><path d="M379.4 116.7l5.8 -1.3l4.2 2.5l-5.8 1.3z" color="#1c9df1"/><path d="M373.6 118l5.8 -1.3l4.2 2.5l-5.8 1.4z" color="#1c9cf2"/><path d="M367.7 119.4l5.8 -1.4l4.2 2.5l-5.8 1.4z" color="#1d9bf3"/><path d="M361.9 120.7l5.8 -1.4l4.2 2.5l-5.8 1.4z" color="#1d99f4"/><path d="M356.1 122.1l5.8 -1.4l4.2 2.5l-5.8 1.4z" color="#1e98f5"/><path d="M350.3 123.5l5.8 -1.4l4.2 2.6l-5.8 1.4z" color="#1f97f7"/><path d="M344.5 124.9l5.8 -1.4l4.2 2.6l-5.8 1.4z" color="#2095f8"/><path d="M338.7 126.3l5.8 -1.4l4.2 2.6l-5.8 1.4z" color="#2293f9"/><path d="M332.9 127.6l5.8 -1.4l4.2 2.6l-5.8 1.4z" color="#2392fb"/><path d="M327.1 129l5.8 -1.4l4.2 2.6l-5.8 1.4z" color="#2390fc"/><path d="M321.3 130.5l5.8 -1.4l4.2 2.6l-5.8 1.4z" color="#248efe"/><path d="M315.5 131.9l5.8 -1.4l4.2 2.6l-5.8 1.4z" color="#248dff"/><path d="M309.7 133.3l5.8 -1.4l4.2 2.6l-5.8 1.4z" color="#258bff"/><path d="M303.9 134.7l5.8 -1.4l4.2 2.6l-5.8 1.4z" color="#2589ff"/><path d="M298.1 136.1l5.8 -1.4l4.2 2.6l-5.8 1.4z" color="#2588ff"/><path d="M292.3 137.5l5.8 -1.4l4.2 2.6l-5.8 1.4z" color="#2686ff"/><path d="M286.5 139l5.8 -1.4l4.2 2.6l-5.8 1.4z" color="#2684ff"/><path d="M280.7 140.4l5.8 -1.4l4.2 2.6l-5.8 1.4z" color="#2782ff"/><path d="M274.8 141.8l5.8 -1.4l4.2 2.6l-5.8 1.4z" color="#2880ff"/><path d="M269 143.2l5.8 -1.4l4.2 2.6l-5.8 1.4z" color="#297eff"/><path d="M263.2 144.7l5.8 -1.4l4.2 2.6l-5.8 1.4z" color="#2b7cff"/><path d="M257.4 146.1l5.8 -1.4l4.2 2.6l-5.8 1.4z" color="#2d7aff"/><path d="M251.6 147.5l5.8 -1.4l4.2 2.6l-5.8 1.4z" color="#2f78ff"/><path d="M245.8 149l5.8 -1.4l4.2 2.5l-5.8 1.4z" color="#3276ff"/><path d="M240 150.4l5.8 -1.4l4.2 2.5l-5.8 1.4z" color="#3474ff"/><path d="M234.2 151.8l5.8 -1.4l4.2 2.5l-5.8 1.4z" color="#3672ff"/><path d="M228.4 153.2l5.8 -1.4l4.2 2.5l-5.8 1.4z" color="#3870ff"/><path d="M222.6 154.7l5.8 -1.4l4.2 2.5l-5.8 1.4z" color="#3a6eff"/><path d="M216.8 156.1l5.8 -1.4l4.2 2.5l-5.8 1.4z" color="#3b6cff"/><path d="M211 157.5l5.8 -1.4l4.2 2.5l-5.8 1.4z" color="#3d6aff"/><path d="M205.2 158.9l5.8 -1.4l4.2 2.5l-5.8 1.4z" color="#3e68ff"/><path d="M199.4 160.3l5.8 -1.4l4.2 2.5l-5.8 1.4z" color="#3f66ff"/><path d="M193.6 161.7l5.8 -1.4l4.2 2.5l-5.8 1.4z" color="#4064ff"/><path d="M187.8 163.1l5.8 -1.4l4.2 2.5l-5.8 1.4z" color="#4162ff"/><path d="M181.9 164.5l5.8 -1.4l4.2 2.5l-5.8 1.4z" color="#4161ff"/><path d="M176.1 165.9l5.8 -1.4l4.2 2.4l-5.8 1.4z" color="#425fff"/><path d="M170.3 167.3l5.8 -1.4l4.2 2.4l-5.8 1.4z" color="#425dff"/><path d="M164.5 168.6l5.8 -1.4l4.2 2.4l-5.8 1.4z" color="#435cff"/><path d="M158.7 170l5.8 -1.4l4.2 2.4l-5.8 1.3z" color="#435aff"/><path d="M430 108.7l5.8 -1.3l4.2 2.4l-5.8 1.3z" color="#1aa2ee"/><path d="M424.2 110l5.8 -1.3l4.2 2.5l-5.8 1.3z" color="#1aa1ef"/><path d="M418.4 111.3l5.8 -1.3l4.2 2.5l-5.8 1.3z" color="#1b9fef"/><path d="M412.6 112.6l5.8 -1.3l4.2 2.5l-5.8 1.3z" color="#1b9ef0"/><path d="M406.8 113.9l5.8 -1.3l4.2 2.5l-5.8 1.3z" color="#1c9df1"/><path d="M401 115.2l5.8 -1.3l4.2 2.5l-5.8 1.3z" color="#1c9cf2"/><path d="M395.2 116.5l5.8 -1.3l4.2 2.5l-5.8 1.3z" color="#1d9bf3"/><path d="M389.3 117.8l5.8 -1.3l4.2 2.5l-5.8 1.3z" color="#1d9af4"/><path d="M383.5 119.2l5.8 -1.3l4.2 2.5l-5.8 1.4z" color="#1e98f5"/><path d="M377.7 120.5l5.8 -1.4l4.2 2.5l-5.8 1.4z" color="#1f97f6"/><path d="M371.9 121.9l5.8 -1.4l4.2 2.5l-5.8 1.4z" color="#2095f8"/><path d="M366.1 123.3l5.8 -1.4l4.2 2.5l-5.8 1.4z" color="#2194f9"/><path d="M360.3 124.7l5.8 -1.4l4.2 2.5l-5.8 1.4z" color="#2292fa"/><path d="M354.5 126l5.8 -1.4l4.2 2.5l-5.8 1.4z" color="#2391fc"/><path d="M348.7 127.4l5.8 -1.4l4.2 2.5l-5.8 1.4z" color="#248ffd"/><path d="M342.9 128.8l5.8 -1.4l4.2 2.5l-5.8 1.4z" color="#248eff"/><path d="M337.1 130.2l5.8 -1.4l4.2 2.5l-5.8 1.4z" color="#258cff"/><path d="M331.3 131.6l5.8 -1.4l4.2 2.5l-5.8 1.4z" color="#258aff"/><path d="M325.5 133l5.8 -1.4l4.2 2.5l-5.8 1.4z" color="#2589ff"/><path d="M319.7 134.4l5.8 -1.4l4.2 2.5l-5.8 1.4z" color="#2587ff"/><path d="M313.9 135.8l5.8 -1.4l4.2 2.5l-5.8 1.4z" color="#2685ff"/><path d="M308.1 137.3l5.8 -1.4l4.2 2.5l-5.8 1.4z" color="#2683ff"/><path d="M302.3 138.7l5.8 -1.4l4.2 2.5l-5.8 1.4z" color="#2781ff"/><path d="M296.4 140.1l5.8 -1.4l4.2 2.5l-5.8 1.4z" color="#297fff"/><path d="M290.6 141.5l5.8 -1.4l4.2 2.5l-5.8 1.4z" color="#2a7eff"/><path d="M284.8 143l5.8 -1.4l4.2 2.5l-5.8 1.4z" color="#2b7cff"/><path d="M279 144.4l5.8 -1.4l4.2 2.5l-5.8 1.4z" color="#2e79ff"/><path d="M273.2 145.8l5.8 -1.4l4.2 2.5l-5.8 1.4z" color="#3077ff"/><path d="M267.4 147.2l5.8 -1.4l4.2 2.5l-5.8 1.4z" color="#3275ff"/><path d="M261.6 148.7l5.8 -1.4l4.2 2.5l-5.8 1.4z" color="#3473ff"/><path d="M255.8 150.1l5.8 -1.4l4.2 2.5l-5.8 1.4z" color="#3771ff"/><path d="M250 151.5l5.8 -1.4l4.2 2.5l-5.8 1.4z" color="#396fff"/><path d="M244.2 152.9l5.8 -1.4l4.2 2.5l-5.8 1.4z" color="#3a6dff"/><path d="M238.4 154.3l5.8 -1.4l4.2 2.5l-5.8 1.4z" color="#3c6bff"/><path d="M232.6 155.8l5.8 -1.4l4.2 2.5l-5.8 1.4z" color="#3d69ff"/><path d="M226.8 157.2l5.8 -1.4l4.2 2.5l-5.8 1.4z" color="#3e67ff"/><path d="M221 158.6l5.8 -1.4l4.2 2.5l-5.8 1.4z" color="#3f65ff"/><path d="M215.2 160l5.8 -1.4l4.2 2.5l-5.8 1.4z" color="#4063ff"/><path d="M209.4 161.4l5.8 -1.4l4.2 2.5l-5.8 1.4z" color="#4162ff"/><path d="M203.5 162.8l5.8 -1.4l4.2 2.4l-5.8 1.4z" color="#4260ff"/><path d="M197.7 164.2l5.8 -1.4l4.2 2.4l-5.8 1.4z" color="#425eff"/><path d="M191.9 165.6l5.8 -1.4l4.2 2.4l-5.8 1.4z" color="#435dff"/><path d="M186.1 166.9l5.8 -1.4l4.2 2.4l-5.8 1.4z" color="#435bff"/><path d="M180.3 168.3l5.8 -1.4l4.2 2.4l-5.8 1.4z" color="#445aff"/><path d="M174.5 169.7l5.8 -1.4l4.2 2.4l-5.8 1.3z" color="#4458ff"/><path d="M168.7 171l5.8 -1.4l4.2 2.4l-5.8 1.3z" color="#4457ff"/><path d="M162.9 172.4l5.8 -1.3l4.2 2.4l-5.8 1.3z" color="#4455ff"/><path d="M434.2 111.1l5.8 -1.3l4.2 2.4l-5.8 1.3z" color="#1c9df1"/><path d="M428.4 112.4l5.8 -1.3l4.2 2.4l-5.8 1.3z" color="#1c9cf2"/><path d="M422.6 113.7l5.8 -1.3l4.2 2.4l-5.8 1.3z" color="#1d9bf3"/><path d="M416.8 115l5.8 -1.3l4.2 2.4l-5.8 1.3z" color="#1d99f4"/><path d="M410.9 116.3l5.8 -1.3l4.2 2.5l-5.8 1.3z" color="#1e98f5"/><path d="M405.1 117.7l5.8 -1.3l4.2 2.5l-5.8 1.3z" color="#1f97f6"/><path d="M399.3 119l5.8 -1.3l4.2 2.5l-5.8 1.3z" color="#2096f7"/><path d="M393.5 120.3l5.8 -1.3l4.2 2.5l-5.8 1.3z" color="#2194f9"/><path d="M387.7 121.7l5.8 -1.4l4.2 2.5l-5.8 1.4z" color="#2293fa"/><path d="M381.9 123.1l5.8 -1.4l4.2 2.5l-5.8 1.4z" color="#2391fb"/><path d="M376.1 124.4l5.8 -1.4l4.2 2.5l-5.8 1.4z" color="#2390fd"/><path d="M370.3 125.8l5.8 -1.4l4.2 2.5l-5.8 1.4z" color="#248efe"/><path d="M364.5 127.2l5.8 -1.4l4.2 2.5l-5.8 1.4z" color="#248dff"/><path d="M358.7 128.6l5.8 -1.4l4.2 2.5l-5.8 1.4z" color="#258bff"/><path d="M352.9 130l5.8 -1.4l4.2 2.5l-5.8 1.4z" color="#258aff"/><path d="M347.1 131.3l5.8 -1.4l4.2 2.5l-5.8 1.4z" color="#2588ff"/><path d="M341.3 132.8l5.8 -1.4l4.2 2.5l-5.8 1.4z" color="#2686ff"/><path d="M335.5 134.2l5.8 -1.4l4.2 2.5l-5.8 1.4z" color="#2684ff"/><path d="M329.7 135.6l5.8 -1.4l4.2 2.5l-5.8 1.4z" color="#2783ff"/><path d="M323.9 137l5.8 -1.4l4.2 2.5l-5.8 1.4z" color="#2881ff"/><path d="M318 138.4l5.8 -1.4l4.2 2.5l-5.8 1.4z" color="#297fff"/><path d="M312.2 139.8l5.8 -1.4l4.2 2.5l-5.8 1.4z" color="#2a7dff"/><path d="M306.4 141.2l5.8 -1.4l4.2 2.5l-5.8 1.4z" color="#2c7bff"/><path d="M300.6 142.6l5.8 -1.4l4.2 2.5l-5.8 1.4z" color="#2e79ff"/><path d="M294.8 144.1l5.8 -1.4l4.2 2.5l-5.8 1.4z" color="#3077ff"/><path d="M289 145.5l5.8 -1.4l4.2 2.5l-5.8 1.4z" color="#3375ff"/><path d="M283.2 146.9l5.8 -1.4l4.2 2.5l-5.8 1.4z" color="#3573ff"/><path d="M277.4 148.3l5.8 -1.4l4.2 2.5l-5.8 1.4z" color="#3771ff"/><path d="M271.6 149.8l5.8 -1.4l4.2 2.5l-5.8 1.4z" color="#396eff"/><path d="M265.8 151.2l5.8 -1.4l4.2 2.5l-5.8 1.4z" color="#3b6cff"/><path d="M260 152.6l5.8 -1.4l4.2 2.5l-5.8 1.4z" color="#3c6bff"/><path d="M254.2 154l5.8 -1.4l4.2 2.5l-5.8 1.4z" color="#3e69ff"/><path d="M248.4 155.4l5.8 -1.4l4.2 2.5l-5.8 1.4z" color="#3f67ff"/><path d="M242.6 156.8l5.8 -1.4l4.2 2.5l-5.8 1.4z" color="#3f65ff"/><path d="M236.8 158.2l5.8 -1.4l4.2 2.5l-5.8 1.4z" color="#4063ff"/><path d="M231 159.7l5.8 -1.4l4.2 2.4l-5.8 1.4z" color="#4161ff"/><path d="M225.1 161l5.8 -1.4l4.2 2.4l-5.8 1.4z" color="#425fff"/><path d="M219.3 162.4l5.8 -1.4l4.2 2.4l-5.8 1.4z" color="#425eff"/><path d="M213.5 163.8l5.8 -1.4l4.2 2.4l-5.8 1.4z" color="#435cff"/><path d="M207.7 165.2l5.8 -1.4l4.2 2.4l-5.8 1.4z" color="#435aff"/><path d="M201.9 166.6l5.8 -1.4l4.2 2.4l-5.8 1.4z" color="#4459ff"/><path d="M196.1 168l5.8 -1.4l4.2 2.4l-5.8 1.4z" color="#4457ff"/><path d="M190.3 169.3l5.8 -1.4l4.2 2.4l-5.8 1.3z" color="#4456ff"/><path d="M184.5 170.7l5.8 -1.4l4.2 2.4l-5.8 1.3z" color="#4554ff"/><path d="M178.7 172l5.8 -1.3l4.2 2.3l-5.8 1.3z" color="#4553ff"/><path d="M172.9 173.4l5.8 -1.3l4.2 2.3l-5.8 1.3z" color="#4552ff"/><path d="M167.1 174.7l5.8 -1.3l4.2 2.3l-5.8 1.3z" color="#4550ff"/><path d="M438.4 113.6l5.8 -1.3l4.2 2.4l-5.8 1.3z" color="#1e98f5"/><path d="M432.5 114.9l5.8 -1.3l4.2 2.4l-5.8 1.3z" color="#1f97f6"/><path d="M426.7 116.2l5.8 -1.3l4.2 2.4l-5.8 1.3z" color="#2096f7"/><path d="M420.9 117.5l5.8 -1.3l4.2 2.4l-5.8 1.3z" color="#2194f9"/><path d="M415.1 118.8l5.8 -1.3l4.2 2.4l-5.8 1.3z" color="#2293fa"/><path d="M409.3 120.1l5.8 -1.3l4.2 2.4l-5.8 1.3z" color="#2392fb"/><path d="M403.5 121.5l5.8 -1.3l4.2 2.4l-5.8 1.3z" color="#2390fc"/><path d="M397.7 122.8l5.8 -1.3l4.2 2.4l-5.8 1.4z" color="#248ffe"/><path d="M391.9 124.2l5.8 -1.4l4.2 2.5l-5.8 1.4z" color="#248dff"/><path d="M386.1 125.5l5.8 -1.4l4.2 2.5l-5.8 1.4z" color="#258cff"/><path d="M380.3 126.9l5.8 -1.4l4.2 2.5l-5.8 1.4z" color="#258aff"/><path d="M374.5 128.3l5.8 -1.4l4.2 2.5l-5.8 1.4z" color="#2589ff"/><path d="M368.7 129.7l5.8 -1.4l4.2 2.5l-5.8 1.4z" color="#2587ff"/><path d="M362.9 131.1l5.8 -1.4l4.2 2.5l-5.8 1.4z" color="#2686ff"/><path d="M357.1 132.5l5.8 -1.4l4.2 2.5l-5.8 1.4z" color="#2684ff"/><path d="M351.3 133.9l5.8 -1.4l4.2 2.5l-5.8 1.4z" color="#2782ff"/><path d="M345.5 135.3l5.8 -1.4l4.2 2.5l-5.8 1.4z" color="#2880ff"/><path d="M339.6 136.7l5.8 -1.4l4.2 2.5l-5.8 1.4z" color="#297eff"/><path d="M333.8 138.1l5.8 -1.4l4.2 2.5l-5.8 1.4z" color="#2a7dff"/><path d="M328 139.5l5.8 -1.4l4.2 2.5l-5.8 1.4z" color="#2d7aff"/><path d="M322.2 140.9l5.8 -1.4l4.2 2.5l-5.8 1.4z" color="#2f78ff"/><path d="M316.4 142.3l5.8 -1.4l4.2 2.5l-5.8 1.4z" color="#3176ff"/><path d="M310.6 143.7l5.8 -1.4l4.2 2.5l-5.8 1.4z" color="#3374ff"/><path d="M304.8 145.2l5.8 -1.4l4.2 2.5l-5.8 1.4z" color="#3572ff"/><path d="M299 146.6l5.8 -1.4l4.2 2.5l-5.8 1.4z" color="#3870ff"/><path d="M293.2 148l5.8 -1.4l4.2 2.5l-5.8 1.4z" color="#396eff"/><path d="M287.4 149.4l5.8 -1.4l4.2 2.5l-5.8 1.4z" color="#3b6cff"/><path d="M281.6 150.8l5.8 -1.4l4.2 2.5l-5.8 1.4z" color="#3c6aff"/><path d="M275.8 152.3l5.8 -1.4l4.2 2.5l-5.8 1.4z" color="#3e68ff"/><path d="M270 153.7l5.8 -1.4l4.2 2.5l-5.8 1.4z" color="#3f66ff"/><path d="M264.2 155.1l5.8 -1.4l4.2 2.5l-5.8 1.4z" color="#4064ff"/><path d="M258.4 156.5l5.8 -1.4l4.2 2.4l-5.8 1.4z" color="#4163ff"/><path d="M252.5 157.9l5.8 -1.4l4.2 2.4l-5.8 1.4z" color="#4161ff"/><path d="M246.7 159.3l5.8 -1.4l4.2 2.4l-5.8 1.4z" color="#425fff"/><path d="M240.9 160.7l5.8 -1.4l4.2 2.4l-5.8 1.4z" color="#435dff"/><path d="M235.1 162.1l5.8 -1.4l4.2 2.4l-5.8 1.4z" color="#435cff"/><path d="M229.3 163.5l5.8 -1.4l4.2 2.4l-5.8 1.4z" color="#435aff"/><path d="M223.5 164.9l5.8 -1.4l4.2 2.4l-5.8 1.4z" color="#4458ff"/><path d="M217.7 166.2l5.8 -1.4l4.2 2.4l-5.8 1.4z" color="#4457ff"/><path d="M211.9 167.6l5.8 -1.4l4.2 2.4l-5.8 1.4z" color="#4455ff"/><path d="M206.1 169l5.8 -1.4l4.2 2.4l-5.8 1.4z" color="#4554ff"/><path d="M200.3 170.3l5.8 -1.4l4.2 2.3l-5.8 1.3z" color="#4552ff"/><path d="M194.5 171.7l5.8 -1.3l4.2 2.3l-5.8 1.3z" color="#4551ff"/><path d="M188.7 173l5.8 -1.3l4.2 2.3l-5.8 1.3z" color="#454fff"/><path d="M182.9 174.4l5.8 -1.3l4.2 2.3l-5.8 1.3z" color="#454eff"/><path d="M177.1 175.7l5.8 -1.3l4.2 2.3l-5.8 1.3z" color="#464dff"/><path d="M171.3 177l5.8 -1.3l4.2 2.3l-5.8 1.3z" color="#464bff"/><path d="M442.5 116l5.8 -1.3l4.2 2.4l-5.8 1.3z" color="#2293fa"/><path d="M436.7 117.3l5.8 -1.3l4.2 2.4l-5.8 1.3z" color="#2392fb"/><path d="M430.9 118.6l5.8 -1.3l4.2 2.4l-5.8 1.3z" color="#2391fc"/><path d="M425.1 119.9l5.8 -1.3l4.2 2.4l-5.8 1.3z" color="#248ffd"/><path d="M419.3 121.2l5.8 -1.3l4.2 2.4l-5.8 1.3z" color="#248efe"/><path d="M413.5 122.6l5.8 -1.3l4.2 2.4l-5.8 1.3z" color="#248dff"/><path d="M407.7 123.9l5.8 -1.3l4.2 2.4l-5.8 1.4z" color="#258bff"/><path d="M401.9 125.3l5.8 -1.4l4.2 2.4l-5.8 1.4z" color="#258aff"/><path d="M396.1 126.6l5.8 -1.4l4.2 2.4l-5.8 1.4z" color="#2588ff"/><path d="M390.3 128l5.8 -1.4l4.2 2.4l-5.8 1.4z" color="#2686ff"/><path d="M384.5 129.4l5.8 -1.4l4.2 2.4l-5.8 1.4z" color="#2685ff"/><path d="M378.7 130.8l5.8 -1.4l4.2 2.4l-5.8 1.4z" color="#2683ff"/><path d="M372.9 132.2l5.8 -1.4l4.2 2.4l-5.8 1.4z" color="#2782ff"/><path d="M367.1 133.5l5.8 -1.4l4.2 2.5l-5.8 1.4z" color="#2880ff"/><path d="M361.2 134.9l5.8 -1.4l4.2 2.5l-5.8 1.4z" color="#2a7eff"/><path d="M355.4 136.3l5.8 -1.4l4.2 2.5l-5.8 1.4z" color="#2b7cff"/><path d="M349.6 137.7l5.8 -1.4l4.2 2.5l-5.8 1.4z" color="#2d7aff"/><path d="M343.8 139.2l5.8 -1.4l4.2 2.5l-5.8 1.4z" color="#2f78ff"/><path d="M338 140.6l5.8 -1.4l4.2 2.5l-5.8 1.4z" color="#3176ff"/><path d="M332.2 142l5.8 -1.4l4.2 2.5l-5.8 1.4z" color="#3474ff"/><path d="M326.4 143.4l5.8 -1.4l4.2 2.5l-5.8 1.4z" color="#3672ff"/><path d="M320.6 144.8l5.8 -1.4l4.2 2.5l-5.8 1.4z" color="#3870ff"/><path d="M314.8 146.2l5.8 -1.4l4.2 2.5l-5.8 1.4z" color="#3a6eff"/><path d="M309 147.6l5.8 -1.4l4.2 2.5l-5.8 1.4z" color="#3b6cff"/><path d="M303.2 149.1l5.8 -1.4l4.2 2.5l-5.8 1.4z" color="#3d6aff"/><path d="M297.4 150.5l5.8 -1.4l4.2 2.4l-5.8 1.4z" color="#3e68ff"/><path d="M291.6 151.9l5.8 -1.4l4.2 2.4l-5.8 1.4z" color="#3f66ff"/><path d="M285.8 153.3l5.8 -1.4l4.2 2.4l-5.8 1.4z" color="#4064ff"/><path d="M280 154.7l5.8 -1.4l4.2 2.4l-5.8 1.4z" color="#4162ff"/><path d="M274.1 156.1l5.8 -1.4l4.2 2.4l-5.8 1.4z" color="#4160ff"/><path d="M268.3 157.5l5.8 -1.4l4.2 2.4l-5.8 1.4z" color="#425fff"/><path d="M262.5 158.9l5.8 -1.4l4.2 2.4l-5.8 1.4z" color="#435dff"/><path d="M256.7 160.3l5.8 -1.4l4.2 2.4l-5.8 1.4z" color="#435bff"/><path d="M250.9 161.7l5.8 -1.4l4.2 2.4l-5.8 1.4z" color="#4459ff"/><path d="M245.1 163.1l5.8 -1.4l4.2 2.4l-5.8 1.4z" color="#4458ff"/><path d="M239.3 164.5l5.8 -1.4l4.2 2.4l-5.8 1.4z" color="#4456ff"/><path d="M233.5 165.9l5.8 -1.4l4.2 2.4l-5.8 1.4z" color="#4555ff"/><path d="M227.7 167.2l5.8 -1.4l4.2 2.4l-5.8 1.4z" color="#4553ff"/><path d="M221.9 168.6l5.8 -1.4l4.2 2.3l-5.8 1.4z" color="#4552ff"/><path d="M216.1 170l5.8 -1.4l4.2 2.3l-5.8 1.3z" color="#4550ff"/><path d="M210.3 171.3l5.8 -1.4l4.2 2.3l-5.8 1.3z" color="#454fff"/><path d="M204.5 172.7l5.8 -1.3l4.2 2.3l-5.8 1.3z" color="#454dff"/><path d="M198.7 174l5.8 -1.3l4.2 2.3l-5.8 1.3z" color="#464cff"/><path d="M192.9 175.3l5.8 -1.3l4.2 2.3l-5.8 1.3z" color="#464bff"/><path d="M187.1 176.6l5.8 -1.3l4.2 2.2l-5.8 1.3z" color="#4649ff"/><path d="M181.2 177.9l5.8 -1.3l4.2 2.2l-5.8 1.3z" color="#4648ff"/><path d="M175.4 179.2l5.8 -1.3l4.2 2.2l-5.8 1.3z" color="#4647ff"/><path d="M446.7 118.4l5.8 -1.3l4.2 2.3l-5.8 1.3z" color="#248efe"/><path d="M440.9 119.7l5.8 -1.3l4.2 2.4l-5.8 1.3z" color="#248dff"/><path d="M435.1 121l5.8 -1.3l4.2 2.4l-5.8 1.3z" color="#258cff"/><path d="M429.3 122.3l5.8 -1.3l4.2 2.4l-5.8 1.3z" color="#258aff"/><path d="M423.5 123.6l5.8 -1.3l4.2 2.4l-5.8 1.3z" color="#2589ff"/><path d="M417.7 125l5.8 -1.3l4.2 2.4l-5.8 1.4z" color="#2587ff"/><path d="M411.9 126.3l5.8 -1.4l4.2 2.4l-5.8 1.4z" color="#2686ff"/><path d="M406.1 127.7l5.8 -1.4l4.2 2.4l-5.8 1.4z" color="#2684ff"/><path d="M400.3 129.1l5.8 -1.4l4.2 2.4l-5.8 1.4z" color="#2783ff"/><path d="M394.5 130.5l5.8 -1.4l4.2 2.4l-5.8 1.4z" color="#2881ff"/><path d="M388.6 131.8l5.8 -1.4l4.2 2.4l-5.8 1.4z" color="#297fff"/><path d="M382.8 133.2l5.8 -1.4l4.2 2.4l-5.8 1.4z" color="#2a7dff"/><path d="M377 134.6l5.8 -1.4l4.2 2.4l-5.8 1.4z" color="#2b7cff"/><path d="M371.2 136l5.8 -1.4l4.2 2.4l-5.8 1.4z" color="#2d7aff"/><path d="M365.4 137.4l5.8 -1.4l4.2 2.4l-5.8 1.4z" color="#3078ff"/><path d="M359.6 138.8l5.8 -1.4l4.2 2.4l-5.8 1.4z" color="#3276ff"/><path d="M353.8 140.2l5.8 -1.4l4.2 2.4l-5.8 1.4z" color="#3474ff"/><path d="M348 141.6l5.8 -1.4l4.2 2.4l-5.8 1.4z" color="#3672ff"/><path d="M342.2 143l5.8 -1.4l4.2 2.4l-5.8 1.4z" color="#3870ff"/><path d="M336.4 144.4l5.8 -1.4l4.2 2.4l-5.8 1.4z" color="#3a6eff"/><path d="M330.6 145.9l5.8 -1.4l4.2 2.4l-5.8 1.4z" color="#3b6cff"/><path d="M324.8 147.3l5.8 -1.4l4.2 2.4l-5.8 1.4z" color="#3d6aff"/><path d="M319 148.7l5.8 -1.4l4.2 2.4l-5.8 1.4z" color="#3e68ff"/><path d="M313.2 150.1l5.8 -1.4l4.2 2.4l-5.8 1.4z" color="#3f66ff"/><path d="M307.4 151.5l5.8 -1.4l4.2 2.4l-5.8 1.4z" color="#4064ff"/><path d="M301.6 152.9l5.8 -1.4l4.2 2.4l-5.8 1.4z" color="#4162ff"/><path d="M295.7 154.3l5.8 -1.4l4.2 2.4l-5.8 1.4z" color="#4160ff"/><path d="M289.9 155.7l5.8 -1.4l4.2 2.4l-5.8 1.4z" color="#425eff"/><path d="M284.1 157.1l5.8 -1.4l4.2 2.4l-5.8 1.4z" color="#435dff"/><path d="M278.3 158.5l5.8 -1.4l4.2 2.4l-5.8 1.4z" color="#435bff"/><path d="M272.5 159.9l5.8 -1.4l4.2 2.4l-5.8 1.4z" color="#4459ff"/><path d="M266.7 161.3l5.8 -1.4l4.2 2.4l-5.8 1.4z" color="#4457ff"/><path d="M260.9 162.7l5.8 -1.4l4.2 2.4l-5.8 1.4z" color="#4456ff"/><path d="M255.1 164.1l5.8 -1.4l4.2 2.4l-5.8 1.4z" color="#4554ff"/><path d="M249.3 165.5l5.8 -1.4l4.2 2.3l-5.8 1.4z" color="#4553ff"/><path d="M243.5 166.9l5.8 -1.4l4.2 2.3l-5.8 1.4z" color="#4551ff"/><path d="M237.7 168.2l5.8 -1.4l4.2 2.3l-5.8 1.4z" color="#4550ff"/><path d="M231.9 169.6l5.8 -1.4l4.2 2.3l-5.8 1.3z" color="#454eff"/><path d="M226.1 170.9l5.8 -1.4l4.2 2.3l-5.8 1.3z" color="#464dff"/><path d="M220.3 172.3l5.8 -1.3l4.2 2.3l-5.8 1.3z" color="#464bff"/><path d="M214.5 173.6l5.8 -1.3l4.2 2.3l-5.8 1.3z" color="#464aff"/><path d="M208.7 174.9l5.8 -1.3l4.2 2.2l-5.8 1.3z" color="#4648ff"/><path d="M202.8 176.3l5.8 -1.3l4.2 2.2l-5.8 1.3z" color="#4647ff"/><path d="M197 177.6l5.8 -1.3l4.2 2.2l-5.8 1.3z" color="#4646ff"/><path d="M191.2 178.9l5.8 -1.3l4.2 2.2l-5.8 1.3z" color="#4645ff"/><path d="M185.4 180.1l5.8 -1.3l4.2 2.2l-5.8 1.3z" color="#4644fe"/><path d="M179.6 181.4l5.8 -1.3l4.2 2.2l-5.8 1.3z" color="#4643fd"/><path d="M450.9 120.7l5.8 -1.3l4.2 2.3l-5.8 1.3z" color="#2589ff"/><path d="M445.1 122l5.8 -1.3l4.2 2.3l-5.8 1.3z" color="#2588ff"/><path d="M439.3 123.4l5.8 -1.3l4.2 2.3l-5.8 1.3z" color="#2687ff"/><path d="M433.5 124.7l5.8 -1.3l4.2 2.3l-5.8 1.3z" color="#2685ff"/><path d="M427.7 126l5.8 -1.3l4.2 2.3l-5.8 1.4z" color="#2684ff"/><path d="M421.9 127.4l5.8 -1.4l4.2 2.4l-5.8 1.4z" color="#2782ff"/><path d="M416.1 128.7l5.8 -1.4l4.2 2.4l-5.8 1.4z" color="#2880ff"/><path d="M410.2 130.1l5.8 -1.4l4.2 2.4l-5.8 1.4z" color="#297fff"/><path d="M404.4 131.5l5.8 -1.4l4.2 2.4l-5.8 1.4z" color="#2a7dff"/><path d="M398.6 132.9l5.8 -1.4l4.2 2.4l-5.8 1.4z" color="#2c7bff"/><path d="M392.8 134.2l5.8 -1.4l4.2 2.4l-5.8 1.4z" color="#2e79ff"/><path d="M387 135.6l5.8 -1.4l4.2 2.4l-5.8 1.4z" color="#3077ff"/><path d="M381.2 137l5.8 -1.4l4.2 2.4l-5.8 1.4z" color="#3275ff"/><path d="M375.4 138.4l5.8 -1.4l4.2 2.4l-5.8 1.4z" color="#3473ff"/><path d="M369.6 139.8l5.8 -1.4l4.2 2.4l-5.8 1.4z" color="#3671ff"/><path d="M363.8 141.2l5.8 -1.4l4.2 2.4l-5.8 1.4z" color="#386fff"/><path d="M358 142.6l5.8 -1.4l4.2 2.4l-5.8 1.4z" color="#3a6dff"/><path d="M352.2 144l5.8 -1.4l4.2 2.4l-5.8 1.4z" color="#3b6bff"/><path d="M346.4 145.5l5.8 -1.4l4.2 2.4l-5.8 1.4z" color="#3d6aff"/><path d="M340.6 146.9l5.8 -1.4l4.2 2.4l-5.8 1.4z" color="#3e68ff"/><path d="M334.8 148.3l5.8 -1.4l4.2 2.4l-5.8 1.4z" color="#3f66ff"/><path d="M329 149.7l5.8 -1.4l4.2 2.4l-5.8 1.4z" color="#4064ff"/><path d="M323.2 151.1l5.8 -1.4l4.2 2.4l-5.8 1.4z" color="#4162ff"/><path d="M317.3 152.5l5.8 -1.4l4.2 2.4l-5.8 1.4z" color="#4260ff"/><path d="M311.5 153.9l5.8 -1.4l4.2 2.4l-5.8 1.4z" color="#425eff"/><path d="M305.7 155.3l5.8 -1.4l4.2 2.4l-5.8 1.4z" color="#435cff"/><path d="M299.9 156.7l5.8 -1.4l4.2 2.4l-5.8 1.4z" color="#435bff"/><path d="M294.1 158.1l5.8 -1.4l4.2 2.4l-5.8 1.4z" color="#4459ff"/><path d="M288.3 159.5l5.8 -1.4l4.2 2.4l-5.8 1.4z" color="#4457ff"/><path d="M282.5 160.9l5.8 -1.4l4.2 2.4l-5.8 1.4z" color="#4456ff"/><path d="M276.7 162.3l5.8 -1.4l4.2 2.3l-5.8 1.4z" color="#4554ff"/><path d="M270.9 163.7l5.8 -1.4l4.2 2.3l-5.8 1.4z" color="#4552ff"/><path d="M265.1 165.1l5.8 -1.4l4.2 2.3l-5.8 1.4z" color="#4551ff"/><path d="M259.3 166.4l5.8 -1.4l4.2 2.3l-5.8 1.4z" color="#454fff"/><path d="M253.5 167.8l5.8 -1.4l4.2 2.3l-5.8 1.4z" color="#454eff"/><path d="M247.7 169.2l5.8 -1.4l4.2 2.3l-5.8 1.3z" color="#464cff"/><path d="M241.9 170.5l5.8 -1.4l4.2 2.3l-5.8 1.3z" color="#464bff"/><path d="M236.1 171.9l5.8 -1.3l4.2 2.3l-5.8 1.3z" color="#4649ff"/><path d="M230.3 173.2l5.8 -1.3l4.2 2.3l-5.8 1.3z" color="#4648ff"/><path d="M224.4 174.5l5.8 -1.3l4.2 2.2l-5.8 1.3z" color="#4646ff"/><path d="M218.6 175.9l5.8 -1.3l4.2 2.2l-5.8 1.3z" color="#4645ff"/><path d="M212.8 177.2l5.8 -1.3l4.2 2.2l-5.8 1.3z" color="#4644fe"/><path d="M207 178.5l5.8 -1.3l4.2 2.2l-5.8 1.3z" color="#4643fd"/><path d="M201.2 179.8l5.8 -1.3l4.2 2.2l-5.8 1.3z" color="#4642fc"/><path d="M195.4 181l5.8 -1.3l4.2 2.1l-5.8 1.3z" color="#4641fb"/><path d="M189.6 182.3l5.8 -1.3l4.2 2.1l-5.8 1.2z" color="#4640fa"/><path d="M183.8 183.5l5.8 -1.3l4.2 2.1l-5.8 1.2z" color="#463ff9"/><path d="M455.1 123l5.8 -1.3l4.2 2.3l-5.8 1.3z" color="#2684ff"/><path d="M449.3 124.4l5.8 -1.3l4.2 2.3l-5.8 1.3z" color="#2783ff"/><path d="M443.5 125.7l5.8 -1.3l4.2 2.3l-5.8 1.3z" color="#2782ff"/><path d="M437.7 127l5.8 -1.3l4.2 2.3l-5.8 1.4z" color="#2880ff"/><path d="M431.8 128.4l5.8 -1.4l4.2 2.3l-5.8 1.4z" color="#297eff"/><path d="M426 129.7l5.8 -1.4l4.2 2.3l-5.8 1.4z" color="#2a7dff"/><path d="M420.2 131.1l5.8 -1.4l4.2 2.3l-5.8 1.4z" color="#2c7bff"/><path d="M414.4 132.5l5.8 -1.4l4.2 2.3l-5.8 1.4z" color="#2e79ff"/><path d="M408.6 133.9l5.8 -1.4l4.2 2.3l-5.8 1.4z" color="#3077ff"/><path d="M402.8 135.2l5.8 -1.4l4.2 2.4l-5.8 1.4z" color="#3275ff"/><path d="M397 136.6l5.8 -1.4l4.2 2.4l-5.8 1.4z" color="#3473ff"/><path d="M391.2 138l5.8 -1.4l4.2 2.4l-5.8 1.4z" color="#3671ff"/><path d="M385.4 139.4l5.8 -1.4l4.2 2.4l-5.8 1.4z" color="#386fff"/><path d="M379.6 140.8l5.8 -1.4l4.2 2.4l-5.8 1.4z" color="#3a6dff"/><path d="M373.8 142.2l5.8 -1.4l4.2 2.4l-5.8 1.4z" color="#3b6bff"/><path d="M368 143.6l5.8 -1.4l4.2 2.4l-5.8 1.4z" color="#3d69ff"/><path d="M362.2 145l5.8 -1.4l4.2 2.4l-5.8 1.4z" color="#3e68ff"/><path d="M356.4 146.5l5.8 -1.4l4.2 2.4l-5.8 1.4z" color="#3f66ff"/><path d="M350.6 147.9l5.8 -1.4l4.2 2.4l-5.8 1.4z" color="#4064ff"/><path d="M344.8 149.3l5.8 -1.4l4.2 2.4l-5.8 1.4z" color="#4162ff"/><path d="M338.9 150.7l5.8 -1.4l4.2 2.4l-5.8 1.4z" color="#4260ff"/><path d="M333.1 152.1l5.8 -1.4l4.2 2.4l-5.8 1.4z" color="#425eff"/><path d="M327.3 153.5l5.8 -1.4l4.2 2.4l-5.8 1.4z" color="#435cff"/><path d="M321.5 154.9l5.8 -1.4l4.2 2.4l-5.8 1.4z" color="#435bff"/><path d="M315.7 156.3l5.8 -1.4l4.2 2.4l-5.8 1.4z" color="#4459ff"/><path d="M309.9 157.7l5.8 -1.4l4.2 2.4l-5.8 1.4z" color="#4457ff"/><path d="M304.1 159.1l5.8 -1.4l4.2 2.3l-5.8 1.4z" color="#4455ff"/><path d="M298.3 160.5l5.8 -1.4l4.2 2.3l-5.8 1.4z" color="#4554ff"/><path d="M292.5 161.9l5.8 -1.4l4.2 2.3l-5.8 1.4z" color="#4552ff"/><path d="M286.7 163.3l5.8 -1.4l4.2 2.3l-5.8 1.4z" color="#4550ff"/><path d="M280.9 164.7l5.8 -1.4l4.2 2.3l-5.8 1.4z" color="#454fff"/><path d="M275.1 166l5.8 -1.4l4.2 2.3l-5.8 1.4z" color="#454dff"/><path d="M269.3 167.4l5.8 -1.4l4.2 2.3l-5.8 1.4z" color="#464cff"/><path d="M263.5 168.8l5.8 -1.4l4.2 2.3l-5.8 1.3z" color="#464aff"/><path d="M257.7 170.1l5.8 -1.4l4.2 2.3l-5.8 1.3z" color="#4649ff"/><path d="M251.9 171.5l5.8 -1.3l4.2 2.3l-5.8 1.3z" color="#4647ff"/><path d="M246 172.8l5.8 -1.3l4.2 2.2l-5.8 1.3z" color="#4646ff"/><path d="M240.2 174.1l5.8 -1.3l4.2 2.2l-5.8 1.3z" color="#4645ff"/><path d="M234.4 175.4l5.8 -1.3l4.2 2.2l-5.8 1.3z" color="#4643fd"/><path d="M228.6 176.8l5.8 -1.3l4.2 2.2l-5.8 1.3z" color="#4642fc"/><path d="M222.8 178.1l5.8 -1.3l4.2 2.2l-5.8 1.3z" color="#4641fb"/><path d="M217 179.4l5.8 -1.3l4.2 2.2l-5.8 1.3z" color="#4640fa"/><path d="M211.2 180.6l5.8 -1.3l4.2 2.1l-5.8 1.3z" color="#463ff9"/><path d="M205.4 181.9l5.8 -1.3l4.2 2.1l-5.8 1.2z" color="#463ef7"/><path d="M199.6 183.2l5.8 -1.3l4.2 2.1l-5.8 1.2z" color="#463df6"/><path d="M193.8 184.4l5.8 -1.2l4.2 2.1l-5.8 1.2z" color="#463cf5"/><path d="M188 185.6l5.8 -1.2l4.2 2.1l-5.8 1.2z" color="#463bf4"/><path d="M459.3 125.3l5.8 -1.3l4.2 2.3l-5.8 1.3z" color="#2980ff"/><path d="M453.4 126.7l5.8 -1.3l4.2 2.3l-5.8 1.3z" color="#297eff"/><path d="M447.6 128l5.8 -1.3l4.2 2.3l-5.8 1.4z" color="#2b7cff"/><path d="M441.8 129.4l5.8 -1.4l4.2 2.3l-5.8 1.4z" color="#2c7bff"/><path d="M436 130.7l5.8 -1.4l4.2 2.3l-5.8 1.4z" color="#2e79ff"/><path d="M430.2 132.1l5.8 -1.4l4.2 2.3l-5.8 1.4z" color="#3077ff"/><path d="M424.4 133.5l5.8 -1.4l4.2 2.3l-5.8 1.4z" color="#3275ff"/><path d="M418.6 134.8l5.8 -1.4l4.2 2.3l-5.8 1.4z" color="#3473ff"/><path d="M412.8 136.2l5.8 -1.4l4.2 2.3l-5.8 1.4z" color="#3671ff"/><path d="M407 137.6l5.8 -1.4l4.2 2.3l-5.8 1.4z" color="#386fff"/><path d="M401.2 139l5.8 -1.4l4.2 2.3l-5.8 1.4z" color="#3a6dff"/><path d="M395.4 140.4l5.8 -1.4l4.2 2.3l-5.8 1.4z" color="#3b6bff"/><path d="M389.6 141.8l5.8 -1.4l4.2 2.3l-5.8 1.4z" color="#3d6aff"/><path d="M383.8 143.2l5.8 -1.4l4.2 2.3l-5.8 1.4z" color="#3e68ff"/><path d="M378 144.6l5.8 -1.4l4.2 2.3l-5.8 1.4z" color="#3f66ff"/><path d="M372.2 146l5.8 -1.4l4.2 2.3l-5.8 1.4z" color="#4064ff"/><path d="M366.4 147.4l5.8 -1.4l4.2 2.3l-5.8 1.4z" color="#4162ff"/><path d="M360.5 148.8l5.8 -1.4l4.2 2.3l-5.8 1.4z" color="#4160ff"/><path d="M354.7 150.2l5.8 -1.4l4.2 2.3l-5.8 1.4z" color="#425eff"/><path d="M348.9 151.6l5.8 -1.4l4.2 2.3l-5.8 1.4z" color="#435dff"/><path d="M343.1 153l5.8 -1.4l4.2 2.3l-5.8 1.4z" color="#435bff"/><path d="M337.3 154.5l5.8 -1.4l4.2 2.3l-5.8 1.4z" color="#4459ff"/><path d="M331.5 155.9l5.8 -1.4l4.2 2.3l-5.8 1.4z" color="#4457ff"/><path d="M325.7 157.3l5.8 -1.4l4.2 2.3l-5.8 1.4z" color="#4456ff"/><path d="M319.9 158.7l5.8 -1.4l4.2 2.3l-5.8 1.4z" color="#4554ff"/><path d="M314.1 160.1l5.8 -1.4l4.2 2.3l-5.8 1.4z" color="#4552ff"/><path d="M308.3 161.4l5.8 -1.4l4.2 2.3l-5.8 1.4z" color="#4550ff"/><path d="M302.5 162.8l5.8 -1.4l4.2 2.3l-5.8 1.4z" color="#454fff"/><path d="M296.7 164.2l5.8 -1.4l4.2 2.3l-5.8 1.4z" color="#454dff"/><path d="M290.9 165.6l5.8 -1.4l4.2 2.3l-5.8 1.4z" color="#464cff"/><path d="M285.1 167l5.8 -1.4l4.2 2.3l-5.8 1.4z" color="#464aff"/><path d="M279.3 168.3l5.8 -1.4l4.2 2.3l-5.8 1.4z" color="#4648ff"/><path d="M273.4 169.7l5.8 -1.4l4.2 2.3l-5.8 1.3z" color="#4647ff"/><path d="M267.6 171l5.8 -1.3l4.2 2.2l-5.8 1.3z" color="#4645ff"/><path d="M261.8 172.4l5.8 -1.3l4.2 2.2l-5.8 1.3z" color="#4644fe"/><path d="M256 173.7l5.8 -1.3l4.2 2.2l-5.8 1.3z" color="#4643fd"/><path d="M250.2 175l5.8 -1.3l4.2 2.2l-5.8 1.3z" color="#4641fc"/><path d="M244.4 176.3l5.8 -1.3l4.2 2.2l-5.8 1.3z" color="#4640fa"/><path d="M238.6 177.6l5.8 -1.3l4.2 2.2l-5.8 1.3z" color="#463ff9"/><path d="M232.8 178.9l5.8 -1.3l4.2 2.2l-5.8 1.3z" color="#463ef8"/><path d="M227 180.2l5.8 -1.3l4.2 2.1l-5.8 1.3z" color="#463df6"/><path d="M221.2 181.5l5.8 -1.3l4.2 2.1l-5.8 1.3z" color="#463cf5"/><path d="M215.4 182.7l5.8 -1.3l4.2 2.1l-5.8 1.2z" color="#463bf4"/><path d="M209.6 184l5.8 -1.2l4.2 2.1l-5.8 1.2z" color="#463af3"/><path d="M203.8 185.2l5.8 -1.2l4.2 2l-5.8 1.2z" color="#4639f1"/><path d="M198 186.4l5.8 -1.2l4.2 2l-5.8 1.2z" color="#4538f0"/><path d="M192.2 187.7l5.8 -1.2l4.2 2l-5.8 1.2z" color="#4538ef"/><path d="M463.4 127.6l5.8 -1.3l4.2 2.2l-5.8 1.3z" color="#2d7aff"/><path d="M457.6 128.9l5.8 -1.3l4.2 2.2l-5.8 1.4z" color="#2e79ff"/><path d="M451.8 130.3l5.8 -1.4l4.2 2.2l-5.8 1.4z" color="#3077ff"/><path d="M446 131.7l5.8 -1.4l4.2 2.3l-5.8 1.4z" color="#3275ff"/><path d="M440.2 133l5.8 -1.4l4.2 2.3l-5.8 1.4z" color="#3473ff"/><path d="M434.4 134.4l5.8 -1.4l4.2 2.3l-5.8 1.4z" color="#3671ff"/><path d="M428.6 135.8l5.8 -1.4l4.2 2.3l-5.8 1.4z" color="#386fff"/><path d="M422.8 137.2l5.8 -1.4l4.2 2.3l-5.8 1.4z" color="#3a6eff"/><path d="M417 138.5l5.8 -1.4l4.2 2.3l-5.8 1.4z" color="#3b6cff"/><path d="M411.2 139.9l5.8 -1.4l4.2 2.3l-5.8 1.4z" color="#3d6aff"/><path d="M405.4 141.3l5.8 -1.4l4.2 2.3l-5.8 1.4z" color="#3e68ff"/><path d="M399.6 142.7l5.8 -1.4l4.2 2.3l-5.8 1.4z" color="#3f66ff"/><path d="M393.8 144.1l5.8 -1.4l4.2 2.3l-5.8 1.4z" color="#4064ff"/><path d="M388 145.5l5.8 -1.4l4.2 2.3l-5.8 1.4z" color="#4162ff"/><path d="M382.1 146.9l5.8 -1.4l4.2 2.3l-5.8 1.4z" color="#4160ff"/><path d="M376.3 148.4l5.8 -1.4l4.2 2.3l-5.8 1.4z" color="#425fff"/><path d="M370.5 149.8l5.8 -1.4l4.2 2.3l-5.8 1.4z" color="#435dff"/><path d="M364.7 151.2l5.8 -1.4l4.2 2.3l-5.8 1.4z" color="#435bff"/><path d="M358.9 152.6l5.8 -1.4l4.2 2.3l-5.8 1.4z" color="#4459ff"/><path d="M353.1 154l5.8 -1.4l4.2 2.3l-5.8 1.4z" color="#4457ff"/><path d="M347.3 155.4l5.8 -1.4l4.2 2.3l-5.8 1.4z" color="#4456ff"/><path d="M341.5 156.8l5.8 -1.4l4.2 2.3l-5.8 1.4z" color="#4554ff"/><path d="M335.7 158.2l5.8 -1.4l4.2 2.3l-5.8 1.4z" color="#4552ff"/><path d="M329.9 159.6l5.8 -1.4l4.2 2.3l-5.8 1.4z" color="#4551ff"/><path d="M324.1 161l5.8 -1.4l4.2 2.3l-5.8 1.4z" color="#454fff"/><path d="M318.3 162.4l5.8 -1.4l4.2 2.3l-5.8 1.4z" color="#454dff"/><path d="M312.5 163.7l5.8 -1.4l4.2 2.3l-5.8 1.4z" color="#464bff"/><path d="M306.7 165.1l5.8 -1.4l4.2 2.3l-5.8 1.4z" color="#464aff"/><path d="M300.9 166.5l5.8 -1.4l4.2 2.3l-5.8 1.4z" color="#4648ff"/><path d="M295 167.9l5.8 -1.4l4.2 2.3l-5.8 1.4z" color="#4647ff"/><path d="M289.2 169.2l5.8 -1.4l4.2 2.2l-5.8 1.3z" color="#4645ff"/><path d="M283.4 170.6l5.8 -1.4l4.2 2.2l-5.8 1.3z" color="#4644fe"/><path d="M277.6 171.9l5.8 -1.3l4.2 2.2l-5.8 1.3z" color="#4642fc"/><path d="M271.8 173.3l5.8 -1.3l4.2 2.2l-5.8 1.3z" color="#4641fb"/><path d="M266 174.6l5.8 -1.3l4.2 2.2l-5.8 1.3z" color="#4640fa"/><path d="M260.2 175.9l5.8 -1.3l4.2 2.2l-5.8 1.3z" color="#463ef8"/><path d="M254.4 177.2l5.8 -1.3l4.2 2.2l-5.8 1.3z" color="#463df7"/><path d="M248.6 178.5l5.8 -1.3l4.2 2.1l-5.8 1.3z" color="#463cf5"/><path d="M242.8 179.8l5.8 -1.3l4.2 2.1l-5.8 1.3z" color="#463bf4"/><path d="M237 181.1l5.8 -1.3l4.2 2.1l-5.8 1.3z" color="#463af3"/><path d="M231.2 182.3l5.8 -1.3l4.2 2.1l-5.8 1.2z" color="#4639f1"/><path d="M225.4 183.6l5.8 -1.3l4.2 2.1l-5.8 1.2z" color="#4538f0"/><path d="M219.6 184.8l5.8 -1.2l4.2 2l-5.8 1.2z" color="#4537ee"/><path d="M213.8 186l5.8 -1.2l4.2 2l-5.8 1.2z" color="#4537ed"/><path d="M208 187.3l5.8 -1.2l4.2 2l-5.8 1.2z" color="#4536ec"/><path d="M202.1 188.4l5.8 -1.2l4.2 2l-5.8 1.2z" color="#4536eb"/><path d="M196.3 189.6l5.8 -1.2l4.2 1.9l-5.8 1.2z" color="#4535ea"/><path d="M467.6 129.8l5.8 -1.3l4.2 2.2l-5.8 1.4z" color="#3275ff"/><path d="M461.8 131.2l5.8 -1.4l4.2 2.2l-5.8 1.4z" color="#3473ff"/><path d="M456 132.6l5.8 -1.4l4.2 2.2l-5.8 1.4z" color="#3672ff"/><path d="M450.2 133.9l5.8 -1.4l4.2 2.2l-5.8 1.4z" color="#3870ff"/><path d="M444.4 135.3l5.8 -1.4l4.2 2.2l-5.8 1.4z" color="#3a6eff"/><path d="M438.6 136.7l5.8 -1.4l4.2 2.2l-5.8 1.4z" color="#3b6cff"/><path d="M432.8 138.1l5.8 -1.4l4.2 2.3l-5.8 1.4z" color="#3c6aff"/><path d="M427 139.5l5.8 -1.4l4.2 2.3l-5.8 1.4z" color="#3e68ff"/><path d="M421.2 140.8l5.8 -1.4l4.2 2.3l-5.8 1.4z" color="#3f66ff"/><path d="M415.4 142.2l5.8 -1.4l4.2 2.3l-5.8 1.4z" color="#4065ff"/><path d="M409.5 143.6l5.8 -1.4l4.2 2.3l-5.8 1.4z" color="#4163ff"/><path d="M403.7 145l5.8 -1.4l4.2 2.3l-5.8 1.4z" color="#4161ff"/><path d="M397.9 146.5l5.8 -1.4l4.2 2.3l-5.8 1.4z" color="#425fff"/><path d="M392.1 147.9l5.8 -1.4l4.2 2.3l-5.8 1.4z" color="#435dff"/><path d="M386.3 149.3l5.8 -1.4l4.2 2.3l-5.8 1.4z" color="#435bff"/><path d="M380.5 150.7l5.8 -1.4l4.2 2.3l-5.8 1.4z" color="#435aff"/><path d="M374.7 152.1l5.8 -1.4l4.2 2.3l-5.8 1.4z" color="#4458ff"/><path d="M368.9 153.5l5.8 -1.4l4.2 2.3l-5.8 1.4z" color="#4456ff"/><path d="M363.1 154.9l5.8 -1.4l4.2 2.3l-5.8 1.4z" color="#4554ff"/><path d="M357.3 156.3l5.8 -1.4l4.2 2.3l-5.8 1.4z" color="#4553ff"/><path d="M351.5 157.7l5.8 -1.4l4.2 2.3l-5.8 1.4z" color="#4551ff"/><path d="M345.7 159.1l5.8 -1.4l4.2 2.3l-5.8 1.4z" color="#454fff"/><path d="M339.9 160.5l5.8 -1.4l4.2 2.3l-5.8 1.4z" color="#454dff"/><path d="M334.1 161.9l5.8 -1.4l4.2 2.3l-5.8 1.4z" color="#464cff"/><path d="M328.3 163.3l5.8 -1.4l4.2 2.3l-5.8 1.4z" color="#464aff"/><path d="M322.5 164.6l5.8 -1.4l4.2 2.3l-5.8 1.4z" color="#4648ff"/><path d="M316.6 166l5.8 -1.4l4.2 2.2l-5.8 1.4z" color="#4647ff"/><path d="M310.8 167.4l5.8 -1.4l4.2 2.2l-5.8 1.4z" color="#4645ff"/><path d="M305 168.8l5.8 -1.4l4.2 2.2l-5.8 1.4z" color="#4644fe"/><path d="M299.2 170.1l5.8 -1.4l4.2 2.2l-5.8 1.3z" color="#4642fc"/><path d="M293.4 171.5l5.8 -1.3l4.2 2.2l-5.8 1.3z" color="#4641fb"/><path d="M287.6 172.8l5.8 -1.3l4.2 2.2l-5.8 1.3z" color="#463ff9"/><path d="M281.8 174.1l5.8 -1.3l4.2 2.2l-5.8 1.3z" color="#463ef8"/><path d="M276 175.4l5.8 -1.3l4.2 2.2l-5.8 1.3z" color="#463df6"/><path d="M270.2 176.8l5.8 -1.3l4.2 2.1l-5.8 1.3z" color="#463bf5"/><path d="M264.4 178.1l5.8 -1.3l4.2 2.1l-5.8 1.3z" color="#463af3"/><path d="M258.6 179.4l5.8 -1.3l4.2 2.1l-5.8 1.3z" color="#4639f2"/><path d="M252.8 180.6l5.8 -1.3l4.2 2.1l-5.8 1.3z" color="#4538f0"/><path d="M247 181.9l5.8 -1.3l4.2 2.1l-5.8 1.2z" color="#4537ee"/><path d="M241.2 183.2l5.8 -1.3l4.2 2.1l-5.8 1.2z" color="#4537ed"/><path d="M235.4 184.4l5.8 -1.2l4.2 2l-5.8 1.2z" color="#4536eb"/><path d="M229.6 185.6l5.8 -1.2l4.2 2l-5.8 1.2z" color="#4535ea"/><path d="M223.7 186.8l5.8 -1.2l4.2 2l-5.8 1.2z" color="#4534e9"/><path d="M217.9 188l5.8 -1.2l4.2 2l-5.8 1.2z" color="#4534e8"/><path d="M212.1 189.2l5.8 -1.2l4.2 1.9l-5.8 1.2z" color="#4534e7"/><path d="M206.3 190.4l5.8 -1.2l4.2 1.9l-5.8 1.1z" color="#4533e6"/><path d="M200.5 191.5l5.8 -1.2l4.2 1.9l-5.8 1.1z" color="#4433e5"/><path d="M471.8 132l5.8 -1.4l4.2 2.2l-5.8 1.4z" color="#3770ff"/><path d="M466 133.4l5.8 -1.4l4.2 2.2l-5.8 1.4z" color="#396eff"/><path d="M460.2 134.8l5.8 -1.4l4.2 2.2l-5.8 1.4z" color="#3b6dff"/><path d="M454.4 136.2l5.8 -1.4l4.2 2.2l-5.8 1.4z" color="#3c6bff"/><path d="M448.6 137.5l5.8 -1.4l4.2 2.2l-5.8 1.4z" color="#3d69ff"/><path d="M442.8 138.9l5.8 -1.4l4.2 2.2l-5.8 1.4z" color="#3e67ff"/><path d="M437 140.3l5.8 -1.4l4.2 2.2l-5.8 1.4z" color="#3f65ff"/><path d="M431.1 141.7l5.8 -1.4l4.2 2.2l-5.8 1.4z" color="#4063ff"/><path d="M425.3 143.1l5.8 -1.4l4.2 2.2l-5.8 1.4z" color="#4161ff"/><path d="M419.5 144.5l5.8 -1.4l4.2 2.2l-5.8 1.4z" color="#4260ff"/><path d="M413.7 145.9l5.8 -1.4l4.2 2.2l-5.8 1.4z" color="#425eff"/><path d="M407.9 147.3l5.8 -1.4l4.2 2.2l-5.8 1.4z" color="#435cff"/><path d="M402.1 148.7l5.8 -1.4l4.2 2.3l-5.8 1.4z" color="#435aff"/><path d="M396.3 150.1l5.8 -1.4l4.2 2.3l-5.8 1.4z" color="#4458ff"/><path d="M390.5 151.6l5.8 -1.4l4.2 2.3l-5.8 1.4z" color="#4457ff"/><path d="M384.7 153l5.8 -1.4l4.2 2.3l-5.8 1.4z" color="#4455ff"/><path d="M378.9 154.4l5.8 -1.4l4.2 2.3l-5.8 1.4z" color="#4553ff"/><path d="M373.1 155.8l5.8 -1.4l4.2 2.3l-5.8 1.4z" color="#4551ff"/><path d="M367.3 157.2l5.8 -1.4l4.2 2.3l-5.8 1.4z" color="#454fff"/><path d="M361.5 158.6l5.8 -1.4l4.2 2.3l-5.8 1.4z" color="#454eff"/><path d="M355.7 160l5.8 -1.4l4.2 2.2l-5.8 1.4z" color="#464cff"/><path d="M349.9 161.4l5.8 -1.4l4.2 2.2l-5.8 1.4z" color="#464aff"/><path d="M344.1 162.8l5.8 -1.4l4.2 2.2l-5.8 1.4z" color="#4649ff"/><path d="M338.2 164.1l5.8 -1.4l4.2 2.2l-5.8 1.4z" color="#4647ff"/><path d="M332.4 165.5l5.8 -1.4l4.2 2.2l-5.8 1.4z" color="#4645ff"/><path d="M326.6 166.9l5.8 -1.4l4.2 2.2l-5.8 1.4z" color="#4644fe"/><path d="M320.8 168.3l5.8 -1.4l4.2 2.2l-5.8 1.4z" color="#4642fc"/><path d="M315 169.6l5.8 -1.4l4.2 2.2l-5.8 1.3z" color="#4641fb"/><path d="M309.2 171l5.8 -1.4l4.2 2.2l-5.8 1.3z" color="#463ff9"/><path d="M303.4 172.3l5.8 -1.3l4.2 2.2l-5.8 1.3z" color="#463ef8"/><path d="M297.6 173.6l5.8 -1.3l4.2 2.2l-5.8 1.3z" color="#463cf6"/><path d="M291.8 175l5.8 -1.3l4.2 2.2l-5.8 1.3z" color="#463bf4"/><path d="M286 176.3l5.8 -1.3l4.2 2.1l-5.8 1.3z" color="#463af3"/><path d="M280.2 177.6l5.8 -1.3l4.2 2.1l-5.8 1.3z" color="#4639f1"/><path d="M274.4 178.9l5.8 -1.3l4.2 2.1l-5.8 1.3z" color="#4538ef"/><path d="M268.6 180.2l5.8 -1.3l4.2 2.1l-5.8 1.3z" color="#4537ed"/><path d="M262.8 181.4l5.8 -1.3l4.2 2.1l-5.8 1.3z" color="#4536ec"/><path d="M257 182.7l5.8 -1.3l4.2 2.1l-5.8 1.2z" color="#4535ea"/><path d="M251.2 184l5.8 -1.2l4.2 2l-5.8 1.2z" color="#4534e8"/><path d="M245.3 185.2l5.8 -1.2l4.2 2l-5.8 1.2z" color="#4534e7"/><path d="M239.5 186.4l5.8 -1.2l4.2 2l-5.8 1.2z" color="#4533e5"/><path d="M233.7 187.6l5.8 -1.2l4.2 2l-5.8 1.2z" color="#4433e4"/><path d="M227.9 188.8l5.8 -1.2l4.2 1.9l-5.8 1.2z" color="#4432e3"/><path d="M222.1 190l5.8 -1.2l4.2 1.9l-5.8 1.1z" color="#4432e2"/><path d="M216.3 191.1l5.8 -1.2l4.2 1.9l-5.8 1.1z" color="#4431e1"/><path d="M210.5 192.3l5.8 -1.1l4.2 1.9l-5.8 1.1z" color="#4431e0"/><path d="M204.7 193.4l5.8 -1.1l4.2 1.8l-5.8 1.1z" color="#4431e0"/><path d="M476 134.2l5.8 -1.4l4.2 2.1l-5.8 1.4z" color="#3b6bff"/><path d="M470.2 135.6l5.8 -1.4l4.2 2.2l-5.8 1.4z" color="#3d6aff"/><path d="M464.4 137l5.8 -1.4l4.2 2.2l-5.8 1.4z" color="#3e68ff"/><path d="M458.6 138.4l5.8 -1.4l4.2 2.2l-5.8 1.4z" color="#3f66ff"/><path d="M452.7 139.8l5.8 -1.4l4.2 2.2l-5.8 1.4z" color="#4064ff"/><path d="M446.9 141.2l5.8 -1.4l4.2 2.2l-5.8 1.4z" color="#4162ff"/><path d="M441.1 142.6l5.8 -1.4l4.2 2.2l-5.8 1.4z" color="#4160ff"/><path d="M435.3 144l5.8 -1.4l4.2 2.2l-5.8 1.4z" color="#425fff"/><path d="M429.5 145.4l5.8 -1.4l4.2 2.2l-5.8 1.4z" color="#435dff"/><path d="M423.7 146.8l5.8 -1.4l4.2 2.2l-5.8 1.4z" color="#435bff"/><path d="M417.9 148.2l5.8 -1.4l4.2 2.2l-5.8 1.4z" color="#4459ff"/><path d="M412.1 149.6l5.8 -1.4l4.2 2.2l-5.8 1.4z" color="#4457ff"/><path d="M406.3 151l5.8 -1.4l4.2 2.2l-5.8 1.4z" color="#4455ff"/><path d="M400.5 152.4l5.8 -1.4l4.2 2.2l-5.8 1.4z" color="#4554ff"/><path d="M394.7 153.8l5.8 -1.4l4.2 2.2l-5.8 1.4z" color="#4552ff"/><path d="M388.9 155.2l5.8 -1.4l4.2 2.2l-5.8 1.4z" color="#4550ff"/><path d="M383.1 156.6l5.8 -1.4l4.2 2.2l-5.8 1.4z" color="#454eff"/><path d="M377.3 158l5.8 -1.4l4.2 2.2l-5.8 1.4z" color="#464dff"/><path d="M371.5 159.4l5.8 -1.4l4.2 2.2l-5.8 1.4z" color="#464bff"/><path d="M365.7 160.8l5.8 -1.4l4.2 2.2l-5.8 1.4z" color="#4649ff"/><path d="M359.8 162.2l5.8 -1.4l4.2 2.2l-5.8 1.4z" color="#4647ff"/><path d="M354 163.6l5.8 -1.4l4.2 2.2l-5.8 1.4z" color="#4646ff"/><path d="M348.2 165l5.8 -1.4l4.2 2.2l-5.8 1.4z" color="#4644fe"/><path d="M342.4 166.4l5.8 -1.4l4.2 2.2l-5.8 1.4z" color="#4642fd"/><path d="M336.6 167.7l5.8 -1.4l4.2 2.2l-5.8 1.4z" color="#4641fb"/><path d="M330.8 169.1l5.8 -1.4l4.2 2.2l-5.8 1.4z" color="#463ff9"/><path d="M325 170.5l5.8 -1.4l4.2 2.2l-5.8 1.3z" color="#463ef8"/><path d="M319.2 171.8l5.8 -1.3l4.2 2.2l-5.8 1.3z" color="#463cf6"/><path d="M313.4 173.1l5.8 -1.3l4.2 2.2l-5.8 1.3z" color="#463bf4"/><path d="M307.6 174.5l5.8 -1.3l4.2 2.1l-5.8 1.3z" color="#463af2"/><path d="M301.8 175.8l5.8 -1.3l4.2 2.1l-5.8 1.3z" color="#4538f0"/><path d="M296 177.1l5.8 -1.3l4.2 2.1l-5.8 1.3z" color="#4537ee"/><path d="M290.2 178.4l5.8 -1.3l4.2 2.1l-5.8 1.3z" color="#4536ec"/><path d="M284.4 179.7l5.8 -1.3l4.2 2.1l-5.8 1.3z" color="#4535eb"/><path d="M278.6 181l5.8 -1.3l4.2 2.1l-5.8 1.3z" color="#4534e9"/><path d="M272.8 182.3l5.8 -1.3l4.2 2l-5.8 1.2z" color="#4534e7"/><path d="M266.9 183.5l5.8 -1.3l4.2 2l-5.8 1.2z" color="#4533e5"/><path d="M261.1 184.7l5.8 -1.2l4.2 2l-5.8 1.2z" color="#4432e3"/><path d="M255.3 186l5.8 -1.2l4.2 2l-5.8 1.2z" color="#4432e2"/><path d="M249.5 187.2l5.8 -1.2l4.2 2l-5.8 1.2z" color="#4431e0"/><path d="M243.7 188.4l5.8 -1.2l4.2 1.9l-5.8 1.2z" color="#4431df"/><path d="M237.9 189.6l5.8 -1.2l4.2 1.9l-5.8 1.2z" color="#4430de"/><path d="M232.1 190.7l5.8 -1.2l4.2 1.9l-5.8 1.1z" color="#4430dd"/><path d="M226.3 191.9l5.8 -1.1l4.2 1.9l-5.8 1.1z" color="#4430dc"/><path d="M220.5 193l5.8 -1.1l4.2 1.8l-5.8 1.1z" color="#442fdc"/><path d="M214.7 194.1l5.8 -1.1l4.2 1.8l-5.8 1.1z" color="#432fdb"/><path d="M208.9 195.2l5.8 -1.1l4.2 1.8l-5.8 1.1z" color="#432fdb"/><path d="M480.2 136.4l5.8 -1.4l4.2 2.1l-5.8 1.4z" color="#3e67ff"/><path d="M474.3 137.8l5.8 -1.4l4.2 2.1l-5.8 1.4z" color="#3f65ff"/><path d="M468.5 139.2l5.8 -1.4l4.2 2.1l-5.8 1.4z" color="#4063ff"/><path d="M462.7 140.5l5.8 -1.4l4.2 2.1l-5.8 1.4z" color="#4161ff"/><path d="M456.9 141.9l5.8 -1.4l4.2 2.2l-5.8 1.4z" color="#4260ff"/><path d="M451.1 143.3l5.8 -1.4l4.2 2.2l-5.8 1.4z" color="#425eff"/><path d="M445.3 144.8l5.8 -1.4l4.2 2.2l-5.8 1.4z" color="#435cff"/><path d="M439.5 146.2l5.8 -1.4l4.2 2.2l-5.8 1.4z" color="#435aff"/><path d="M433.7 147.6l5.8 -1.4l4.2 2.2l-5.8 1.4z" color="#4458ff"/><path d="M427.9 149l5.8 -1.4l4.2 2.2l-5.8 1.4z" color="#4456ff"/><path d="M422.1 150.4l5.8 -1.4l4.2 2.2l-5.8 1.4z" color="#4555ff"/><path d="M416.3 151.8l5.8 -1.4l4.2 2.2l-5.8 1.4z" color="#4553ff"/><path d="M410.5 153.2l5.8 -1.4l4.2 2.2l-5.8 1.4z" color="#4551ff"/><path d="M404.7 154.6l5.8 -1.4l4.2 2.2l-5.8 1.4z" color="#454fff"/><path d="M398.9 156l5.8 -1.4l4.2 2.2l-5.8 1.4z" color="#454dff"/><path d="M393.1 157.4l5.8 -1.4l4.2 2.2l-5.8 1.4z" color="#464cff"/><path d="M387.3 158.8l5.8 -1.4l4.2 2.2l-5.8 1.4z" color="#464aff"/><path d="M381.4 160.2l5.8 -1.4l4.2 2.2l-5.8 1.4z" color="#4648ff"/><path d="M375.6 161.6l5.8 -1.4l4.2 2.2l-5.8 1.4z" color="#4646ff"/><path d="M369.8 163l5.8 -1.4l4.2 2.2l-5.8 1.4z" color="#4645ff"/><path d="M364 164.4l5.8 -1.4l4.2 2.2l-5.8 1.4z" color="#4643fd"/><path d="M358.2 165.8l5.8 -1.4l4.2 2.2l-5.8 1.4z" color="#4641fb"/><path d="M352.4 167.2l5.8 -1.4l4.2 2.2l-5.8 1.4z" color="#4640fa"/><path d="M346.6 168.6l5.8 -1.4l4.2 2.2l-5.8 1.4z" color="#463ef8"/><path d="M340.8 169.9l5.8 -1.4l4.2 2.2l-5.8 1.4z" color="#463df6"/><path d="M335 171.3l5.8 -1.4l4.2 2.1l-5.8 1.3z" color="#463bf4"/><path d="M329.2 172.6l5.8 -1.3l4.2 2.1l-5.8 1.3z" color="#463af2"/><path d="M323.4 174l5.8 -1.3l4.2 2.1l-5.8 1.3z" color="#4538f0"/><path d="M317.6 175.3l5.8 -1.3l4.2 2.1l-5.8 1.3z" color="#4537ee"/><path d="M311.8 176.6l5.8 -1.3l4.2 2.1l-5.8 1.3z" color="#4536ec"/><path d="M306 177.9l5.8 -1.3l4.2 2.1l-5.8 1.3z" color="#4535ea"/><path d="M300.2 179.2l5.8 -1.3l4.2 2.1l-5.8 1.3z" color="#4534e8"/><path d="M294.3 180.5l5.8 -1.3l4.2 2.1l-5.8 1.3z" color="#4533e6"/><path d="M288.5 181.8l5.8 -1.3l4.2 2l-5.8 1.3z" color="#4432e4"/><path d="M282.7 183l5.8 -1.3l4.2 2l-5.8 1.2z" color="#4432e2"/><path d="M276.9 184.3l5.8 -1.2l4.2 2l-5.8 1.2z" color="#4431e0"/><path d="M271.1 185.5l5.8 -1.2l4.2 2l-5.8 1.2z" color="#4430df"/><path d="M265.3 186.7l5.8 -1.2l4.2 2l-5.8 1.2z" color="#4430dd"/><path d="M259.5 187.9l5.8 -1.2l4.2 1.9l-5.8 1.2z" color="#442fdc"/><path d="M253.7 189.1l5.8 -1.2l4.2 1.9l-5.8 1.2z" color="#432fda"/><path d="M247.9 190.3l5.8 -1.2l4.2 1.9l-5.8 1.1z" color="#432fd9"/><path d="M242.1 191.5l5.8 -1.2l4.2 1.9l-5.8 1.1z" color="#432ed8"/><path d="M236.3 192.6l5.8 -1.1l4.2 1.8l-5.8 1.1z" color="#432ed8"/><path d="M230.5 193.7l5.8 -1.1l4.2 1.8l-5.8 1.1z" color="#432ed7"/><path d="M224.7 194.8l5.8 -1.1l4.2 1.8l-5.8 1.1z" color="#432ed7"/><path d="M218.9 195.9l5.8 -1.1l4.2 1.8l-5.8 1.1z" color="#432ed7"/><path d="M213.1 197l5.8 -1.1l4.2 1.7l-5.8 1z" color="#432ed7"/><path d="M484.3 138.5l5.8 -1.4l4.2 2.1l-5.8 1.4z" color="#4163ff"/><path d="M478.5 139.9l5.8 -1.4l4.2 2.1l-5.8 1.4z" color="#4161ff"/><path d="M472.7 141.3l5.8 -1.4l4.2 2.1l-5.8 1.4z" color="#425fff"/><path d="M466.9 142.7l5.8 -1.4l4.2 2.1l-5.8 1.4z" color="#435dff"/><path d="M461.1 144.1l5.8 -1.4l4.2 2.1l-5.8 1.4z" color="#435bff"/><path d="M455.3 145.5l5.8 -1.4l4.2 2.1l-5.8 1.4z" color="#4459ff"/><path d="M449.5 146.9l5.8 -1.4l4.2 2.1l-5.8 1.4z" color="#4458ff"/><path d="M443.7 148.3l5.8 -1.4l4.2 2.1l-5.8 1.4z" color="#4456ff"/><path d="M437.9 149.8l5.8 -1.4l4.2 2.1l-5.8 1.4z" color="#4554ff"/><path d="M432.1 151.2l5.8 -1.4l4.2 2.2l-5.8 1.4z" color="#4552ff"/><path d="M426.3 152.6l5.8 -1.4l4.2 2.2l-5.8 1.4z" color="#4550ff"/><path d="M420.5 154l5.8 -1.4l4.2 2.2l-5.8 1.4z" color="#454eff"/><path d="M414.7 155.4l5.8 -1.4l4.2 2.2l-5.8 1.4z" color="#464dff"/><path d="M408.9 156.8l5.8 -1.4l4.2 2.2l-5.8 1.4z" color="#464bff"/><path d="M403 158.2l5.8 -1.4l4.2 2.2l-5.8 1.4z" color="#4649ff"/><path d="M397.2 159.6l5.8 -1.4l4.2 2.2l-5.8 1.4z" color="#4647ff"/><path d="M391.4 161l5.8 -1.4l4.2 2.2l-5.8 1.4z" color="#4645ff"/><path d="M385.6 162.4l5.8 -1.4l4.2 2.2l-5.8 1.4z" color="#4644fe"/><path d="M379.8 163.8l5.8 -1.4l4.2 2.2l-5.8 1.4z" color="#4642fc"/><path d="M374 165.2l5.8 -1.4l4.2 2.2l-5.8 1.4z" color="#4640fa"/><path d="M368.2 166.6l5.8 -1.4l4.2 2.1l-5.8 1.4z" color="#463ff9"/><path d="M362.4 168l5.8 -1.4l4.2 2.1l-5.8 1.4z" color="#463df7"/><path d="M356.6 169.3l5.8 -1.4l4.2 2.1l-5.8 1.4z" color="#463bf5"/><path d="M350.8 170.7l5.8 -1.4l4.2 2.1l-5.8 1.4z" color="#463af3"/><path d="M345 172.1l5.8 -1.4l4.2 2.1l-5.8 1.3z" color="#4639f1"/><path d="M339.2 173.4l5.8 -1.3l4.2 2.1l-5.8 1.3z" color="#4537ee"/><path d="M333.4 174.7l5.8 -1.3l4.2 2.1l-5.8 1.3z" color="#4536ec"/><path d="M327.6 176.1l5.8 -1.3l4.2 2.1l-5.8 1.3z" color="#4535ea"/><path d="M321.8 177.4l5.8 -1.3l4.2 2.1l-5.8 1.3z" color="#4534e8"/><path d="M315.9 178.7l5.8 -1.3l4.2 2.1l-5.8 1.3z" color="#4533e5"/><path d="M310.1 180l5.8 -1.3l4.2 2l-5.8 1.3z" color="#4432e3"/><path d="M304.3 181.3l5.8 -1.3l4.2 2l-5.8 1.3z" color="#4431e1"/><path d="M298.5 182.5l5.8 -1.3l4.2 2l-5.8 1.3z" color="#4431df"/><path d="M292.7 183.8l5.8 -1.3l4.2 2l-5.8 1.2z" color="#4430dd"/><path d="M286.9 185l5.8 -1.2l4.2 2l-5.8 1.2z" color="#432fdb"/><path d="M281.1 186.3l5.8 -1.2l4.2 2l-5.8 1.2z" color="#432fda"/><path d="M275.3 187.5l5.8 -1.2l4.2 1.9l-5.8 1.2z" color="#432ed8"/><path d="M269.5 188.7l5.8 -1.2l4.2 1.9l-5.8 1.2z" color="#432ed7"/><path d="M263.7 189.9l5.8 -1.2l4.2 1.9l-5.8 1.2z" color="#432dd5"/><path d="M257.9 191l5.8 -1.2l4.2 1.9l-5.8 1.1z" color="#432dd4"/><path d="M252.1 192.2l5.8 -1.1l4.2 1.8l-5.8 1.1z" color="#432dd4"/><path d="M246.3 193.3l5.8 -1.1l4.2 1.8l-5.8 1.1z" color="#422cd3"/><path d="M240.5 194.4l5.8 -1.1l4.2 1.8l-5.8 1.1z" color="#422cd3"/><path d="M234.7 195.5l5.8 -1.1l4.2 1.8l-5.8 1.1z" color="#422cd2"/><path d="M228.9 196.6l5.8 -1.1l4.2 1.7l-5.8 1z" color="#422cd2"/><path d="M223 197.6l5.8 -1.1l4.2 1.7l-5.8 1z" color="#422cd2"/><path d="M217.2 198.7l5.8 -1l4.2 1.7l-5.8 1z" color="#422cd3"/><path d="M488.5 140.6l5.8 -1.4l4.2 2l-5.8 1.4z" color="#425fff"/><path d="M482.7 142l5.8 -1.4l4.2 2.1l-5.8 1.4z" color="#435dff"/><path d="M476.9 143.4l5.8 -1.4l4.2 2.1l-5.8 1.4z" color="#435bff"/><path d="M471.1 144.8l5.8 -1.4l4.2 2.1l-5.8 1.4z" color="#4459ff"/><path d="M465.3 146.2l5.8 -1.4l4.2 2.1l-5.8 1.4z" color="#4457ff"/><path d="M459.5 147.6l5.8 -1.4l4.2 2.1l-5.8 1.4z" color="#4455ff"/><path d="M453.7 149.1l5.8 -1.4l4.2 2.1l-5.8 1.4z" color="#4554ff"/><path d="M447.9 150.5l5.8 -1.4l4.2 2.1l-5.8 1.4z" color="#4552ff"/><path d="M442.1 151.9l5.8 -1.4l4.2 2.1l-5.8 1.4z" color="#4550ff"/><path d="M436.3 153.3l5.8 -1.4l4.2 2.1l-5.8 1.4z" color="#454eff"/><path d="M430.4 154.7l5.8 -1.4l4.2 2.1l-5.8 1.4z" color="#464cff"/><path d="M424.6 156.2l5.8 -1.4l4.2 2.1l-5.8 1.4z" color="#464aff"/><path d="M418.8 157.6l5.8 -1.4l4.2 2.1l-5.8 1.4z" color="#4648ff"/><path d="M413 159l5.8 -1.4l4.2 2.1l-5.8 1.4z" color="#4646ff"/><path d="M407.2 160.4l5.8 -1.4l4.2 2.1l-5.8 1.4z" color="#4645ff"/><path d="M401.4 161.8l5.8 -1.4l4.2 2.1l-5.8 1.4z" color="#4643fd"/><path d="M395.6 163.2l5.8 -1.4l4.2 2.1l-5.8 1.4z" color="#4641fb"/><path d="M389.8 164.6l5.8 -1.4l4.2 2.1l-5.8 1.4z" color="#463ffa"/><path d="M384 166l5.8 -1.4l4.2 2.1l-5.8 1.4z" color="#463ef8"/><path d="M378.2 167.4l5.8 -1.4l4.2 2.1l-5.8 1.4z" color="#463cf6"/><path d="M372.4 168.7l5.8 -1.4l4.2 2.1l-5.8 1.4z" color="#463bf4"/><path d="M366.6 170.1l5.8 -1.4l4.2 2.1l-5.8 1.4z" color="#4639f1"/><path d="M360.8 171.5l5.8 -1.4l4.2 2.1l-5.8 1.4z" color="#4538ef"/><path d="M355 172.8l5.8 -1.4l4.2 2.1l-5.8 1.3z" color="#4536ed"/><path d="M349.2 174.2l5.8 -1.3l4.2 2.1l-5.8 1.3z" color="#4535ea"/><path d="M343.4 175.5l5.8 -1.3l4.2 2.1l-5.8 1.3z" color="#4534e8"/><path d="M337.5 176.8l5.8 -1.3l4.2 2.1l-5.8 1.3z" color="#4533e5"/><path d="M331.7 178.2l5.8 -1.3l4.2 2.1l-5.8 1.3z" color="#4432e3"/><path d="M325.9 179.5l5.8 -1.3l4.2 2l-5.8 1.3z" color="#4431e1"/><path d="M320.1 180.7l5.8 -1.3l4.2 2l-5.8 1.3z" color="#4430de"/><path d="M314.3 182l5.8 -1.3l4.2 2l-5.8 1.3z" color="#4430dc"/><path d="M308.5 183.3l5.8 -1.3l4.2 2l-5.8 1.2z" color="#432fda"/><path d="M302.7 184.5l5.8 -1.3l4.2 2l-5.8 1.2z" color="#432ed8"/><path d="M296.9 185.8l5.8 -1.2l4.2 2l-5.8 1.2z" color="#432ed6"/><path d="M291.1 187l5.8 -1.2l4.2 1.9l-5.8 1.2z" color="#432dd5"/><path d="M285.3 188.2l5.8 -1.2l4.2 1.9l-5.8 1.2z" color="#432cd3"/><path d="M279.5 189.4l5.8 -1.2l4.2 1.9l-5.8 1.2z" color="#422cd2"/><path d="M273.7 190.6l5.8 -1.2l4.2 1.9l-5.8 1.2z" color="#422cd1"/><path d="M267.9 191.7l5.8 -1.2l4.2 1.8l-5.8 1.1z" color="#422bd0"/><path d="M262.1 192.9l5.8 -1.1l4.2 1.8l-5.8 1.1z" color="#422bcf"/><path d="M256.3 194l5.8 -1.1l4.2 1.8l-5.8 1.1z" color="#422bcf"/><path d="M250.5 195.1l5.8 -1.1l4.2 1.8l-5.8 1.1z" color="#422bce"/><path d="M244.6 196.2l5.8 -1.1l4.2 1.7l-5.8 1.1z" color="#422bce"/><path d="M238.8 197.2l5.8 -1.1l4.2 1.7l-5.8 1z" color="#422bce"/><path d="M233 198.3l5.8 -1l4.2 1.7l-5.8 1z" color="#422bce"/><path d="M227.2 199.3l5.8 -1l4.2 1.6l-5.8 1z" color="#422bcf"/><path d="M221.4 200.3l5.8 -1l4.2 1.6l-5.8 1z" color="#422bd0"/><path d="M492.7 142.7l5.8 -1.4l4.2 2l-5.8 1.4z" color="#435bff"/><path d="M486.9 144.1l5.8 -1.4l4.2 2l-5.8 1.4z" color="#4459ff"/><path d="M481.1 145.5l5.8 -1.4l4.2 2l-5.8 1.4z" color="#4457ff"/><path d="M475.3 146.9l5.8 -1.4l4.2 2l-5.8 1.4z" color="#4455ff"/><path d="M469.5 148.3l5.8 -1.4l4.2 2.1l-5.8 1.4z" color="#4553ff"/><path d="M463.7 149.8l5.8 -1.4l4.2 2.1l-5.8 1.4z" color="#4551ff"/><path d="M457.9 151.2l5.8 -1.4l4.2 2.1l-5.8 1.4z" color="#4550ff"/><path d="M452 152.6l5.8 -1.4l4.2 2.1l-5.8 1.4z" color="#454eff"/><path d="M446.2 154l5.8 -1.4l4.2 2.1l-5.8 1.4z" color="#464cff"/><path d="M440.4 155.4l5.8 -1.4l4.2 2.1l-5.8 1.4z" color="#464aff"/><path d="M434.6 156.9l5.8 -1.4l4.2 2.1l-5.8 1.4z" color="#4648ff"/><path d="M428.8 158.3l5.8 -1.4l4.2 2.1l-5.8 1.4z" color="#4646ff"/><path d="M423 159.7l5.8 -1.4l4.2 2.1l-5.8 1.4z" color="#4644fe"/><path d="M417.2 161.1l5.8 -1.4l4.2 2.1l-5.8 1.4z" color="#4642fd"/><path d="M411.4 162.5l5.8 -1.4l4.2 2.1l-5.8 1.4z" color="#4641fb"/><path d="M405.6 163.9l5.8 -1.4l4.2 2.1l-5.8 1.4z" color="#463ff9"/><path d="M399.8 165.3l5.8 -1.4l4.2 2.1l-5.8 1.4z" color="#463df7"/><path d="M394 166.7l5.8 -1.4l4.2 2.1l-5.8 1.4z" color="#463bf5"/><path d="M388.2 168.1l5.8 -1.4l4.2 2.1l-5.8 1.4z" color="#463af3"/><path d="M382.4 169.5l5.8 -1.4l4.2 2.1l-5.8 1.4z" color="#4538f0"/><path d="M376.6 170.9l5.8 -1.4l4.2 2.1l-5.8 1.4z" color="#4537ee"/><path d="M370.8 172.2l5.8 -1.4l4.2 2.1l-5.8 1.4z" color="#4536eb"/><path d="M365 173.6l5.8 -1.4l4.2 2.1l-5.8 1.3z" color="#4534e9"/><path d="M359.1 174.9l5.8 -1.3l4.2 2.1l-5.8 1.3z" color="#4533e6"/><path d="M353.3 176.3l5.8 -1.3l4.2 2l-5.8 1.3z" color="#4432e3"/><path d="M347.5 177.6l5.8 -1.3l4.2 2l-5.8 1.3z" color="#4431e1"/><path d="M341.7 178.9l5.8 -1.3l4.2 2l-5.8 1.3z" color="#4430de"/><path d="M335.9 180.2l5.8 -1.3l4.2 2l-5.8 1.3z" color="#442fdc"/><path d="M330.1 181.5l5.8 -1.3l4.2 2l-5.8 1.3z" color="#432fda"/><path d="M324.3 182.8l5.8 -1.3l4.2 2l-5.8 1.3z" color="#432ed7"/><path d="M318.5 184l5.8 -1.3l4.2 2l-5.8 1.2z" color="#432dd5"/><path d="M312.7 185.3l5.8 -1.2l4.2 2l-5.8 1.2z" color="#432dd3"/><path d="M306.9 186.5l5.8 -1.2l4.2 1.9l-5.8 1.2z" color="#422cd2"/><path d="M301.1 187.7l5.8 -1.2l4.2 1.9l-5.8 1.2z" color="#422bd0"/><path d="M295.3 188.9l5.8 -1.2l4.2 1.9l-5.8 1.2z" color="#422bcf"/><path d="M289.5 190.1l5.8 -1.2l4.2 1.9l-5.8 1.2z" color="#422acd"/><path d="M283.7 191.3l5.8 -1.2l4.2 1.9l-5.8 1.1z" color="#422acc"/><path d="M277.9 192.4l5.8 -1.2l4.2 1.8l-5.8 1.1z" color="#422acc"/><path d="M272.1 193.6l5.8 -1.1l4.2 1.8l-5.8 1.1z" color="#4129cb"/><path d="M266.2 194.7l5.8 -1.1l4.2 1.8l-5.8 1.1z" color="#4129ca"/><path d="M260.4 195.8l5.8 -1.1l4.2 1.7l-5.8 1.1z" color="#4129ca"/><path d="M254.6 196.8l5.8 -1.1l4.2 1.7l-5.8 1z" color="#4129ca"/><path d="M248.8 197.9l5.8 -1.1l4.2 1.7l-5.8 1z" color="#4129ca"/><path d="M243 198.9l5.8 -1l4.2 1.7l-5.8 1z" color="#4129cb"/><path d="M237.2 199.9l5.8 -1l4.2 1.6l-5.8 1z" color="#412acb"/><path d="M231.4 200.9l5.8 -1l4.2 1.6l-5.8 1z" color="#422acc"/><path d="M225.6 201.9l5.8 -1l4.2 1.6l-5.8 0.9z" color="#422acd"/><path d="M496.9 144.7l5.8 -1.4l4.2 2l-5.8 1.4z" color="#4457ff"/><path d="M491.1 146.1l5.8 -1.4l4.2 2l-5.8 1.4z" color="#4455ff"/><path d="M485.3 147.5l5.8 -1.4l4.2 2l-5.8 1.4z" color="#4554ff"/><path d="M479.5 149l5.8 -1.4l4.2 2l-5.8 1.4z" color="#4552ff"/><path d="M473.6 150.4l5.8 -1.4l4.2 2l-5.8 1.4z" color="#4550ff"/><path d="M467.8 151.8l5.8 -1.4l4.2 2l-5.8 1.4z" color="#454eff"/><path d="M462 153.3l5.8 -1.4l4.2 2l-5.8 1.4z" color="#464cff"/><path d="M456.2 154.7l5.8 -1.4l4.2 2l-5.8 1.4z" color="#464aff"/><path d="M450.4 156.1l5.8 -1.4l4.2 2.1l-5.8 1.4z" color="#4648ff"/><path d="M444.6 157.5l5.8 -1.4l4.2 2.1l-5.8 1.4z" color="#4646ff"/><path d="M438.8 159l5.8 -1.4l4.2 2.1l-5.8 1.4z" color="#4644fe"/><path d="M433 160.4l5.8 -1.4l4.2 2.1l-5.8 1.4z" color="#4642fc"/><path d="M427.2 161.8l5.8 -1.4l4.2 2.1l-5.8 1.4z" color="#4640fb"/><path d="M421.4 163.2l5.8 -1.4l4.2 2.1l-5.8 1.4z" color="#463ef8"/><path d="M415.6 164.6l5.8 -1.4l4.2 2.1l-5.8 1.4z" color="#463df6"/><path d="M409.8 166l5.8 -1.4l4.2 2.1l-5.8 1.4z" color="#463bf4"/><path d="M404 167.4l5.8 -1.4l4.2 2.1l-5.8 1.4z" color="#4639f2"/><path d="M398.2 168.8l5.8 -1.4l4.2 2.1l-5.8 1.4z" color="#4538ef"/><path d="M392.4 170.2l5.8 -1.4l4.2 2.1l-5.8 1.4z" color="#4536ed"/><path d="M386.6 171.6l5.8 -1.4l4.2 2.1l-5.8 1.4z" color="#4535ea"/><path d="M380.7 172.9l5.8 -1.4l4.2 2l-5.8 1.4z" color="#4534e7"/><path d="M374.9 174.3l5.8 -1.4l4.2 2l-5.8 1.3z" color="#4433e4"/><path d="M369.1 175.6l5.8 -1.3l4.2 2l-5.8 1.3z" color="#4432e2"/><path d="M363.3 177l5.8 -1.3l4.2 2l-5.8 1.3z" color="#4431df"/><path d="M357.5 178.3l5.8 -1.3l4.2 2l-5.8 1.3z" color="#4430dc"/><path d="M351.7 179.6l5.8 -1.3l4.2 2l-5.8 1.3z" color="#432fda"/><path d="M345.9 180.9l5.8 -1.3l4.2 2l-5.8 1.3z" color="#432ed7"/><path d="M340.1 182.2l5.8 -1.3l4.2 2l-5.8 1.3z" color="#432dd5"/><path d="M334.3 183.5l5.8 -1.3l4.2 2l-5.8 1.3z" color="#422cd3"/><path d="M328.5 184.7l5.8 -1.3l4.2 1.9l-5.8 1.2z" color="#422cd1"/><path d="M322.7 186l5.8 -1.2l4.2 1.9l-5.8 1.2z" color="#422bcf"/><path d="M316.9 187.2l5.8 -1.2l4.2 1.9l-5.8 1.2z" color="#422acd"/><path d="M311.1 188.4l5.8 -1.2l4.2 1.9l-5.8 1.2z" color="#422acc"/><path d="M305.3 189.6l5.8 -1.2l4.2 1.9l-5.8 1.2z" color="#4129ca"/><path d="M299.5 190.8l5.8 -1.2l4.2 1.8l-5.8 1.2z" color="#4129c9"/><path d="M293.7 192l5.8 -1.2l4.2 1.8l-5.8 1.1z" color="#4128c8"/><path d="M287.8 193.1l5.8 -1.1l4.2 1.8l-5.8 1.1z" color="#4128c7"/><path d="M282 194.2l5.8 -1.1l4.2 1.8l-5.8 1.1z" color="#4128c7"/><path d="M276.2 195.3l5.8 -1.1l4.2 1.8l-5.8 1.1z" color="#4128c6"/><path d="M270.4 196.4l5.8 -1.1l4.2 1.7l-5.8 1.1z" color="#4128c6"/><path d="M264.6 197.5l5.8 -1.1l4.2 1.7l-5.8 1z" color="#4128c6"/><path d="M258.8 198.5l5.8 -1l4.2 1.7l-5.8 1z" color="#4128c6"/><path d="M253 199.5l5.8 -1l4.2 1.6l-5.8 1z" color="#4128c7"/><path d="M247.2 200.5l5.8 -1l4.2 1.6l-5.8 1z" color="#4128c8"/><path d="M241.4 201.5l5.8 -1l4.2 1.6l-5.8 0.9z" color="#4129c9"/><path d="M235.6 202.5l5.8 -1l4.2 1.5l-5.8 0.9z" color="#4129ca"/><path d="M229.8 203.4l5.8 -0.9l4.2 1.5l-5.8 0.9z" color="#412acb"/><path d="M501.1 146.7l5.8 -1.4l4.2 2l-5.8 1.4z" color="#4554ff"/><path d="M495.2 148.1l5.8 -1.4l4.2 2l-5.8 1.4z" color="#4552ff"/><path d="M489.4 149.6l5.8 -1.4l4.2 2l-5.8 1.4z" color="#4550ff"/><path d="M483.6 151l5.8 -1.4l4.2 2l-5.8 1.4z" color="#454eff"/><path d="M477.8 152.4l5.8 -1.4l4.2 2l-5.8 1.4z" color="#464cff"/><path d="M472 153.9l5.8 -1.4l4.2 2l-5.8 1.4z" color="#464aff"/><path d="M466.2 155.3l5.8 -1.4l4.2 2l-5.8 1.4z" color="#4648ff"/><path d="M460.4 156.7l5.8 -1.4l4.2 2l-5.8 1.4z" color="#4646ff"/><path d="M454.6 158.2l5.8 -1.4l4.2 2l-5.8 1.4z" color="#4644fe"/><path d="M448.8 159.6l5.8 -1.4l4.2 2l-5.8 1.4z" color="#4642fc"/><path d="M443 161l5.8 -1.4l4.2 2l-5.8 1.4z" color="#4640fa"/><path d="M437.2 162.5l5.8 -1.4l4.2 2l-5.8 1.4z" color="#463ef8"/><path d="M431.4 163.9l5.8 -1.4l4.2 2l-5.8 1.4z" color="#463df6"/><path d="M425.6 165.3l5.8 -1.4l4.2 2l-5.8 1.4z" color="#463bf4"/><path d="M419.8 166.7l5.8 -1.4l4.2 2l-5.8 1.4z" color="#4639f1"/><path d="M414 168.1l5.8 -1.4l4.2 2l-5.8 1.4z" color="#4538ef"/><path d="M408.2 169.5l5.8 -1.4l4.2 2l-5.8 1.4z" color="#4536ec"/><path d="M402.3 170.9l5.8 -1.4l4.2 2l-5.8 1.4z" color="#4535e9"/><path d="M396.5 172.2l5.8 -1.4l4.2 2l-5.8 1.4z" color="#4533e6"/><path d="M390.7 173.6l5.8 -1.4l4.2 2l-5.8 1.4z" color="#4432e3"/><path d="M384.9 175l5.8 -1.4l4.2 2l-5.8 1.4z" color="#4431e0"/><path d="M379.1 176.3l5.8 -1.3l4.2 2l-5.8 1.3z" color="#4430de"/><path d="M373.3 177.7l5.8 -1.3l4.2 2l-5.8 1.3z" color="#432fdb"/><path d="M367.5 179l5.8 -1.3l4.2 2l-5.8 1.3z" color="#432ed8"/><path d="M361.7 180.3l5.8 -1.3l4.2 2l-5.8 1.3z" color="#432dd5"/><path d="M355.9 181.6l5.8 -1.3l4.2 2l-5.8 1.3z" color="#422cd3"/><path d="M350.1 182.9l5.8 -1.3l4.2 1.9l-5.8 1.3z" color="#422cd1"/><path d="M344.3 184.2l5.8 -1.3l4.2 1.9l-5.8 1.3z" color="#422bce"/><path d="M338.5 185.4l5.8 -1.3l4.2 1.9l-5.8 1.2z" color="#422acc"/><path d="M332.7 186.7l5.8 -1.2l4.2 1.9l-5.8 1.2z" color="#4129cb"/><path d="M326.9 187.9l5.8 -1.2l4.2 1.9l-5.8 1.2z" color="#4129c9"/><path d="M321.1 189.1l5.8 -1.2l4.2 1.9l-5.8 1.2z" color="#4128c7"/><path d="M315.2 190.3l5.8 -1.2l4.2 1.8l-5.8 1.2z" color="#4128c6"/><path d="M309.4 191.5l5.8 -1.2l4.2 1.8l-5.8 1.2z" color="#4127c5"/><path d="M303.6 192.6l5.8 -1.2l4.2 1.8l-5.8 1.1z" color="#4027c4"/><path d="M297.8 193.8l5.8 -1.1l4.2 1.8l-5.8 1.1z" color="#4027c3"/><path d="M292 194.9l5.8 -1.1l4.2 1.8l-5.8 1.1z" color="#4027c2"/><path d="M286.2 196l5.8 -1.1l4.2 1.7l-5.8 1.1z" color="#4027c2"/><path d="M280.4 197.1l5.8 -1.1l4.2 1.7l-5.8 1.1z" color="#4027c2"/><path d="M274.6 198.1l5.8 -1.1l4.2 1.7l-5.8 1z" color="#4027c2"/><path d="M268.8 199.2l5.8 -1l4.2 1.6l-5.8 1z" color="#4027c2"/><path d="M263 200.2l5.8 -1l4.2 1.6l-5.8 1z" color="#4027c3"/><path d="M257.2 201.2l5.8 -1l4.2 1.6l-5.8 1z" color="#4127c4"/><path d="M251.4 202.1l5.8 -1l4.2 1.5l-5.8 0.9z" color="#4127c5"/><path d="M245.6 203.1l5.8 -0.9l4.2 1.5l-5.8 0.9z" color="#4128c6"/><path d="M239.8 204l5.8 -0.9l4.2 1.5l-5.8 0.9z" color="#4128c8"/><path d="M234 204.9l5.8 -0.9l4.2 1.4l-5.8 0.9z" color="#4129ca"/><path d="M505.2 148.6l5.8 -1.4l4.2 1.9l-5.8 1.5z" color="#4551ff"/><path d="M499.4 150.1l5.8 -1.4l4.2 1.9l-5.8 1.5z" color="#454fff"/><path d="M493.6 151.5l5.8 -1.4l4.2 1.9l-5.8 1.5z" color="#464dff"/><path d="M487.8 153l5.8 -1.4l4.2 2l-5.8 1.5z" color="#464bff"/><path d="M482 154.4l5.8 -1.4l4.2 2l-5.8 1.5z" color="#4649ff"/><path d="M476.2 155.9l5.8 -1.4l4.2 2l-5.8 1.5z" color="#4646ff"/><path d="M470.4 157.3l5.8 -1.4l4.2 2l-5.8 1.4z" color="#4644ff"/><path d="M464.6 158.8l5.8 -1.4l4.2 2l-5.8 1.4z" color="#4642fd"/><path d="M458.8 160.2l5.8 -1.4l4.2 2l-5.8 1.4z" color="#4640fb"/><path d="M453 161.6l5.8 -1.4l4.2 2l-5.8 1.4z" color="#463ff9"/><path d="M447.2 163.1l5.8 -1.4l4.2 2l-5.8 1.4z" color="#463df6"/><path d="M441.4 164.5l5.8 -1.4l4.2 2l-5.8 1.4z" color="#463bf4"/><path d="M435.6 165.9l5.8 -1.4l4.2 2l-5.8 1.4z" color="#4639f1"/><path d="M429.8 167.3l5.8 -1.4l4.2 2l-5.8 1.4z" color="#4538ef"/><path d="M423.9 168.7l5.8 -1.4l4.2 2l-5.8 1.4z" color="#4536ec"/><path d="M418.1 170.1l5.8 -1.4l4.2 2l-5.8 1.4z" color="#4535e9"/><path d="M412.3 171.5l5.8 -1.4l4.2 2l-5.8 1.4z" color="#4533e6"/><path d="M406.5 172.9l5.8 -1.4l4.2 2l-5.8 1.4z" color="#4432e3"/><path d="M400.7 174.3l5.8 -1.4l4.2 2l-5.8 1.4z" color="#4431e0"/><path d="M394.9 175.6l5.8 -1.4l4.2 2l-5.8 1.4z" color="#4430dd"/><path d="M389.1 177l5.8 -1.4l4.2 2l-5.8 1.3z" color="#432fda"/><path d="M383.3 178.3l5.8 -1.3l4.2 2l-5.8 1.3z" color="#432ed7"/><path d="M377.5 179.6l5.8 -1.3l4.2 2l-5.8 1.3z" color="#432dd4"/><path d="M371.7 181l5.8 -1.3l4.2 1.9l-5.8 1.3z" color="#422cd1"/><path d="M365.9 182.3l5.8 -1.3l4.2 1.9l-5.8 1.3z" color="#422bcf"/><path d="M360.1 183.5l5.8 -1.3l4.2 1.9l-5.8 1.3z" color="#422acd"/><path d="M354.3 184.8l5.8 -1.3l4.2 1.9l-5.8 1.3z" color="#4129ca"/><path d="M348.5 186.1l5.8 -1.3l4.2 1.9l-5.8 1.2z" color="#4129c8"/><path d="M342.7 187.3l5.8 -1.2l4.2 1.9l-5.8 1.2z" color="#4128c7"/><path d="M336.8 188.5l5.8 -1.2l4.2 1.9l-5.8 1.2z" color="#4127c5"/><path d="M331 189.7l5.8 -1.2l4.2 1.8l-5.8 1.2z" color="#4027c3"/><path d="M325.2 190.9l5.8 -1.2l4.2 1.8l-5.8 1.2z" color="#4026c2"/><path d="M319.4 192.1l5.8 -1.2l4.2 1.8l-5.8 1.2z" color="#4026c0"/><path d="M313.6 193.3l5.8 -1.2l4.2 1.8l-5.8 1.1z" color="#4026bf"/><path d="M307.8 194.4l5.8 -1.1l4.2 1.8l-5.8 1.1z" color="#4026bf"/><path d="M302 195.5l5.8 -1.1l4.2 1.7l-5.8 1.1z" color="#4025be"/><path d="M296.2 196.6l5.8 -1.1l4.2 1.7l-5.8 1.1z" color="#4025be"/><path d="M290.4 197.7l5.8 -1.1l4.2 1.7l-5.8 1z" color="#4025be"/><path d="M284.6 198.7l5.8 -1.1l4.2 1.7l-5.8 1z" color="#4025be"/><path d="M278.8 199.8l5.8 -1l4.2 1.6l-5.8 1z" color="#4026be"/><path d="M273 200.8l5.8 -1l4.2 1.6l-5.8 1z" color="#4026bf"/><path d="M267.2 201.7l5.8 -1l4.2 1.6l-5.8 0.9z" color="#4026c0"/><path d="M261.4 202.7l5.8 -1l4.2 1.5l-5.8 0.9z" color="#4026c1"/><path d="M255.6 203.6l5.8 -0.9l4.2 1.5l-5.8 0.9z" color="#4027c3"/><path d="M249.8 204.5l5.8 -0.9l4.2 1.5l-5.8 0.9z" color="#4127c5"/><path d="M243.9 205.4l5.8 -0.9l4.2 1.4l-5.8 0.8z" color="#4128c7"/><path d="M238.1 206.3l5.8 -0.9l4.2 1.4l-5.8 0.8z" color="#4129c9"/><path d="M509.4 150.6l5.8 -1.5l4.2 1.9l-5.8 1.5z" color="#454eff"/><path d="M503.6 152l5.8 -1.5l4.2 1.9l-5.8 1.5z" color="#464cff"/><path d="M497.8 153.5l5.8 -1.5l4.2 1.9l-5.8 1.5z" color="#4649ff"/><path d="M492 154.9l5.8 -1.5l4.2 1.9l-5.8 1.5z" color="#4647ff"/><path d="M486.2 156.4l5.8 -1.5l4.2 1.9l-5.8 1.5z" color="#4645ff"/><path d="M480.4 157.9l5.8 -1.5l4.2 1.9l-5.8 1.5z" color="#4643fd"/><path d="M474.6 159.3l5.8 -1.4l4.2 1.9l-5.8 1.5z" color="#4641fb"/><path d="M468.8 160.8l5.8 -1.4l4.2 2l-5.8 1.5z" color="#463ff9"/><path d="M463 162.2l5.8 -1.4l4.2 2l-5.8 1.4z" color="#463df7"/><path d="M457.2 163.6l5.8 -1.4l4.2 2l-5.8 1.4z" color="#463bf4"/><path d="M451.3 165.1l5.8 -1.4l4.2 2l-5.8 1.4z" color="#4639f2"/><path d="M445.5 166.5l5.8 -1.4l4.2 2l-5.8 1.4z" color="#4538ef"/><path d="M439.7 167.9l5.8 -1.4l4.2 2l-5.8 1.4z" color="#4536ec"/><path d="M433.9 169.3l5.8 -1.4l4.2 2l-5.8 1.4z" color="#4535e9"/><path d="M428.1 170.7l5.8 -1.4l4.2 2l-5.8 1.4z" color="#4533e6"/><path d="M422.3 172.1l5.8 -1.4l4.2 2l-5.8 1.4z" color="#4432e3"/><path d="M416.5 173.5l5.8 -1.4l4.2 2l-5.8 1.4z" color="#4431df"/><path d="M410.7 174.9l5.8 -1.4l4.2 2l-5.8 1.4z" color="#4430dc"/><path d="M404.9 176.2l5.8 -1.4l4.2 2l-5.8 1.4z" color="#432ed9"/><path d="M399.1 177.6l5.8 -1.4l4.2 1.9l-5.8 1.3z" color="#432dd6"/><path d="M393.3 178.9l5.8 -1.3l4.2 1.9l-5.8 1.3z" color="#422cd3"/><path d="M387.5 180.3l5.8 -1.3l4.2 1.9l-5.8 1.3z" color="#422bd0"/><path d="M381.7 181.6l5.8 -1.3l4.2 1.9l-5.8 1.3z" color="#422ace"/><path d="M375.9 182.9l5.8 -1.3l4.2 1.9l-5.8 1.3z" color="#412acb"/><path d="M370.1 184.2l5.8 -1.3l4.2 1.9l-5.8 1.3z" color="#4129c9"/><path d="M364.3 185.5l5.8 -1.3l4.2 1.9l-5.8 1.3z" color="#4128c7"/><path d="M358.4 186.7l5.8 -1.3l4.2 1.9l-5.8 1.2z" color="#4127c4"/><path d="M352.6 188l5.8 -1.2l4.2 1.9l-5.8 1.2z" color="#4027c2"/><path d="M346.8 189.2l5.8 -1.2l4.2 1.8l-5.8 1.2z" color="#4026c0"/><path d="M341 190.4l5.8 -1.2l4.2 1.8l-5.8 1.2z" color="#4026bf"/><path d="M335.2 191.6l5.8 -1.2l4.2 1.8l-5.8 1.2z" color="#4025bd"/><path d="M329.4 192.7l5.8 -1.2l4.2 1.8l-5.8 1.1z" color="#3f25bc"/><path d="M323.6 193.9l5.8 -1.2l4.2 1.8l-5.8 1.1z" color="#3f25bb"/><path d="M317.8 195l5.8 -1.1l4.2 1.7l-5.8 1.1z" color="#3f24bb"/><path d="M312 196.1l5.8 -1.1l4.2 1.7l-5.8 1.1z" color="#3f24ba"/><path d="M306.2 197.2l5.8 -1.1l4.2 1.7l-5.8 1.1z" color="#3f24ba"/><path d="M300.4 198.3l5.8 -1.1l4.2 1.7l-5.8 1z" color="#3f24ba"/><path d="M294.6 199.3l5.8 -1l4.2 1.6l-5.8 1z" color="#3f24ba"/><path d="M288.8 200.4l5.8 -1l4.2 1.6l-5.8 1z" color="#3f24ba"/><path d="M283 201.4l5.8 -1l4.2 1.6l-5.8 1z" color="#3f25bb"/><path d="M277.2 202.3l5.8 -1l4.2 1.5l-5.8 0.9z" color="#3f25bc"/><path d="M271.4 203.3l5.8 -0.9l4.2 1.5l-5.8 0.9z" color="#4025be"/><path d="M265.5 204.2l5.8 -0.9l4.2 1.5l-5.8 0.9z" color="#4026bf"/><path d="M259.7 205.1l5.8 -0.9l4.2 1.4l-5.8 0.9z" color="#4026c1"/><path d="M253.9 206l5.8 -0.9l4.2 1.4l-5.8 0.8z" color="#4027c4"/><path d="M248.1 206.8l5.8 -0.8l4.2 1.4l-5.8 0.8z" color="#4128c6"/><path d="M242.3 207.6l5.8 -0.8l4.2 1.3l-5.8 0.8z" color="#4129c9"/></g></defs>
<use href="#sf" fill="currentColor" stroke="currentColor" stroke-width="0.7" stroke-linejoin="round"/>
<use href="#sf" fill="none" stroke="#000" stroke-width="0.31" stroke-opacity="0.7" stroke-linejoin="round"/>
<g fill="none" stroke="#ff0000" stroke-width="1.45"><circle cx="37.6" cy="69.1" r="1.45"/><circle cx="37.6" cy="74" r="1.45"/><circle cx="37.6" cy="82" r="1.45"/><circle cx="37.6" cy="84.4" r="1.45"/><circle cx="37.6" cy="86.9" r="1.45"/><circle cx="37.6" cy="93.5" r="1.45"/><circle cx="107.5" cy="109.8" r="1.45"/><circle cx="107.4" cy="129.1" r="1.45"/><circle cx="107.4" cy="132.6" r="1.45"/><circle cx="107.4" cy="137.7" r="1.45"/><circle cx="107.3" cy="150.4" r="1.45"/><circle cx="107.3" cy="168.8" r="1.45"/><circle cx="177.2" cy="151.7" r="1.45"/><circle cx="177.3" cy="170.3" r="1.45"/><circle cx="177.3" cy="174.4" r="1.45"/><circle cx="177.3" cy="175.4" r="1.45"/><circle cx="177.3" cy="176.4" r="1.45"/><circle cx="177.2" cy="194" r="1.45"/><circle cx="177.2" cy="207.4" r="1.45"/><circle cx="246.9" cy="182.1" r="1.45"/><circle cx="247" cy="209.4" r="1.45"/><circle cx="247" cy="211.9" r="1.45"/><circle cx="247" cy="219.5" r="1.45"/><circle cx="247" cy="224.7" r="1.45"/><circle cx="173.9" cy="37.6" r="1.45"/><circle cx="173.9" cy="41.6" r="1.45"/><circle cx="310.5" cy="7" r="1.45"/><circle cx="310.5" cy="17.5" r="1.45"/><circle cx="310.5" cy="21.7" r="1.45"/><circle cx="380" cy="46.4" r="1.45"/><circle cx="380.3" cy="66.9" r="1.45"/><circle cx="380.3" cy="67.9" r="1.45"/><circle cx="380.3" cy="69" r="1.45"/><circle cx="449.6" cy="86.2" r="1.45"/><circle cx="449.7" cy="104.7" r="1.45"/><circle cx="449.7" cy="111.3" r="1.45"/><circle cx="519.4" cy="122" r="1.45"/><circle cx="519.5" cy="150.9" r="1.45"/><circle cx="519.5" cy="153.3" r="1.45"/><circle cx="519.5" cy="155.6" r="1.45"/><circle cx="519.5" cy="166.8" r="1.45"/><circle cx="383.3" cy="158.2" r="1.45"/><circle cx="383.3" cy="180.8" r="1.45"/><circle cx="383.3" cy="188.6" r="1.45"/><circle cx="383.3" cy="192.1" r="1.45"/><circle cx="383.3" cy="200.2" r="1.45"/><circle cx="243.7" cy="75.5" r="1.45"/><circle cx="243.7" cy="100.2" r="1.45"/><circle cx="243.7" cy="101.5" r="1.45"/><circle cx="243.7" cy="102.8" r="1.45"/><circle cx="243.7" cy="104.1" r="1.45"/><circle cx="313.5" cy="121.3" r="1.45"/><circle cx="313.5" cy="145" r="1.45"/><circle cx="313.5" cy="148.1" r="1.45"/></g>
<rect x="430.6" y="13.7" width="70" height="15.6" fill="#fff" stroke="#8c8c8c" stroke-width="0.7"/>
<circle cx="440.4" cy="21.8" r="1.45" fill="none" stroke="#ff0000" stroke-width="1.45"/>
<text transform="translate(450.2 26.6) scale(1 1.08)" font-size="11.6" style="fill:#000;stroke:#000">Raw data</text>
<text x="27.4" y="194.7" font-size="12.9" text-anchor="end">0</text>
<text x="27.4" y="151.9" font-size="12.9" text-anchor="end">1</text>
<text x="27.4" y="109.2" font-size="12.9" text-anchor="end">2</text>
<text x="27.4" y="66.4" font-size="12.9" text-anchor="end">3</text>
<text x="27.2" y="207.4" font-size="12.9" text-anchor="end">100</text>
<text x="96.9" y="228.4" font-size="12.9" text-anchor="end">80</text>
<text x="166.5" y="249.5" font-size="12.9" text-anchor="end">60</text>
<text x="236.2" y="270.5" font-size="12.9" text-anchor="end">40</text>
<text x="257" y="271.7" font-size="12.9" text-anchor="start">0.4</text>
<text x="325.2" y="259.5" font-size="12.9" text-anchor="start">0.5</text>
<text x="393.4" y="247.3" font-size="12.9" text-anchor="start">0.6</text>
<text x="461.7" y="235.1" font-size="12.9" text-anchor="start">0.7</text>
<text x="529.9" y="222.9" font-size="12.9" text-anchor="start">0.8</text>
<text x="6.2" y="41.6" font-size="14.8">×</text><text x="16.6" y="40.3" font-size="12.9">10</text><text x="30.1" y="33.7" font-size="10">4</text>
<text x="99.8" y="277.3" font-size="14.2" text-anchor="middle">Infill density (%)</text>
<text x="411" y="280.6" font-size="14.2" text-anchor="middle">Nozzle size (mm)</text>
<text transform="translate(14.2 122.8) rotate(-90)" font-size="14.4" text-anchor="middle">Stiffness (N/m)</text>
</svg></body></html>
